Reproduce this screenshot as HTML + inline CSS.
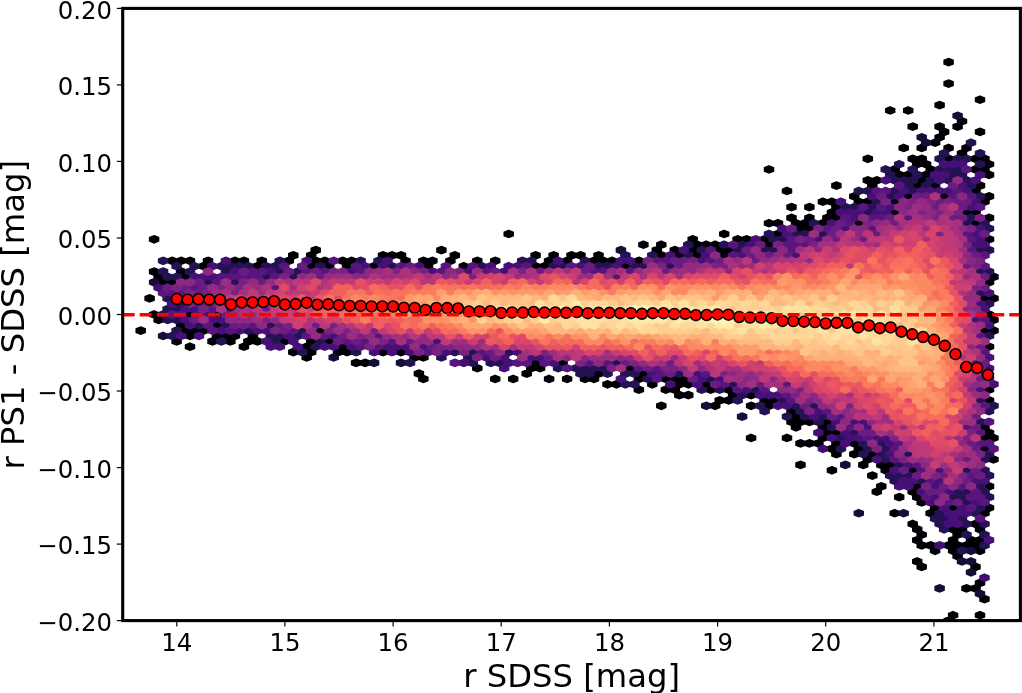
<!DOCTYPE html>
<html><head><meta charset="utf-8"><style>
html,body{margin:0;padding:0;background:#fff;overflow:hidden}
svg{display:block}
text{font-family:"DejaVu Sans","Liberation Sans",sans-serif;fill:#000}
</style></head><body>
<svg width="1022" height="693" viewBox="0 0 1022 693">
<rect width="1022" height="693" fill="#fff"/>
<clipPath id="ax"><rect x="122.7" y="8.4" width="897.7" height="612.2"/></clipPath>
<g stroke-width="1.5" stroke-linejoin="miter" clip-path="url(#ax)">
<path fill="#000004" stroke="#000004" d="M176.6 337.8l4.49 1.79v3.58l-4.49 1.79l-4.49 -1.79v-3.58zM185.5 327.0l4.49 1.79v3.58l-4.49 1.79l-4.49 -1.79v-3.58zM185.5 273.3l4.49 1.79v3.58l-4.49 1.79l-4.49 -1.79v-3.58zM194.5 327.0l4.49 1.79v3.58l-4.49 1.79l-4.49 -1.79v-3.58zM203.5 327.0l4.49 1.79v3.58l-4.49 1.79l-4.49 -1.79v-3.58zM203.5 262.6l4.49 1.79v3.58l-4.49 1.79l-4.49 -1.79v-3.58zM212.5 337.8l4.49 1.79v3.58l-4.49 1.79l-4.49 -1.79v-3.58zM230.4 337.8l4.49 1.79v3.58l-4.49 1.79l-4.49 -1.79v-3.58zM248.4 337.8l4.49 1.79v3.58l-4.49 1.79l-4.49 -1.79v-3.58zM257.4 337.8l4.49 1.79v3.58l-4.49 1.79l-4.49 -1.79v-3.58zM257.4 262.6l4.49 1.79v3.58l-4.49 1.79l-4.49 -1.79v-3.58zM284.3 337.8l4.49 1.79v3.58l-4.49 1.79l-4.49 -1.79v-3.58zM293.3 348.5l4.49 1.79v3.58l-4.49 1.79l-4.49 -1.79v-3.58zM293.3 251.8l4.49 1.79v3.58l-4.49 1.79l-4.49 -1.79v-3.58zM311.2 337.8l4.49 1.79v3.58l-4.49 1.79l-4.49 -1.79v-3.58zM311.2 262.6l4.49 1.79v3.58l-4.49 1.79l-4.49 -1.79v-3.58zM320.2 327.0l4.49 1.79v3.58l-4.49 1.79l-4.49 -1.79v-3.58zM329.2 337.8l4.49 1.79v3.58l-4.49 1.79l-4.49 -1.79v-3.58zM329.2 262.6l4.49 1.79v3.58l-4.49 1.79l-4.49 -1.79v-3.58zM338.1 348.5l4.49 1.79v3.58l-4.49 1.79l-4.49 -1.79v-3.58zM347.1 348.5l4.49 1.79v3.58l-4.49 1.79l-4.49 -1.79v-3.58zM347.1 262.6l4.49 1.79v3.58l-4.49 1.79l-4.49 -1.79v-3.58zM374.1 262.6l4.49 1.79v3.58l-4.49 1.79l-4.49 -1.79v-3.58zM383.0 348.5l4.49 1.79v3.58l-4.49 1.79l-4.49 -1.79v-3.58zM392.0 251.8l4.49 1.79v3.58l-4.49 1.79l-4.49 -1.79v-3.58zM401.0 348.5l4.49 1.79v3.58l-4.49 1.79l-4.49 -1.79v-3.58zM401.0 251.8l4.49 1.79v3.58l-4.49 1.79l-4.49 -1.79v-3.58zM427.9 262.6l4.49 1.79v3.58l-4.49 1.79l-4.49 -1.79v-3.58zM463.8 262.6l4.49 1.79v3.58l-4.49 1.79l-4.49 -1.79v-3.58zM526.7 370.0l4.49 1.79v3.58l-4.49 1.79l-4.49 -1.79v-3.58zM535.6 359.3l4.49 1.79v3.58l-4.49 1.79l-4.49 -1.79v-3.58zM535.6 262.6l4.49 1.79v3.58l-4.49 1.79l-4.49 -1.79v-3.58zM544.6 262.6l4.49 1.79v3.58l-4.49 1.79l-4.49 -1.79v-3.58zM553.6 251.8l4.49 1.79v3.58l-4.49 1.79l-4.49 -1.79v-3.58zM562.6 359.3l4.49 1.79v3.58l-4.49 1.79l-4.49 -1.79v-3.58zM571.5 251.8l4.49 1.79v3.58l-4.49 1.79l-4.49 -1.79v-3.58zM598.5 370.0l4.49 1.79v3.58l-4.49 1.79l-4.49 -1.79v-3.58zM598.5 251.8l4.49 1.79v3.58l-4.49 1.79l-4.49 -1.79v-3.58zM616.4 380.7l4.49 1.79v3.58l-4.49 1.79l-4.49 -1.79v-3.58zM625.4 262.6l4.49 1.79v3.58l-4.49 1.79l-4.49 -1.79v-3.58zM643.4 370.0l4.49 1.79v3.58l-4.49 1.79l-4.49 -1.79v-3.58zM652.3 380.7l4.49 1.79v3.58l-4.49 1.79l-4.49 -1.79v-3.58zM661.3 251.8l4.49 1.79v3.58l-4.49 1.79l-4.49 -1.79v-3.58zM661.3 241.1l4.49 1.79v3.58l-4.49 1.79l-4.49 -1.79v-3.58zM679.3 380.7l4.49 1.79v3.58l-4.49 1.79l-4.49 -1.79v-3.58zM679.3 251.8l4.49 1.79v3.58l-4.49 1.79l-4.49 -1.79v-3.58zM688.3 380.7l4.49 1.79v3.58l-4.49 1.79l-4.49 -1.79v-3.58zM697.2 251.8l4.49 1.79v3.58l-4.49 1.79l-4.49 -1.79v-3.58zM697.2 241.1l4.49 1.79v3.58l-4.49 1.79l-4.49 -1.79v-3.58zM706.2 380.7l4.49 1.79v3.58l-4.49 1.79l-4.49 -1.79v-3.58zM706.2 241.1l4.49 1.79v3.58l-4.49 1.79l-4.49 -1.79v-3.58zM715.2 241.1l4.49 1.79v3.58l-4.49 1.79l-4.49 -1.79v-3.58zM724.2 251.8l4.49 1.79v3.58l-4.49 1.79l-4.49 -1.79v-3.58zM733.1 391.5l4.49 1.79v3.58l-4.49 1.79l-4.49 -1.79v-3.58zM751.1 391.5l4.49 1.79v3.58l-4.49 1.79l-4.49 -1.79v-3.58zM769.0 402.2l4.49 1.79v3.58l-4.49 1.79l-4.49 -1.79v-3.58zM769.0 241.1l4.49 1.79v3.58l-4.49 1.79l-4.49 -1.79v-3.58zM769.0 219.6l4.49 1.79v3.58l-4.49 1.79l-4.49 -1.79v-3.58zM778.0 230.4l4.49 1.79v3.58l-4.49 1.79l-4.49 -1.79v-3.58zM778.0 219.6l4.49 1.79v3.58l-4.49 1.79l-4.49 -1.79v-3.58zM796.0 423.7l4.49 1.79v3.58l-4.49 1.79l-4.49 -1.79v-3.58zM796.0 413.0l4.49 1.79v3.58l-4.49 1.79l-4.49 -1.79v-3.58zM796.0 219.6l4.49 1.79v3.58l-4.49 1.79l-4.49 -1.79v-3.58zM805.0 219.6l4.49 1.79v3.58l-4.49 1.79l-4.49 -1.79v-3.58zM822.9 434.4l4.49 1.79v3.58l-4.49 1.79l-4.49 -1.79v-3.58zM822.9 423.7l4.49 1.79v3.58l-4.49 1.79l-4.49 -1.79v-3.58zM822.9 219.6l4.49 1.79v3.58l-4.49 1.79l-4.49 -1.79v-3.58zM822.9 198.1l4.49 1.79v3.58l-4.49 1.79l-4.49 -1.79v-3.58zM831.9 445.2l4.49 1.79v3.58l-4.49 1.79l-4.49 -1.79v-3.58zM831.9 208.9l4.49 1.79v3.58l-4.49 1.79l-4.49 -1.79v-3.58zM831.9 198.1l4.49 1.79v3.58l-4.49 1.79l-4.49 -1.79v-3.58zM858.8 445.2l4.49 1.79v3.58l-4.49 1.79l-4.49 -1.79v-3.58zM858.8 219.6l4.49 1.79v3.58l-4.49 1.79l-4.49 -1.79v-3.58zM858.8 198.1l4.49 1.79v3.58l-4.49 1.79l-4.49 -1.79v-3.58zM867.8 455.9l4.49 1.79v3.58l-4.49 1.79l-4.49 -1.79v-3.58zM867.8 198.1l4.49 1.79v3.58l-4.49 1.79l-4.49 -1.79v-3.58zM867.8 176.7l4.49 1.79v3.58l-4.49 1.79l-4.49 -1.79v-3.58zM876.8 176.7l4.49 1.79v3.58l-4.49 1.79l-4.49 -1.79v-3.58zM885.7 466.7l4.49 1.79v3.58l-4.49 1.79l-4.49 -1.79v-3.58zM894.7 208.9l4.49 1.79v3.58l-4.49 1.79l-4.49 -1.79v-3.58zM894.7 198.1l4.49 1.79v3.58l-4.49 1.79l-4.49 -1.79v-3.58zM894.7 165.9l4.49 1.79v3.58l-4.49 1.79l-4.49 -1.79v-3.58zM912.7 488.1l4.49 1.79v3.58l-4.49 1.79l-4.49 -1.79v-3.58zM912.7 466.7l4.49 1.79v3.58l-4.49 1.79l-4.49 -1.79v-3.58zM912.7 155.2l4.49 1.79v3.58l-4.49 1.79l-4.49 -1.79v-3.58zM921.7 498.9l4.49 1.79v3.58l-4.49 1.79l-4.49 -1.79v-3.58zM921.7 176.7l4.49 1.79v3.58l-4.49 1.79l-4.49 -1.79v-3.58zM921.7 155.2l4.49 1.79v3.58l-4.49 1.79l-4.49 -1.79v-3.58zM930.6 509.6l4.49 1.79v3.58l-4.49 1.79l-4.49 -1.79v-3.58zM930.6 165.9l4.49 1.79v3.58l-4.49 1.79l-4.49 -1.79v-3.58zM939.6 133.7l4.49 1.79v3.58l-4.49 1.79l-4.49 -1.79v-3.58zM948.6 541.8l4.49 1.79v3.58l-4.49 1.79l-4.49 -1.79v-3.58zM948.6 155.2l4.49 1.79v3.58l-4.49 1.79l-4.49 -1.79v-3.58zM948.6 144.4l4.49 1.79v3.58l-4.49 1.79l-4.49 -1.79v-3.58zM957.6 552.6l4.49 1.79v3.58l-4.49 1.79l-4.49 -1.79v-3.58zM957.6 531.1l4.49 1.79v3.58l-4.49 1.79l-4.49 -1.79v-3.58zM966.5 541.8l4.49 1.79v3.58l-4.49 1.79l-4.49 -1.79v-3.58zM966.5 208.9l4.49 1.79v3.58l-4.49 1.79l-4.49 -1.79v-3.58zM966.5 144.4l4.49 1.79v3.58l-4.49 1.79l-4.49 -1.79v-3.58zM975.5 520.4l4.49 1.79v3.58l-4.49 1.79l-4.49 -1.79v-3.58zM975.5 219.6l4.49 1.79v3.58l-4.49 1.79l-4.49 -1.79v-3.58zM975.5 208.9l4.49 1.79v3.58l-4.49 1.79l-4.49 -1.79v-3.58zM975.5 187.4l4.49 1.79v3.58l-4.49 1.79l-4.49 -1.79v-3.58zM975.5 165.9l4.49 1.79v3.58l-4.49 1.79l-4.49 -1.79v-3.58zM975.5 155.2l4.49 1.79v3.58l-4.49 1.79l-4.49 -1.79v-3.58zM984.5 509.6l4.49 1.79v3.58l-4.49 1.79l-4.49 -1.79v-3.58zM984.5 445.2l4.49 1.79v3.58l-4.49 1.79l-4.49 -1.79v-3.58zM984.5 434.4l4.49 1.79v3.58l-4.49 1.79l-4.49 -1.79v-3.58zM984.5 423.7l4.49 1.79v3.58l-4.49 1.79l-4.49 -1.79v-3.58zM984.5 327.0l4.49 1.79v3.58l-4.49 1.79l-4.49 -1.79v-3.58zM984.5 294.8l4.49 1.79v3.58l-4.49 1.79l-4.49 -1.79v-3.58zM984.5 198.1l4.49 1.79v3.58l-4.49 1.79l-4.49 -1.79v-3.58zM984.5 165.9l4.49 1.79v3.58l-4.49 1.79l-4.49 -1.79v-3.58zM984.5 155.2l4.49 1.79v3.58l-4.49 1.79l-4.49 -1.79v-3.58zM993.5 455.9l4.49 1.79v3.58l-4.49 1.79l-4.49 -1.79v-3.58zM993.5 434.4l4.49 1.79v3.58l-4.49 1.79l-4.49 -1.79v-3.58zM993.5 327.0l4.49 1.79v3.58l-4.49 1.79l-4.49 -1.79v-3.58zM993.5 316.3l4.49 1.79v3.58l-4.49 1.79l-4.49 -1.79v-3.58zM993.5 294.8l4.49 1.79v3.58l-4.49 1.79l-4.49 -1.79v-3.58zM993.5 273.3l4.49 1.79v3.58l-4.49 1.79l-4.49 -1.79v-3.58zM163.1 278.7l4.49 1.79v3.58l-4.49 1.79l-4.49 -1.79v-3.58zM172.1 278.7l4.49 1.79v3.58l-4.49 1.79l-4.49 -1.79v-3.58zM172.1 257.2l4.49 1.79v3.58l-4.49 1.79l-4.49 -1.79v-3.58zM181.1 321.7l4.49 1.79v3.58l-4.49 1.79l-4.49 -1.79v-3.58zM181.1 268.0l4.49 1.79v3.58l-4.49 1.79l-4.49 -1.79v-3.58zM181.1 257.2l4.49 1.79v3.58l-4.49 1.79l-4.49 -1.79v-3.58zM190.0 332.4l4.49 1.79v3.58l-4.49 1.79l-4.49 -1.79v-3.58zM190.0 310.9l4.49 1.79v3.58l-4.49 1.79l-4.49 -1.79v-3.58zM190.0 257.2l4.49 1.79v3.58l-4.49 1.79l-4.49 -1.79v-3.58zM208.0 257.2l4.49 1.79v3.58l-4.49 1.79l-4.49 -1.79v-3.58zM217.0 332.4l4.49 1.79v3.58l-4.49 1.79l-4.49 -1.79v-3.58zM217.0 321.7l4.49 1.79v3.58l-4.49 1.79l-4.49 -1.79v-3.58zM217.0 310.9l4.49 1.79v3.58l-4.49 1.79l-4.49 -1.79v-3.58zM225.9 332.4l4.49 1.79v3.58l-4.49 1.79l-4.49 -1.79v-3.58zM234.9 332.4l4.49 1.79v3.58l-4.49 1.79l-4.49 -1.79v-3.58zM234.9 257.2l4.49 1.79v3.58l-4.49 1.79l-4.49 -1.79v-3.58zM243.9 343.1l4.49 1.79v3.58l-4.49 1.79l-4.49 -1.79v-3.58zM243.9 257.2l4.49 1.79v3.58l-4.49 1.79l-4.49 -1.79v-3.58zM252.9 332.4l4.49 1.79v3.58l-4.49 1.79l-4.49 -1.79v-3.58zM261.8 257.2l4.49 1.79v3.58l-4.49 1.79l-4.49 -1.79v-3.58zM288.8 257.2l4.49 1.79v3.58l-4.49 1.79l-4.49 -1.79v-3.58zM306.7 343.1l4.49 1.79v3.58l-4.49 1.79l-4.49 -1.79v-3.58zM315.7 257.2l4.49 1.79v3.58l-4.49 1.79l-4.49 -1.79v-3.58zM324.7 257.2l4.49 1.79v3.58l-4.49 1.79l-4.49 -1.79v-3.58zM342.6 343.1l4.49 1.79v3.58l-4.49 1.79l-4.49 -1.79v-3.58zM342.6 257.2l4.49 1.79v3.58l-4.49 1.79l-4.49 -1.79v-3.58zM351.6 257.2l4.49 1.79v3.58l-4.49 1.79l-4.49 -1.79v-3.58zM405.5 257.2l4.49 1.79v3.58l-4.49 1.79l-4.49 -1.79v-3.58zM414.5 353.9l4.49 1.79v3.58l-4.49 1.79l-4.49 -1.79v-3.58zM423.4 353.9l4.49 1.79v3.58l-4.49 1.79l-4.49 -1.79v-3.58zM423.4 257.2l4.49 1.79v3.58l-4.49 1.79l-4.49 -1.79v-3.58zM432.4 257.2l4.49 1.79v3.58l-4.49 1.79l-4.49 -1.79v-3.58zM450.4 257.2l4.49 1.79v3.58l-4.49 1.79l-4.49 -1.79v-3.58zM477.3 364.6l4.49 1.79v3.58l-4.49 1.79l-4.49 -1.79v-3.58zM477.3 257.2l4.49 1.79v3.58l-4.49 1.79l-4.49 -1.79v-3.58zM495.2 257.2l4.49 1.79v3.58l-4.49 1.79l-4.49 -1.79v-3.58zM531.2 364.6l4.49 1.79v3.58l-4.49 1.79l-4.49 -1.79v-3.58zM540.1 364.6l4.49 1.79v3.58l-4.49 1.79l-4.49 -1.79v-3.58zM549.1 375.4l4.49 1.79v3.58l-4.49 1.79l-4.49 -1.79v-3.58zM549.1 257.2l4.49 1.79v3.58l-4.49 1.79l-4.49 -1.79v-3.58zM567.1 375.4l4.49 1.79v3.58l-4.49 1.79l-4.49 -1.79v-3.58zM567.1 257.2l4.49 1.79v3.58l-4.49 1.79l-4.49 -1.79v-3.58zM585.0 375.4l4.49 1.79v3.58l-4.49 1.79l-4.49 -1.79v-3.58zM594.0 375.4l4.49 1.79v3.58l-4.49 1.79l-4.49 -1.79v-3.58zM594.0 257.2l4.49 1.79v3.58l-4.49 1.79l-4.49 -1.79v-3.58zM603.0 257.2l4.49 1.79v3.58l-4.49 1.79l-4.49 -1.79v-3.58zM611.9 257.2l4.49 1.79v3.58l-4.49 1.79l-4.49 -1.79v-3.58zM629.9 364.6l4.49 1.79v3.58l-4.49 1.79l-4.49 -1.79v-3.58zM638.9 386.1l4.49 1.79v3.58l-4.49 1.79l-4.49 -1.79v-3.58zM638.9 375.4l4.49 1.79v3.58l-4.49 1.79l-4.49 -1.79v-3.58zM638.9 257.2l4.49 1.79v3.58l-4.49 1.79l-4.49 -1.79v-3.58zM656.8 246.5l4.49 1.79v3.58l-4.49 1.79l-4.49 -1.79v-3.58zM665.8 386.1l4.49 1.79v3.58l-4.49 1.79l-4.49 -1.79v-3.58zM665.8 375.4l4.49 1.79v3.58l-4.49 1.79l-4.49 -1.79v-3.58zM674.8 386.1l4.49 1.79v3.58l-4.49 1.79l-4.49 -1.79v-3.58zM674.8 375.4l4.49 1.79v3.58l-4.49 1.79l-4.49 -1.79v-3.58zM674.8 246.5l4.49 1.79v3.58l-4.49 1.79l-4.49 -1.79v-3.58zM683.8 375.4l4.49 1.79v3.58l-4.49 1.79l-4.49 -1.79v-3.58zM692.7 246.5l4.49 1.79v3.58l-4.49 1.79l-4.49 -1.79v-3.58zM710.7 386.1l4.49 1.79v3.58l-4.49 1.79l-4.49 -1.79v-3.58zM719.7 396.8l4.49 1.79v3.58l-4.49 1.79l-4.49 -1.79v-3.58zM719.7 246.5l4.49 1.79v3.58l-4.49 1.79l-4.49 -1.79v-3.58zM728.6 396.8l4.49 1.79v3.58l-4.49 1.79l-4.49 -1.79v-3.58zM728.6 386.1l4.49 1.79v3.58l-4.49 1.79l-4.49 -1.79v-3.58zM728.6 246.5l4.49 1.79v3.58l-4.49 1.79l-4.49 -1.79v-3.58zM737.6 235.7l4.49 1.79v3.58l-4.49 1.79l-4.49 -1.79v-3.58zM746.6 235.7l4.49 1.79v3.58l-4.49 1.79l-4.49 -1.79v-3.58zM764.6 396.8l4.49 1.79v3.58l-4.49 1.79l-4.49 -1.79v-3.58zM764.6 235.7l4.49 1.79v3.58l-4.49 1.79l-4.49 -1.79v-3.58zM773.5 396.8l4.49 1.79v3.58l-4.49 1.79l-4.49 -1.79v-3.58zM791.5 418.3l4.49 1.79v3.58l-4.49 1.79l-4.49 -1.79v-3.58zM791.5 407.6l4.49 1.79v3.58l-4.49 1.79l-4.49 -1.79v-3.58zM791.5 214.3l4.49 1.79v3.58l-4.49 1.79l-4.49 -1.79v-3.58zM800.5 418.3l4.49 1.79v3.58l-4.49 1.79l-4.49 -1.79v-3.58zM800.5 225.0l4.49 1.79v3.58l-4.49 1.79l-4.49 -1.79v-3.58zM809.4 439.8l4.49 1.79v3.58l-4.49 1.79l-4.49 -1.79v-3.58zM809.4 418.3l4.49 1.79v3.58l-4.49 1.79l-4.49 -1.79v-3.58zM809.4 225.0l4.49 1.79v3.58l-4.49 1.79l-4.49 -1.79v-3.58zM809.4 214.3l4.49 1.79v3.58l-4.49 1.79l-4.49 -1.79v-3.58zM809.4 203.5l4.49 1.79v3.58l-4.49 1.79l-4.49 -1.79v-3.58zM818.4 439.8l4.49 1.79v3.58l-4.49 1.79l-4.49 -1.79v-3.58zM827.4 429.1l4.49 1.79v3.58l-4.49 1.79l-4.49 -1.79v-3.58zM827.4 418.3l4.49 1.79v3.58l-4.49 1.79l-4.49 -1.79v-3.58zM827.4 214.3l4.49 1.79v3.58l-4.49 1.79l-4.49 -1.79v-3.58zM836.4 439.8l4.49 1.79v3.58l-4.49 1.79l-4.49 -1.79v-3.58zM836.4 429.1l4.49 1.79v3.58l-4.49 1.79l-4.49 -1.79v-3.58zM836.4 214.3l4.49 1.79v3.58l-4.49 1.79l-4.49 -1.79v-3.58zM836.4 203.5l4.49 1.79v3.58l-4.49 1.79l-4.49 -1.79v-3.58zM854.3 450.5l4.49 1.79v3.58l-4.49 1.79l-4.49 -1.79v-3.58zM854.3 439.8l4.49 1.79v3.58l-4.49 1.79l-4.49 -1.79v-3.58zM854.3 192.8l4.49 1.79v3.58l-4.49 1.79l-4.49 -1.79v-3.58zM863.3 461.3l4.49 1.79v3.58l-4.49 1.79l-4.49 -1.79v-3.58zM872.3 472.0l4.49 1.79v3.58l-4.49 1.79l-4.49 -1.79v-3.58zM872.3 450.5l4.49 1.79v3.58l-4.49 1.79l-4.49 -1.79v-3.58zM872.3 182.0l4.49 1.79v3.58l-4.49 1.79l-4.49 -1.79v-3.58zM881.3 482.8l4.49 1.79v3.58l-4.49 1.79l-4.49 -1.79v-3.58zM881.3 461.3l4.49 1.79v3.58l-4.49 1.79l-4.49 -1.79v-3.58zM890.2 461.3l4.49 1.79v3.58l-4.49 1.79l-4.49 -1.79v-3.58zM899.2 493.5l4.49 1.79v3.58l-4.49 1.79l-4.49 -1.79v-3.58zM899.2 171.3l4.49 1.79v3.58l-4.49 1.79l-4.49 -1.79v-3.58zM908.2 192.8l4.49 1.79v3.58l-4.49 1.79l-4.49 -1.79v-3.58zM908.2 171.3l4.49 1.79v3.58l-4.49 1.79l-4.49 -1.79v-3.58zM917.2 493.5l4.49 1.79v3.58l-4.49 1.79l-4.49 -1.79v-3.58zM917.2 482.8l4.49 1.79v3.58l-4.49 1.79l-4.49 -1.79v-3.58zM917.2 182.0l4.49 1.79v3.58l-4.49 1.79l-4.49 -1.79v-3.58zM917.2 160.6l4.49 1.79v3.58l-4.49 1.79l-4.49 -1.79v-3.58zM926.1 171.3l4.49 1.79v3.58l-4.49 1.79l-4.49 -1.79v-3.58zM926.1 160.6l4.49 1.79v3.58l-4.49 1.79l-4.49 -1.79v-3.58zM935.1 504.2l4.49 1.79v3.58l-4.49 1.79l-4.49 -1.79v-3.58zM935.1 182.0l4.49 1.79v3.58l-4.49 1.79l-4.49 -1.79v-3.58zM935.1 139.1l4.49 1.79v3.58l-4.49 1.79l-4.49 -1.79v-3.58zM944.1 192.8l4.49 1.79v3.58l-4.49 1.79l-4.49 -1.79v-3.58zM953.1 536.5l4.49 1.79v3.58l-4.49 1.79l-4.49 -1.79v-3.58zM953.1 525.7l4.49 1.79v3.58l-4.49 1.79l-4.49 -1.79v-3.58zM953.1 504.2l4.49 1.79v3.58l-4.49 1.79l-4.49 -1.79v-3.58zM962.0 525.7l4.49 1.79v3.58l-4.49 1.79l-4.49 -1.79v-3.58zM962.0 149.8l4.49 1.79v3.58l-4.49 1.79l-4.49 -1.79v-3.58zM971.0 536.5l4.49 1.79v3.58l-4.49 1.79l-4.49 -1.79v-3.58zM980.0 547.2l4.49 1.79v3.58l-4.49 1.79l-4.49 -1.79v-3.58zM980.0 536.5l4.49 1.79v3.58l-4.49 1.79l-4.49 -1.79v-3.58zM980.0 525.7l4.49 1.79v3.58l-4.49 1.79l-4.49 -1.79v-3.58zM980.0 182.0l4.49 1.79v3.58l-4.49 1.79l-4.49 -1.79v-3.58zM989.0 504.2l4.49 1.79v3.58l-4.49 1.79l-4.49 -1.79v-3.58zM989.0 482.8l4.49 1.79v3.58l-4.49 1.79l-4.49 -1.79v-3.58zM989.0 429.1l4.49 1.79v3.58l-4.49 1.79l-4.49 -1.79v-3.58zM989.0 396.8l4.49 1.79v3.58l-4.49 1.79l-4.49 -1.79v-3.58zM989.0 386.1l4.49 1.79v3.58l-4.49 1.79l-4.49 -1.79v-3.58zM989.0 343.1l4.49 1.79v3.58l-4.49 1.79l-4.49 -1.79v-3.58zM989.0 310.9l4.49 1.79v3.58l-4.49 1.79l-4.49 -1.79v-3.58zM989.0 278.7l4.49 1.79v3.58l-4.49 1.79l-4.49 -1.79v-3.58zM989.0 235.7l4.49 1.79v3.58l-4.49 1.79l-4.49 -1.79v-3.58zM989.0 214.3l4.49 1.79v3.58l-4.49 1.79l-4.49 -1.79v-3.58zM989.0 192.8l4.49 1.79v3.58l-4.49 1.79l-4.49 -1.79v-3.58zM989.0 171.3l4.49 1.79v3.58l-4.49 1.79l-4.49 -1.79v-3.58zM989.0 160.6l4.49 1.79v3.58l-4.49 1.79l-4.49 -1.79v-3.58zM154.1 268.0l4.49 1.79v3.58l-4.49 1.79l-4.49 -1.79v-3.58zM158.6 273.3l4.49 1.79v3.58l-4.49 1.79l-4.49 -1.79v-3.58zM149.6 294.8l4.49 1.79v3.58l-4.49 1.79l-4.49 -1.79v-3.58zM154.1 235.7l4.49 1.79v3.58l-4.49 1.79l-4.49 -1.79v-3.58zM154.1 310.9l4.49 1.79v3.58l-4.49 1.79l-4.49 -1.79v-3.58zM158.6 316.3l4.49 1.79v3.58l-4.49 1.79l-4.49 -1.79v-3.58zM140.7 327.0l4.49 1.79v3.58l-4.49 1.79l-4.49 -1.79v-3.58zM315.7 246.5l4.49 1.79v3.58l-4.49 1.79l-4.49 -1.79v-3.58zM311.2 251.8l4.49 1.79v3.58l-4.49 1.79l-4.49 -1.79v-3.58zM383.0 251.8l4.49 1.79v3.58l-4.49 1.79l-4.49 -1.79v-3.58zM508.7 230.4l4.49 1.79v3.58l-4.49 1.79l-4.49 -1.79v-3.58zM692.7 235.7l4.49 1.79v3.58l-4.49 1.79l-4.49 -1.79v-3.58zM643.4 241.1l4.49 1.79v3.58l-4.49 1.79l-4.49 -1.79v-3.58zM441.4 246.5l4.49 1.79v3.58l-4.49 1.79l-4.49 -1.79v-3.58zM454.8 251.8l4.49 1.79v3.58l-4.49 1.79l-4.49 -1.79v-3.58zM580.5 251.8l4.49 1.79v3.58l-4.49 1.79l-4.49 -1.79v-3.58zM535.6 251.8l4.49 1.79v3.58l-4.49 1.79l-4.49 -1.79v-3.58zM769.0 165.9l4.49 1.79v3.58l-4.49 1.79l-4.49 -1.79v-3.58zM787.0 187.4l4.49 1.79v3.58l-4.49 1.79l-4.49 -1.79v-3.58zM867.8 155.2l4.49 1.79v3.58l-4.49 1.79l-4.49 -1.79v-3.58zM836.4 182.0l4.49 1.79v3.58l-4.49 1.79l-4.49 -1.79v-3.58zM791.5 203.5l4.49 1.79v3.58l-4.49 1.79l-4.49 -1.79v-3.58zM724.2 230.4l4.49 1.79v3.58l-4.49 1.79l-4.49 -1.79v-3.58zM948.6 58.5l4.49 1.79v3.58l-4.49 1.79l-4.49 -1.79v-3.58zM948.6 80.0l4.49 1.79v3.58l-4.49 1.79l-4.49 -1.79v-3.58zM980.0 96.1l4.49 1.79v3.58l-4.49 1.79l-4.49 -1.79v-3.58zM939.6 101.5l4.49 1.79v3.58l-4.49 1.79l-4.49 -1.79v-3.58zM890.2 106.9l4.49 1.79v3.58l-4.49 1.79l-4.49 -1.79v-3.58zM908.2 106.9l4.49 1.79v3.58l-4.49 1.79l-4.49 -1.79v-3.58zM912.7 123.0l4.49 1.79v3.58l-4.49 1.79l-4.49 -1.79v-3.58zM980.0 128.3l4.49 1.79v3.58l-4.49 1.79l-4.49 -1.79v-3.58zM962.0 117.6l4.49 1.79v3.58l-4.49 1.79l-4.49 -1.79v-3.58zM957.6 123.0l4.49 1.79v3.58l-4.49 1.79l-4.49 -1.79v-3.58zM939.6 123.0l4.49 1.79v3.58l-4.49 1.79l-4.49 -1.79v-3.58zM944.1 128.3l4.49 1.79v3.58l-4.49 1.79l-4.49 -1.79v-3.58zM921.7 144.4l4.49 1.79v3.58l-4.49 1.79l-4.49 -1.79v-3.58zM903.7 144.4l4.49 1.79v3.58l-4.49 1.79l-4.49 -1.79v-3.58zM190.0 343.1l4.49 1.79v3.58l-4.49 1.79l-4.49 -1.79v-3.58zM306.7 353.9l4.49 1.79v3.58l-4.49 1.79l-4.49 -1.79v-3.58zM311.2 348.5l4.49 1.79v3.58l-4.49 1.79l-4.49 -1.79v-3.58zM356.1 359.3l4.49 1.79v3.58l-4.49 1.79l-4.49 -1.79v-3.58zM365.1 359.3l4.49 1.79v3.58l-4.49 1.79l-4.49 -1.79v-3.58zM418.9 370.0l4.49 1.79v3.58l-4.49 1.79l-4.49 -1.79v-3.58zM423.4 375.4l4.49 1.79v3.58l-4.49 1.79l-4.49 -1.79v-3.58zM495.2 375.4l4.49 1.79v3.58l-4.49 1.79l-4.49 -1.79v-3.58zM513.2 375.4l4.49 1.79v3.58l-4.49 1.79l-4.49 -1.79v-3.58zM607.5 380.7l4.49 1.79v3.58l-4.49 1.79l-4.49 -1.79v-3.58zM661.3 402.2l4.49 1.79v3.58l-4.49 1.79l-4.49 -1.79v-3.58zM715.2 402.2l4.49 1.79v3.58l-4.49 1.79l-4.49 -1.79v-3.58zM679.3 391.5l4.49 1.79v3.58l-4.49 1.79l-4.49 -1.79v-3.58zM688.3 391.5l4.49 1.79v3.58l-4.49 1.79l-4.49 -1.79v-3.58zM751.1 434.4l4.49 1.79v3.58l-4.49 1.79l-4.49 -1.79v-3.58zM787.0 434.4l4.49 1.79v3.58l-4.49 1.79l-4.49 -1.79v-3.58zM800.5 439.8l4.49 1.79v3.58l-4.49 1.79l-4.49 -1.79v-3.58zM800.5 461.3l4.49 1.79v3.58l-4.49 1.79l-4.49 -1.79v-3.58zM831.9 466.7l4.49 1.79v3.58l-4.49 1.79l-4.49 -1.79v-3.58zM836.4 450.5l4.49 1.79v3.58l-4.49 1.79l-4.49 -1.79v-3.58zM876.8 488.1l4.49 1.79v3.58l-4.49 1.79l-4.49 -1.79v-3.58zM751.1 402.2l4.49 1.79v3.58l-4.49 1.79l-4.49 -1.79v-3.58zM894.7 509.6l4.49 1.79v3.58l-4.49 1.79l-4.49 -1.79v-3.58zM912.7 520.4l4.49 1.79v3.58l-4.49 1.79l-4.49 -1.79v-3.58zM917.2 525.7l4.49 1.79v3.58l-4.49 1.79l-4.49 -1.79v-3.58zM921.7 531.1l4.49 1.79v3.58l-4.49 1.79l-4.49 -1.79v-3.58zM917.2 536.5l4.49 1.79v3.58l-4.49 1.79l-4.49 -1.79v-3.58zM921.7 541.8l4.49 1.79v3.58l-4.49 1.79l-4.49 -1.79v-3.58zM930.6 541.8l4.49 1.79v3.58l-4.49 1.79l-4.49 -1.79v-3.58zM935.1 547.2l4.49 1.79v3.58l-4.49 1.79l-4.49 -1.79v-3.58zM953.1 547.2l4.49 1.79v3.58l-4.49 1.79l-4.49 -1.79v-3.58zM957.6 541.8l4.49 1.79v3.58l-4.49 1.79l-4.49 -1.79v-3.58zM975.5 541.8l4.49 1.79v3.58l-4.49 1.79l-4.49 -1.79v-3.58zM917.2 557.9l4.49 1.79v3.58l-4.49 1.79l-4.49 -1.79v-3.58zM921.7 563.3l4.49 1.79v3.58l-4.49 1.79l-4.49 -1.79v-3.58zM975.5 563.3l4.49 1.79v3.58l-4.49 1.79l-4.49 -1.79v-3.58zM980.0 579.4l4.49 1.79v3.58l-4.49 1.79l-4.49 -1.79v-3.58zM975.5 584.8l4.49 1.79v3.58l-4.49 1.79l-4.49 -1.79v-3.58zM966.5 584.8l4.49 1.79v3.58l-4.49 1.79l-4.49 -1.79v-3.58zM984.5 595.5l4.49 1.79v3.58l-4.49 1.79l-4.49 -1.79v-3.58zM953.1 611.6l4.49 1.79v3.58l-4.49 1.79l-4.49 -1.79v-3.58zM980.0 611.6l4.49 1.79v3.58l-4.49 1.79l-4.49 -1.79v-3.58zM948.6 617.0l4.49 1.79v3.58l-4.49 1.79l-4.49 -1.79v-3.58z"/>
<path fill="#150e38" stroke="#150e38" d="M154.1 278.7l4.49 1.79v3.58l-4.49 1.79l-4.49 -1.79v-3.58zM163.1 332.4l4.49 1.79v3.58l-4.49 1.79l-4.49 -1.79v-3.58zM620.9 246.5l4.49 1.79v3.58l-4.49 1.79l-4.49 -1.79v-3.58zM957.6 112.2l4.49 1.79v3.58l-4.49 1.79l-4.49 -1.79v-3.58zM921.7 133.7l4.49 1.79v3.58l-4.49 1.79l-4.49 -1.79v-3.58zM926.1 139.1l4.49 1.79v3.58l-4.49 1.79l-4.49 -1.79v-3.58zM333.7 353.9l4.49 1.79v3.58l-4.49 1.79l-4.49 -1.79v-3.58zM374.1 359.3l4.49 1.79v3.58l-4.49 1.79l-4.49 -1.79v-3.58zM401.0 359.3l4.49 1.79v3.58l-4.49 1.79l-4.49 -1.79v-3.58zM706.2 402.2l4.49 1.79v3.58l-4.49 1.79l-4.49 -1.79v-3.58zM742.1 413.0l4.49 1.79v3.58l-4.49 1.79l-4.49 -1.79v-3.58zM845.3 461.3l4.49 1.79v3.58l-4.49 1.79l-4.49 -1.79v-3.58zM858.8 509.6l4.49 1.79v3.58l-4.49 1.79l-4.49 -1.79v-3.58zM903.7 509.6l4.49 1.79v3.58l-4.49 1.79l-4.49 -1.79v-3.58zM971.0 547.2l4.49 1.79v3.58l-4.49 1.79l-4.49 -1.79v-3.58zM962.0 557.9l4.49 1.79v3.58l-4.49 1.79l-4.49 -1.79v-3.58zM971.0 557.9l4.49 1.79v3.58l-4.49 1.79l-4.49 -1.79v-3.58zM971.0 568.7l4.49 1.79v3.58l-4.49 1.79l-4.49 -1.79v-3.58zM939.6 584.8l4.49 1.79v3.58l-4.49 1.79l-4.49 -1.79v-3.58zM980.0 590.2l4.49 1.79v3.58l-4.49 1.79l-4.49 -1.79v-3.58z"/>
<path fill="#241253" stroke="#241253" d="M167.6 316.3l4.49 1.79v3.58l-4.49 1.79l-4.49 -1.79v-3.58zM167.6 305.5l4.49 1.79v3.58l-4.49 1.79l-4.49 -1.79v-3.58zM167.6 294.8l4.49 1.79v3.58l-4.49 1.79l-4.49 -1.79v-3.58zM167.6 273.3l4.49 1.79v3.58l-4.49 1.79l-4.49 -1.79v-3.58zM176.6 327.0l4.49 1.79v3.58l-4.49 1.79l-4.49 -1.79v-3.58zM176.6 316.3l4.49 1.79v3.58l-4.49 1.79l-4.49 -1.79v-3.58zM176.6 305.5l4.49 1.79v3.58l-4.49 1.79l-4.49 -1.79v-3.58zM176.6 273.3l4.49 1.79v3.58l-4.49 1.79l-4.49 -1.79v-3.58zM176.6 262.6l4.49 1.79v3.58l-4.49 1.79l-4.49 -1.79v-3.58zM194.5 262.6l4.49 1.79v3.58l-4.49 1.79l-4.49 -1.79v-3.58zM221.4 337.8l4.49 1.79v3.58l-4.49 1.79l-4.49 -1.79v-3.58zM221.4 262.6l4.49 1.79v3.58l-4.49 1.79l-4.49 -1.79v-3.58zM230.4 262.6l4.49 1.79v3.58l-4.49 1.79l-4.49 -1.79v-3.58zM239.4 262.6l4.49 1.79v3.58l-4.49 1.79l-4.49 -1.79v-3.58zM248.4 327.0l4.49 1.79v3.58l-4.49 1.79l-4.49 -1.79v-3.58zM248.4 262.6l4.49 1.79v3.58l-4.49 1.79l-4.49 -1.79v-3.58zM266.3 273.3l4.49 1.79v3.58l-4.49 1.79l-4.49 -1.79v-3.58zM266.3 262.6l4.49 1.79v3.58l-4.49 1.79l-4.49 -1.79v-3.58zM275.3 337.8l4.49 1.79v3.58l-4.49 1.79l-4.49 -1.79v-3.58zM275.3 262.6l4.49 1.79v3.58l-4.49 1.79l-4.49 -1.79v-3.58zM293.3 273.3l4.49 1.79v3.58l-4.49 1.79l-4.49 -1.79v-3.58zM302.2 348.5l4.49 1.79v3.58l-4.49 1.79l-4.49 -1.79v-3.58zM302.2 327.0l4.49 1.79v3.58l-4.49 1.79l-4.49 -1.79v-3.58zM320.2 337.8l4.49 1.79v3.58l-4.49 1.79l-4.49 -1.79v-3.58zM320.2 262.6l4.49 1.79v3.58l-4.49 1.79l-4.49 -1.79v-3.58zM356.1 348.5l4.49 1.79v3.58l-4.49 1.79l-4.49 -1.79v-3.58zM392.0 262.6l4.49 1.79v3.58l-4.49 1.79l-4.49 -1.79v-3.58zM410.0 359.3l4.49 1.79v3.58l-4.49 1.79l-4.49 -1.79v-3.58zM454.8 348.5l4.49 1.79v3.58l-4.49 1.79l-4.49 -1.79v-3.58zM472.8 359.3l4.49 1.79v3.58l-4.49 1.79l-4.49 -1.79v-3.58zM472.8 348.5l4.49 1.79v3.58l-4.49 1.79l-4.49 -1.79v-3.58zM481.8 262.6l4.49 1.79v3.58l-4.49 1.79l-4.49 -1.79v-3.58zM490.8 359.3l4.49 1.79v3.58l-4.49 1.79l-4.49 -1.79v-3.58zM499.7 359.3l4.49 1.79v3.58l-4.49 1.79l-4.49 -1.79v-3.58zM508.7 348.5l4.49 1.79v3.58l-4.49 1.79l-4.49 -1.79v-3.58zM553.6 262.6l4.49 1.79v3.58l-4.49 1.79l-4.49 -1.79v-3.58zM562.6 262.6l4.49 1.79v3.58l-4.49 1.79l-4.49 -1.79v-3.58zM580.5 370.0l4.49 1.79v3.58l-4.49 1.79l-4.49 -1.79v-3.58zM589.5 370.0l4.49 1.79v3.58l-4.49 1.79l-4.49 -1.79v-3.58zM598.5 262.6l4.49 1.79v3.58l-4.49 1.79l-4.49 -1.79v-3.58zM607.5 370.0l4.49 1.79v3.58l-4.49 1.79l-4.49 -1.79v-3.58zM607.5 262.6l4.49 1.79v3.58l-4.49 1.79l-4.49 -1.79v-3.58zM616.4 359.3l4.49 1.79v3.58l-4.49 1.79l-4.49 -1.79v-3.58zM625.4 380.7l4.49 1.79v3.58l-4.49 1.79l-4.49 -1.79v-3.58zM625.4 370.0l4.49 1.79v3.58l-4.49 1.79l-4.49 -1.79v-3.58zM625.4 251.8l4.49 1.79v3.58l-4.49 1.79l-4.49 -1.79v-3.58zM634.4 380.7l4.49 1.79v3.58l-4.49 1.79l-4.49 -1.79v-3.58zM634.4 370.0l4.49 1.79v3.58l-4.49 1.79l-4.49 -1.79v-3.58zM634.4 262.6l4.49 1.79v3.58l-4.49 1.79l-4.49 -1.79v-3.58zM643.4 262.6l4.49 1.79v3.58l-4.49 1.79l-4.49 -1.79v-3.58zM652.3 251.8l4.49 1.79v3.58l-4.49 1.79l-4.49 -1.79v-3.58zM670.3 262.6l4.49 1.79v3.58l-4.49 1.79l-4.49 -1.79v-3.58zM679.3 370.0l4.49 1.79v3.58l-4.49 1.79l-4.49 -1.79v-3.58zM688.3 251.8l4.49 1.79v3.58l-4.49 1.79l-4.49 -1.79v-3.58zM688.3 241.1l4.49 1.79v3.58l-4.49 1.79l-4.49 -1.79v-3.58zM724.2 241.1l4.49 1.79v3.58l-4.49 1.79l-4.49 -1.79v-3.58zM733.1 380.7l4.49 1.79v3.58l-4.49 1.79l-4.49 -1.79v-3.58zM742.1 391.5l4.49 1.79v3.58l-4.49 1.79l-4.49 -1.79v-3.58zM742.1 241.1l4.49 1.79v3.58l-4.49 1.79l-4.49 -1.79v-3.58zM760.1 402.2l4.49 1.79v3.58l-4.49 1.79l-4.49 -1.79v-3.58zM769.0 230.4l4.49 1.79v3.58l-4.49 1.79l-4.49 -1.79v-3.58zM787.0 413.0l4.49 1.79v3.58l-4.49 1.79l-4.49 -1.79v-3.58zM796.0 402.2l4.49 1.79v3.58l-4.49 1.79l-4.49 -1.79v-3.58zM796.0 230.4l4.49 1.79v3.58l-4.49 1.79l-4.49 -1.79v-3.58zM805.0 413.0l4.49 1.79v3.58l-4.49 1.79l-4.49 -1.79v-3.58zM805.0 230.4l4.49 1.79v3.58l-4.49 1.79l-4.49 -1.79v-3.58zM813.9 402.2l4.49 1.79v3.58l-4.49 1.79l-4.49 -1.79v-3.58zM813.9 219.6l4.49 1.79v3.58l-4.49 1.79l-4.49 -1.79v-3.58zM822.9 413.0l4.49 1.79v3.58l-4.49 1.79l-4.49 -1.79v-3.58zM822.9 230.4l4.49 1.79v3.58l-4.49 1.79l-4.49 -1.79v-3.58zM831.9 423.7l4.49 1.79v3.58l-4.49 1.79l-4.49 -1.79v-3.58zM840.9 445.2l4.49 1.79v3.58l-4.49 1.79l-4.49 -1.79v-3.58zM840.9 434.4l4.49 1.79v3.58l-4.49 1.79l-4.49 -1.79v-3.58zM858.8 187.4l4.49 1.79v3.58l-4.49 1.79l-4.49 -1.79v-3.58zM867.8 445.2l4.49 1.79v3.58l-4.49 1.79l-4.49 -1.79v-3.58zM867.8 208.9l4.49 1.79v3.58l-4.49 1.79l-4.49 -1.79v-3.58zM867.8 187.4l4.49 1.79v3.58l-4.49 1.79l-4.49 -1.79v-3.58zM876.8 198.1l4.49 1.79v3.58l-4.49 1.79l-4.49 -1.79v-3.58zM885.7 455.9l4.49 1.79v3.58l-4.49 1.79l-4.49 -1.79v-3.58zM885.7 445.2l4.49 1.79v3.58l-4.49 1.79l-4.49 -1.79v-3.58zM885.7 165.9l4.49 1.79v3.58l-4.49 1.79l-4.49 -1.79v-3.58zM894.7 477.4l4.49 1.79v3.58l-4.49 1.79l-4.49 -1.79v-3.58zM894.7 187.4l4.49 1.79v3.58l-4.49 1.79l-4.49 -1.79v-3.58zM894.7 176.7l4.49 1.79v3.58l-4.49 1.79l-4.49 -1.79v-3.58zM903.7 176.7l4.49 1.79v3.58l-4.49 1.79l-4.49 -1.79v-3.58zM912.7 187.4l4.49 1.79v3.58l-4.49 1.79l-4.49 -1.79v-3.58zM912.7 176.7l4.49 1.79v3.58l-4.49 1.79l-4.49 -1.79v-3.58zM912.7 165.9l4.49 1.79v3.58l-4.49 1.79l-4.49 -1.79v-3.58zM921.7 477.4l4.49 1.79v3.58l-4.49 1.79l-4.49 -1.79v-3.58zM930.6 176.7l4.49 1.79v3.58l-4.49 1.79l-4.49 -1.79v-3.58zM939.6 520.4l4.49 1.79v3.58l-4.49 1.79l-4.49 -1.79v-3.58zM939.6 509.6l4.49 1.79v3.58l-4.49 1.79l-4.49 -1.79v-3.58zM939.6 165.9l4.49 1.79v3.58l-4.49 1.79l-4.49 -1.79v-3.58zM939.6 155.2l4.49 1.79v3.58l-4.49 1.79l-4.49 -1.79v-3.58zM948.6 176.7l4.49 1.79v3.58l-4.49 1.79l-4.49 -1.79v-3.58zM948.6 165.9l4.49 1.79v3.58l-4.49 1.79l-4.49 -1.79v-3.58zM957.6 488.1l4.49 1.79v3.58l-4.49 1.79l-4.49 -1.79v-3.58zM957.6 165.9l4.49 1.79v3.58l-4.49 1.79l-4.49 -1.79v-3.58zM957.6 155.2l4.49 1.79v3.58l-4.49 1.79l-4.49 -1.79v-3.58zM966.5 531.1l4.49 1.79v3.58l-4.49 1.79l-4.49 -1.79v-3.58zM966.5 520.4l4.49 1.79v3.58l-4.49 1.79l-4.49 -1.79v-3.58zM966.5 498.9l4.49 1.79v3.58l-4.49 1.79l-4.49 -1.79v-3.58zM966.5 488.1l4.49 1.79v3.58l-4.49 1.79l-4.49 -1.79v-3.58zM966.5 466.7l4.49 1.79v3.58l-4.49 1.79l-4.49 -1.79v-3.58zM966.5 219.6l4.49 1.79v3.58l-4.49 1.79l-4.49 -1.79v-3.58zM966.5 176.7l4.49 1.79v3.58l-4.49 1.79l-4.49 -1.79v-3.58zM966.5 155.2l4.49 1.79v3.58l-4.49 1.79l-4.49 -1.79v-3.58zM975.5 509.6l4.49 1.79v3.58l-4.49 1.79l-4.49 -1.79v-3.58zM984.5 541.8l4.49 1.79v3.58l-4.49 1.79l-4.49 -1.79v-3.58zM984.5 531.1l4.49 1.79v3.58l-4.49 1.79l-4.49 -1.79v-3.58zM984.5 520.4l4.49 1.79v3.58l-4.49 1.79l-4.49 -1.79v-3.58zM984.5 488.1l4.49 1.79v3.58l-4.49 1.79l-4.49 -1.79v-3.58zM984.5 466.7l4.49 1.79v3.58l-4.49 1.79l-4.49 -1.79v-3.58zM984.5 455.9l4.49 1.79v3.58l-4.49 1.79l-4.49 -1.79v-3.58zM984.5 219.6l4.49 1.79v3.58l-4.49 1.79l-4.49 -1.79v-3.58zM993.5 402.2l4.49 1.79v3.58l-4.49 1.79l-4.49 -1.79v-3.58zM163.1 310.9l4.49 1.79v3.58l-4.49 1.79l-4.49 -1.79v-3.58zM163.1 268.0l4.49 1.79v3.58l-4.49 1.79l-4.49 -1.79v-3.58zM163.1 257.2l4.49 1.79v3.58l-4.49 1.79l-4.49 -1.79v-3.58zM172.1 332.4l4.49 1.79v3.58l-4.49 1.79l-4.49 -1.79v-3.58zM181.1 300.2l4.49 1.79v3.58l-4.49 1.79l-4.49 -1.79v-3.58zM190.0 268.0l4.49 1.79v3.58l-4.49 1.79l-4.49 -1.79v-3.58zM199.0 321.7l4.49 1.79v3.58l-4.49 1.79l-4.49 -1.79v-3.58zM208.0 278.7l4.49 1.79v3.58l-4.49 1.79l-4.49 -1.79v-3.58zM225.9 321.7l4.49 1.79v3.58l-4.49 1.79l-4.49 -1.79v-3.58zM225.9 268.0l4.49 1.79v3.58l-4.49 1.79l-4.49 -1.79v-3.58zM234.9 278.7l4.49 1.79v3.58l-4.49 1.79l-4.49 -1.79v-3.58zM270.8 332.4l4.49 1.79v3.58l-4.49 1.79l-4.49 -1.79v-3.58zM270.8 321.7l4.49 1.79v3.58l-4.49 1.79l-4.49 -1.79v-3.58zM279.8 332.4l4.49 1.79v3.58l-4.49 1.79l-4.49 -1.79v-3.58zM279.8 268.0l4.49 1.79v3.58l-4.49 1.79l-4.49 -1.79v-3.58zM279.8 257.2l4.49 1.79v3.58l-4.49 1.79l-4.49 -1.79v-3.58zM297.8 332.4l4.49 1.79v3.58l-4.49 1.79l-4.49 -1.79v-3.58zM297.8 268.0l4.49 1.79v3.58l-4.49 1.79l-4.49 -1.79v-3.58zM315.7 343.1l4.49 1.79v3.58l-4.49 1.79l-4.49 -1.79v-3.58zM360.6 257.2l4.49 1.79v3.58l-4.49 1.79l-4.49 -1.79v-3.58zM378.5 257.2l4.49 1.79v3.58l-4.49 1.79l-4.49 -1.79v-3.58zM441.4 353.9l4.49 1.79v3.58l-4.49 1.79l-4.49 -1.79v-3.58zM468.3 353.9l4.49 1.79v3.58l-4.49 1.79l-4.49 -1.79v-3.58zM522.2 257.2l4.49 1.79v3.58l-4.49 1.79l-4.49 -1.79v-3.58zM531.2 257.2l4.49 1.79v3.58l-4.49 1.79l-4.49 -1.79v-3.58zM558.1 364.6l4.49 1.79v3.58l-4.49 1.79l-4.49 -1.79v-3.58zM576.0 364.6l4.49 1.79v3.58l-4.49 1.79l-4.49 -1.79v-3.58zM585.0 364.6l4.49 1.79v3.58l-4.49 1.79l-4.49 -1.79v-3.58zM585.0 257.2l4.49 1.79v3.58l-4.49 1.79l-4.49 -1.79v-3.58zM594.0 364.6l4.49 1.79v3.58l-4.49 1.79l-4.49 -1.79v-3.58zM603.0 364.6l4.49 1.79v3.58l-4.49 1.79l-4.49 -1.79v-3.58zM647.9 375.4l4.49 1.79v3.58l-4.49 1.79l-4.49 -1.79v-3.58zM701.7 386.1l4.49 1.79v3.58l-4.49 1.79l-4.49 -1.79v-3.58zM701.7 246.5l4.49 1.79v3.58l-4.49 1.79l-4.49 -1.79v-3.58zM710.7 375.4l4.49 1.79v3.58l-4.49 1.79l-4.49 -1.79v-3.58zM719.7 386.1l4.49 1.79v3.58l-4.49 1.79l-4.49 -1.79v-3.58zM737.6 396.8l4.49 1.79v3.58l-4.49 1.79l-4.49 -1.79v-3.58zM737.6 246.5l4.49 1.79v3.58l-4.49 1.79l-4.49 -1.79v-3.58zM755.6 386.1l4.49 1.79v3.58l-4.49 1.79l-4.49 -1.79v-3.58zM764.6 407.6l4.49 1.79v3.58l-4.49 1.79l-4.49 -1.79v-3.58zM764.6 246.5l4.49 1.79v3.58l-4.49 1.79l-4.49 -1.79v-3.58zM773.5 246.5l4.49 1.79v3.58l-4.49 1.79l-4.49 -1.79v-3.58zM773.5 235.7l4.49 1.79v3.58l-4.49 1.79l-4.49 -1.79v-3.58zM782.5 396.8l4.49 1.79v3.58l-4.49 1.79l-4.49 -1.79v-3.58zM782.5 235.7l4.49 1.79v3.58l-4.49 1.79l-4.49 -1.79v-3.58zM800.5 407.6l4.49 1.79v3.58l-4.49 1.79l-4.49 -1.79v-3.58zM818.4 418.3l4.49 1.79v3.58l-4.49 1.79l-4.49 -1.79v-3.58zM845.3 203.5l4.49 1.79v3.58l-4.49 1.79l-4.49 -1.79v-3.58zM854.3 429.1l4.49 1.79v3.58l-4.49 1.79l-4.49 -1.79v-3.58zM854.3 203.5l4.49 1.79v3.58l-4.49 1.79l-4.49 -1.79v-3.58zM863.3 450.5l4.49 1.79v3.58l-4.49 1.79l-4.49 -1.79v-3.58zM863.3 439.8l4.49 1.79v3.58l-4.49 1.79l-4.49 -1.79v-3.58zM872.3 203.5l4.49 1.79v3.58l-4.49 1.79l-4.49 -1.79v-3.58zM881.3 450.5l4.49 1.79v3.58l-4.49 1.79l-4.49 -1.79v-3.58zM881.3 439.8l4.49 1.79v3.58l-4.49 1.79l-4.49 -1.79v-3.58zM890.2 472.0l4.49 1.79v3.58l-4.49 1.79l-4.49 -1.79v-3.58zM890.2 192.8l4.49 1.79v3.58l-4.49 1.79l-4.49 -1.79v-3.58zM890.2 171.3l4.49 1.79v3.58l-4.49 1.79l-4.49 -1.79v-3.58zM899.2 472.0l4.49 1.79v3.58l-4.49 1.79l-4.49 -1.79v-3.58zM899.2 461.3l4.49 1.79v3.58l-4.49 1.79l-4.49 -1.79v-3.58zM899.2 160.6l4.49 1.79v3.58l-4.49 1.79l-4.49 -1.79v-3.58zM908.2 472.0l4.49 1.79v3.58l-4.49 1.79l-4.49 -1.79v-3.58zM908.2 450.5l4.49 1.79v3.58l-4.49 1.79l-4.49 -1.79v-3.58zM908.2 182.0l4.49 1.79v3.58l-4.49 1.79l-4.49 -1.79v-3.58zM917.2 171.3l4.49 1.79v3.58l-4.49 1.79l-4.49 -1.79v-3.58zM926.1 182.0l4.49 1.79v3.58l-4.49 1.79l-4.49 -1.79v-3.58zM935.1 515.0l4.49 1.79v3.58l-4.49 1.79l-4.49 -1.79v-3.58zM944.1 525.7l4.49 1.79v3.58l-4.49 1.79l-4.49 -1.79v-3.58zM944.1 515.0l4.49 1.79v3.58l-4.49 1.79l-4.49 -1.79v-3.58zM944.1 149.8l4.49 1.79v3.58l-4.49 1.79l-4.49 -1.79v-3.58zM953.1 493.5l4.49 1.79v3.58l-4.49 1.79l-4.49 -1.79v-3.58zM953.1 171.3l4.49 1.79v3.58l-4.49 1.79l-4.49 -1.79v-3.58zM962.0 547.2l4.49 1.79v3.58l-4.49 1.79l-4.49 -1.79v-3.58zM962.0 515.0l4.49 1.79v3.58l-4.49 1.79l-4.49 -1.79v-3.58zM962.0 493.5l4.49 1.79v3.58l-4.49 1.79l-4.49 -1.79v-3.58zM962.0 171.3l4.49 1.79v3.58l-4.49 1.79l-4.49 -1.79v-3.58zM971.0 214.3l4.49 1.79v3.58l-4.49 1.79l-4.49 -1.79v-3.58zM971.0 182.0l4.49 1.79v3.58l-4.49 1.79l-4.49 -1.79v-3.58zM971.0 139.1l4.49 1.79v3.58l-4.49 1.79l-4.49 -1.79v-3.58zM980.0 504.2l4.49 1.79v3.58l-4.49 1.79l-4.49 -1.79v-3.58zM980.0 482.8l4.49 1.79v3.58l-4.49 1.79l-4.49 -1.79v-3.58zM980.0 418.3l4.49 1.79v3.58l-4.49 1.79l-4.49 -1.79v-3.58zM980.0 396.8l4.49 1.79v3.58l-4.49 1.79l-4.49 -1.79v-3.58zM980.0 289.4l4.49 1.79v3.58l-4.49 1.79l-4.49 -1.79v-3.58zM980.0 268.0l4.49 1.79v3.58l-4.49 1.79l-4.49 -1.79v-3.58zM980.0 246.5l4.49 1.79v3.58l-4.49 1.79l-4.49 -1.79v-3.58zM980.0 192.8l4.49 1.79v3.58l-4.49 1.79l-4.49 -1.79v-3.58zM980.0 160.6l4.49 1.79v3.58l-4.49 1.79l-4.49 -1.79v-3.58zM980.0 149.8l4.49 1.79v3.58l-4.49 1.79l-4.49 -1.79v-3.58zM989.0 493.5l4.49 1.79v3.58l-4.49 1.79l-4.49 -1.79v-3.58zM989.0 472.0l4.49 1.79v3.58l-4.49 1.79l-4.49 -1.79v-3.58zM989.0 450.5l4.49 1.79v3.58l-4.49 1.79l-4.49 -1.79v-3.58zM989.0 407.6l4.49 1.79v3.58l-4.49 1.79l-4.49 -1.79v-3.58zM989.0 332.4l4.49 1.79v3.58l-4.49 1.79l-4.49 -1.79v-3.58zM989.0 300.2l4.49 1.79v3.58l-4.49 1.79l-4.49 -1.79v-3.58zM989.0 268.0l4.49 1.79v3.58l-4.49 1.79l-4.49 -1.79v-3.58zM989.0 246.5l4.49 1.79v3.58l-4.49 1.79l-4.49 -1.79v-3.58zM989.0 225.0l4.49 1.79v3.58l-4.49 1.79l-4.49 -1.79v-3.58z"/>
<path fill="#3f0f72" stroke="#3f0f72" d="M158.6 284.1l4.49 1.79v3.58l-4.49 1.79l-4.49 -1.79v-3.58zM822.9 445.2l4.49 1.79v3.58l-4.49 1.79l-4.49 -1.79v-3.58zM939.6 541.8l4.49 1.79v3.58l-4.49 1.79l-4.49 -1.79v-3.58zM984.5 574.1l4.49 1.79v3.58l-4.49 1.79l-4.49 -1.79v-3.58z"/>
<path fill="#471078" stroke="#471078" d="M185.5 316.3l4.49 1.79v3.58l-4.49 1.79l-4.49 -1.79v-3.58zM185.5 305.5l4.49 1.79v3.58l-4.49 1.79l-4.49 -1.79v-3.58zM194.5 305.5l4.49 1.79v3.58l-4.49 1.79l-4.49 -1.79v-3.58zM194.5 273.3l4.49 1.79v3.58l-4.49 1.79l-4.49 -1.79v-3.58zM203.5 273.3l4.49 1.79v3.58l-4.49 1.79l-4.49 -1.79v-3.58zM212.5 316.3l4.49 1.79v3.58l-4.49 1.79l-4.49 -1.79v-3.58zM212.5 273.3l4.49 1.79v3.58l-4.49 1.79l-4.49 -1.79v-3.58zM212.5 262.6l4.49 1.79v3.58l-4.49 1.79l-4.49 -1.79v-3.58zM221.4 327.0l4.49 1.79v3.58l-4.49 1.79l-4.49 -1.79v-3.58zM221.4 316.3l4.49 1.79v3.58l-4.49 1.79l-4.49 -1.79v-3.58zM230.4 305.5l4.49 1.79v3.58l-4.49 1.79l-4.49 -1.79v-3.58zM239.4 327.0l4.49 1.79v3.58l-4.49 1.79l-4.49 -1.79v-3.58zM257.4 327.0l4.49 1.79v3.58l-4.49 1.79l-4.49 -1.79v-3.58zM266.3 337.8l4.49 1.79v3.58l-4.49 1.79l-4.49 -1.79v-3.58zM266.3 327.0l4.49 1.79v3.58l-4.49 1.79l-4.49 -1.79v-3.58zM293.3 337.8l4.49 1.79v3.58l-4.49 1.79l-4.49 -1.79v-3.58zM365.1 262.6l4.49 1.79v3.58l-4.49 1.79l-4.49 -1.79v-3.58zM374.1 348.5l4.49 1.79v3.58l-4.49 1.79l-4.49 -1.79v-3.58zM383.0 262.6l4.49 1.79v3.58l-4.49 1.79l-4.49 -1.79v-3.58zM392.0 348.5l4.49 1.79v3.58l-4.49 1.79l-4.49 -1.79v-3.58zM410.0 348.5l4.49 1.79v3.58l-4.49 1.79l-4.49 -1.79v-3.58zM418.9 262.6l4.49 1.79v3.58l-4.49 1.79l-4.49 -1.79v-3.58zM436.9 337.8l4.49 1.79v3.58l-4.49 1.79l-4.49 -1.79v-3.58zM445.9 348.5l4.49 1.79v3.58l-4.49 1.79l-4.49 -1.79v-3.58zM463.8 359.3l4.49 1.79v3.58l-4.49 1.79l-4.49 -1.79v-3.58zM490.8 262.6l4.49 1.79v3.58l-4.49 1.79l-4.49 -1.79v-3.58zM508.7 359.3l4.49 1.79v3.58l-4.49 1.79l-4.49 -1.79v-3.58zM508.7 262.6l4.49 1.79v3.58l-4.49 1.79l-4.49 -1.79v-3.58zM517.7 348.5l4.49 1.79v3.58l-4.49 1.79l-4.49 -1.79v-3.58zM517.7 262.6l4.49 1.79v3.58l-4.49 1.79l-4.49 -1.79v-3.58zM553.6 359.3l4.49 1.79v3.58l-4.49 1.79l-4.49 -1.79v-3.58zM580.5 262.6l4.49 1.79v3.58l-4.49 1.79l-4.49 -1.79v-3.58zM616.4 262.6l4.49 1.79v3.58l-4.49 1.79l-4.49 -1.79v-3.58zM652.3 370.0l4.49 1.79v3.58l-4.49 1.79l-4.49 -1.79v-3.58zM670.3 380.7l4.49 1.79v3.58l-4.49 1.79l-4.49 -1.79v-3.58zM670.3 251.8l4.49 1.79v3.58l-4.49 1.79l-4.49 -1.79v-3.58zM697.2 380.7l4.49 1.79v3.58l-4.49 1.79l-4.49 -1.79v-3.58zM697.2 370.0l4.49 1.79v3.58l-4.49 1.79l-4.49 -1.79v-3.58zM706.2 251.8l4.49 1.79v3.58l-4.49 1.79l-4.49 -1.79v-3.58zM742.1 251.8l4.49 1.79v3.58l-4.49 1.79l-4.49 -1.79v-3.58zM751.1 241.1l4.49 1.79v3.58l-4.49 1.79l-4.49 -1.79v-3.58zM760.1 391.5l4.49 1.79v3.58l-4.49 1.79l-4.49 -1.79v-3.58zM769.0 391.5l4.49 1.79v3.58l-4.49 1.79l-4.49 -1.79v-3.58zM778.0 402.2l4.49 1.79v3.58l-4.49 1.79l-4.49 -1.79v-3.58zM778.0 391.5l4.49 1.79v3.58l-4.49 1.79l-4.49 -1.79v-3.58zM787.0 402.2l4.49 1.79v3.58l-4.49 1.79l-4.49 -1.79v-3.58zM787.0 230.4l4.49 1.79v3.58l-4.49 1.79l-4.49 -1.79v-3.58zM796.0 251.8l4.49 1.79v3.58l-4.49 1.79l-4.49 -1.79v-3.58zM813.9 413.0l4.49 1.79v3.58l-4.49 1.79l-4.49 -1.79v-3.58zM831.9 434.4l4.49 1.79v3.58l-4.49 1.79l-4.49 -1.79v-3.58zM831.9 219.6l4.49 1.79v3.58l-4.49 1.79l-4.49 -1.79v-3.58zM840.9 208.9l4.49 1.79v3.58l-4.49 1.79l-4.49 -1.79v-3.58zM840.9 198.1l4.49 1.79v3.58l-4.49 1.79l-4.49 -1.79v-3.58zM849.8 434.4l4.49 1.79v3.58l-4.49 1.79l-4.49 -1.79v-3.58zM849.8 208.9l4.49 1.79v3.58l-4.49 1.79l-4.49 -1.79v-3.58zM858.8 434.4l4.49 1.79v3.58l-4.49 1.79l-4.49 -1.79v-3.58zM858.8 208.9l4.49 1.79v3.58l-4.49 1.79l-4.49 -1.79v-3.58zM867.8 423.7l4.49 1.79v3.58l-4.49 1.79l-4.49 -1.79v-3.58zM876.8 455.9l4.49 1.79v3.58l-4.49 1.79l-4.49 -1.79v-3.58zM876.8 434.4l4.49 1.79v3.58l-4.49 1.79l-4.49 -1.79v-3.58zM876.8 208.9l4.49 1.79v3.58l-4.49 1.79l-4.49 -1.79v-3.58zM885.7 434.4l4.49 1.79v3.58l-4.49 1.79l-4.49 -1.79v-3.58zM885.7 208.9l4.49 1.79v3.58l-4.49 1.79l-4.49 -1.79v-3.58zM885.7 176.7l4.49 1.79v3.58l-4.49 1.79l-4.49 -1.79v-3.58zM894.7 466.7l4.49 1.79v3.58l-4.49 1.79l-4.49 -1.79v-3.58zM903.7 477.4l4.49 1.79v3.58l-4.49 1.79l-4.49 -1.79v-3.58zM903.7 187.4l4.49 1.79v3.58l-4.49 1.79l-4.49 -1.79v-3.58zM912.7 477.4l4.49 1.79v3.58l-4.49 1.79l-4.49 -1.79v-3.58zM921.7 488.1l4.49 1.79v3.58l-4.49 1.79l-4.49 -1.79v-3.58zM921.7 187.4l4.49 1.79v3.58l-4.49 1.79l-4.49 -1.79v-3.58zM930.6 498.9l4.49 1.79v3.58l-4.49 1.79l-4.49 -1.79v-3.58zM930.6 187.4l4.49 1.79v3.58l-4.49 1.79l-4.49 -1.79v-3.58zM939.6 477.4l4.49 1.79v3.58l-4.49 1.79l-4.49 -1.79v-3.58zM939.6 466.7l4.49 1.79v3.58l-4.49 1.79l-4.49 -1.79v-3.58zM939.6 187.4l4.49 1.79v3.58l-4.49 1.79l-4.49 -1.79v-3.58zM939.6 176.7l4.49 1.79v3.58l-4.49 1.79l-4.49 -1.79v-3.58zM948.6 520.4l4.49 1.79v3.58l-4.49 1.79l-4.49 -1.79v-3.58zM948.6 509.6l4.49 1.79v3.58l-4.49 1.79l-4.49 -1.79v-3.58zM948.6 488.1l4.49 1.79v3.58l-4.49 1.79l-4.49 -1.79v-3.58zM948.6 187.4l4.49 1.79v3.58l-4.49 1.79l-4.49 -1.79v-3.58zM957.6 520.4l4.49 1.79v3.58l-4.49 1.79l-4.49 -1.79v-3.58zM957.6 509.6l4.49 1.79v3.58l-4.49 1.79l-4.49 -1.79v-3.58zM966.5 509.6l4.49 1.79v3.58l-4.49 1.79l-4.49 -1.79v-3.58zM966.5 187.4l4.49 1.79v3.58l-4.49 1.79l-4.49 -1.79v-3.58zM975.5 498.9l4.49 1.79v3.58l-4.49 1.79l-4.49 -1.79v-3.58zM975.5 477.4l4.49 1.79v3.58l-4.49 1.79l-4.49 -1.79v-3.58zM975.5 316.3l4.49 1.79v3.58l-4.49 1.79l-4.49 -1.79v-3.58zM975.5 241.1l4.49 1.79v3.58l-4.49 1.79l-4.49 -1.79v-3.58zM975.5 230.4l4.49 1.79v3.58l-4.49 1.79l-4.49 -1.79v-3.58zM975.5 198.1l4.49 1.79v3.58l-4.49 1.79l-4.49 -1.79v-3.58zM975.5 176.7l4.49 1.79v3.58l-4.49 1.79l-4.49 -1.79v-3.58zM984.5 477.4l4.49 1.79v3.58l-4.49 1.79l-4.49 -1.79v-3.58zM984.5 305.5l4.49 1.79v3.58l-4.49 1.79l-4.49 -1.79v-3.58zM984.5 241.1l4.49 1.79v3.58l-4.49 1.79l-4.49 -1.79v-3.58zM993.5 380.7l4.49 1.79v3.58l-4.49 1.79l-4.49 -1.79v-3.58zM172.1 300.2l4.49 1.79v3.58l-4.49 1.79l-4.49 -1.79v-3.58zM181.1 332.4l4.49 1.79v3.58l-4.49 1.79l-4.49 -1.79v-3.58zM190.0 321.7l4.49 1.79v3.58l-4.49 1.79l-4.49 -1.79v-3.58zM199.0 332.4l4.49 1.79v3.58l-4.49 1.79l-4.49 -1.79v-3.58zM208.0 310.9l4.49 1.79v3.58l-4.49 1.79l-4.49 -1.79v-3.58zM225.9 257.2l4.49 1.79v3.58l-4.49 1.79l-4.49 -1.79v-3.58zM234.9 268.0l4.49 1.79v3.58l-4.49 1.79l-4.49 -1.79v-3.58zM270.8 343.1l4.49 1.79v3.58l-4.49 1.79l-4.49 -1.79v-3.58zM270.8 268.0l4.49 1.79v3.58l-4.49 1.79l-4.49 -1.79v-3.58zM279.8 343.1l4.49 1.79v3.58l-4.49 1.79l-4.49 -1.79v-3.58zM288.8 332.4l4.49 1.79v3.58l-4.49 1.79l-4.49 -1.79v-3.58zM297.8 343.1l4.49 1.79v3.58l-4.49 1.79l-4.49 -1.79v-3.58zM306.7 257.2l4.49 1.79v3.58l-4.49 1.79l-4.49 -1.79v-3.58zM324.7 343.1l4.49 1.79v3.58l-4.49 1.79l-4.49 -1.79v-3.58zM333.7 343.1l4.49 1.79v3.58l-4.49 1.79l-4.49 -1.79v-3.58zM333.7 332.4l4.49 1.79v3.58l-4.49 1.79l-4.49 -1.79v-3.58zM351.6 343.1l4.49 1.79v3.58l-4.49 1.79l-4.49 -1.79v-3.58zM351.6 268.0l4.49 1.79v3.58l-4.49 1.79l-4.49 -1.79v-3.58zM387.5 343.1l4.49 1.79v3.58l-4.49 1.79l-4.49 -1.79v-3.58zM387.5 257.2l4.49 1.79v3.58l-4.49 1.79l-4.49 -1.79v-3.58zM396.5 343.1l4.49 1.79v3.58l-4.49 1.79l-4.49 -1.79v-3.58zM405.5 343.1l4.49 1.79v3.58l-4.49 1.79l-4.49 -1.79v-3.58zM423.4 343.1l4.49 1.79v3.58l-4.49 1.79l-4.49 -1.79v-3.58zM432.4 268.0l4.49 1.79v3.58l-4.49 1.79l-4.49 -1.79v-3.58zM468.3 268.0l4.49 1.79v3.58l-4.49 1.79l-4.49 -1.79v-3.58zM486.3 353.9l4.49 1.79v3.58l-4.49 1.79l-4.49 -1.79v-3.58zM504.2 364.6l4.49 1.79v3.58l-4.49 1.79l-4.49 -1.79v-3.58zM504.2 353.9l4.49 1.79v3.58l-4.49 1.79l-4.49 -1.79v-3.58zM504.2 268.0l4.49 1.79v3.58l-4.49 1.79l-4.49 -1.79v-3.58zM531.2 353.9l4.49 1.79v3.58l-4.49 1.79l-4.49 -1.79v-3.58zM540.1 353.9l4.49 1.79v3.58l-4.49 1.79l-4.49 -1.79v-3.58zM558.1 257.2l4.49 1.79v3.58l-4.49 1.79l-4.49 -1.79v-3.58zM620.9 375.4l4.49 1.79v3.58l-4.49 1.79l-4.49 -1.79v-3.58zM620.9 257.2l4.49 1.79v3.58l-4.49 1.79l-4.49 -1.79v-3.58zM629.9 257.2l4.49 1.79v3.58l-4.49 1.79l-4.49 -1.79v-3.58zM683.8 246.5l4.49 1.79v3.58l-4.49 1.79l-4.49 -1.79v-3.58zM701.7 375.4l4.49 1.79v3.58l-4.49 1.79l-4.49 -1.79v-3.58zM701.7 257.2l4.49 1.79v3.58l-4.49 1.79l-4.49 -1.79v-3.58zM719.7 375.4l4.49 1.79v3.58l-4.49 1.79l-4.49 -1.79v-3.58zM746.6 386.1l4.49 1.79v3.58l-4.49 1.79l-4.49 -1.79v-3.58zM755.6 235.7l4.49 1.79v3.58l-4.49 1.79l-4.49 -1.79v-3.58zM782.5 225.0l4.49 1.79v3.58l-4.49 1.79l-4.49 -1.79v-3.58zM818.4 429.1l4.49 1.79v3.58l-4.49 1.79l-4.49 -1.79v-3.58zM818.4 407.6l4.49 1.79v3.58l-4.49 1.79l-4.49 -1.79v-3.58zM818.4 235.7l4.49 1.79v3.58l-4.49 1.79l-4.49 -1.79v-3.58zM836.4 418.3l4.49 1.79v3.58l-4.49 1.79l-4.49 -1.79v-3.58zM845.3 439.8l4.49 1.79v3.58l-4.49 1.79l-4.49 -1.79v-3.58zM845.3 429.1l4.49 1.79v3.58l-4.49 1.79l-4.49 -1.79v-3.58zM845.3 225.0l4.49 1.79v3.58l-4.49 1.79l-4.49 -1.79v-3.58zM854.3 418.3l4.49 1.79v3.58l-4.49 1.79l-4.49 -1.79v-3.58zM854.3 214.3l4.49 1.79v3.58l-4.49 1.79l-4.49 -1.79v-3.58zM863.3 418.3l4.49 1.79v3.58l-4.49 1.79l-4.49 -1.79v-3.58zM872.3 192.8l4.49 1.79v3.58l-4.49 1.79l-4.49 -1.79v-3.58zM890.2 450.5l4.49 1.79v3.58l-4.49 1.79l-4.49 -1.79v-3.58zM890.2 439.8l4.49 1.79v3.58l-4.49 1.79l-4.49 -1.79v-3.58zM890.2 203.5l4.49 1.79v3.58l-4.49 1.79l-4.49 -1.79v-3.58zM899.2 482.8l4.49 1.79v3.58l-4.49 1.79l-4.49 -1.79v-3.58zM899.2 192.8l4.49 1.79v3.58l-4.49 1.79l-4.49 -1.79v-3.58zM908.2 482.8l4.49 1.79v3.58l-4.49 1.79l-4.49 -1.79v-3.58zM908.2 461.3l4.49 1.79v3.58l-4.49 1.79l-4.49 -1.79v-3.58zM935.1 493.5l4.49 1.79v3.58l-4.49 1.79l-4.49 -1.79v-3.58zM935.1 482.8l4.49 1.79v3.58l-4.49 1.79l-4.49 -1.79v-3.58zM935.1 171.3l4.49 1.79v3.58l-4.49 1.79l-4.49 -1.79v-3.58zM944.1 504.2l4.49 1.79v3.58l-4.49 1.79l-4.49 -1.79v-3.58zM944.1 171.3l4.49 1.79v3.58l-4.49 1.79l-4.49 -1.79v-3.58zM944.1 160.6l4.49 1.79v3.58l-4.49 1.79l-4.49 -1.79v-3.58zM953.1 515.0l4.49 1.79v3.58l-4.49 1.79l-4.49 -1.79v-3.58zM953.1 160.6l4.49 1.79v3.58l-4.49 1.79l-4.49 -1.79v-3.58zM962.0 504.2l4.49 1.79v3.58l-4.49 1.79l-4.49 -1.79v-3.58zM962.0 182.0l4.49 1.79v3.58l-4.49 1.79l-4.49 -1.79v-3.58zM962.0 160.6l4.49 1.79v3.58l-4.49 1.79l-4.49 -1.79v-3.58zM971.0 203.5l4.49 1.79v3.58l-4.49 1.79l-4.49 -1.79v-3.58zM980.0 386.1l4.49 1.79v3.58l-4.49 1.79l-4.49 -1.79v-3.58zM980.0 300.2l4.49 1.79v3.58l-4.49 1.79l-4.49 -1.79v-3.58zM980.0 235.7l4.49 1.79v3.58l-4.49 1.79l-4.49 -1.79v-3.58zM980.0 225.0l4.49 1.79v3.58l-4.49 1.79l-4.49 -1.79v-3.58zM980.0 171.3l4.49 1.79v3.58l-4.49 1.79l-4.49 -1.79v-3.58zM989.0 536.5l4.49 1.79v3.58l-4.49 1.79l-4.49 -1.79v-3.58zM989.0 364.6l4.49 1.79v3.58l-4.49 1.79l-4.49 -1.79v-3.58zM989.0 353.9l4.49 1.79v3.58l-4.49 1.79l-4.49 -1.79v-3.58zM989.0 321.7l4.49 1.79v3.58l-4.49 1.79l-4.49 -1.79v-3.58zM989.0 289.4l4.49 1.79v3.58l-4.49 1.79l-4.49 -1.79v-3.58z"/>
<path fill="#59157e" stroke="#59157e" d="M194.5 284.1l4.49 1.79v3.58l-4.49 1.79l-4.49 -1.79v-3.58zM203.5 294.8l4.49 1.79v3.58l-4.49 1.79l-4.49 -1.79v-3.58zM212.5 327.0l4.49 1.79v3.58l-4.49 1.79l-4.49 -1.79v-3.58zM212.5 305.5l4.49 1.79v3.58l-4.49 1.79l-4.49 -1.79v-3.58zM221.4 273.3l4.49 1.79v3.58l-4.49 1.79l-4.49 -1.79v-3.58zM230.4 327.0l4.49 1.79v3.58l-4.49 1.79l-4.49 -1.79v-3.58zM230.4 273.3l4.49 1.79v3.58l-4.49 1.79l-4.49 -1.79v-3.58zM239.4 273.3l4.49 1.79v3.58l-4.49 1.79l-4.49 -1.79v-3.58zM248.4 273.3l4.49 1.79v3.58l-4.49 1.79l-4.49 -1.79v-3.58zM257.4 273.3l4.49 1.79v3.58l-4.49 1.79l-4.49 -1.79v-3.58zM275.3 284.1l4.49 1.79v3.58l-4.49 1.79l-4.49 -1.79v-3.58zM275.3 273.3l4.49 1.79v3.58l-4.49 1.79l-4.49 -1.79v-3.58zM284.3 262.6l4.49 1.79v3.58l-4.49 1.79l-4.49 -1.79v-3.58zM293.3 327.0l4.49 1.79v3.58l-4.49 1.79l-4.49 -1.79v-3.58zM347.1 337.8l4.49 1.79v3.58l-4.49 1.79l-4.49 -1.79v-3.58zM356.1 262.6l4.49 1.79v3.58l-4.49 1.79l-4.49 -1.79v-3.58zM365.1 337.8l4.49 1.79v3.58l-4.49 1.79l-4.49 -1.79v-3.58zM392.0 337.8l4.49 1.79v3.58l-4.49 1.79l-4.49 -1.79v-3.58zM401.0 262.6l4.49 1.79v3.58l-4.49 1.79l-4.49 -1.79v-3.58zM427.9 348.5l4.49 1.79v3.58l-4.49 1.79l-4.49 -1.79v-3.58zM445.9 262.6l4.49 1.79v3.58l-4.49 1.79l-4.49 -1.79v-3.58zM454.8 359.3l4.49 1.79v3.58l-4.49 1.79l-4.49 -1.79v-3.58zM472.8 262.6l4.49 1.79v3.58l-4.49 1.79l-4.49 -1.79v-3.58zM481.8 348.5l4.49 1.79v3.58l-4.49 1.79l-4.49 -1.79v-3.58zM517.7 359.3l4.49 1.79v3.58l-4.49 1.79l-4.49 -1.79v-3.58zM526.7 359.3l4.49 1.79v3.58l-4.49 1.79l-4.49 -1.79v-3.58zM526.7 262.6l4.49 1.79v3.58l-4.49 1.79l-4.49 -1.79v-3.58zM544.6 359.3l4.49 1.79v3.58l-4.49 1.79l-4.49 -1.79v-3.58zM571.5 262.6l4.49 1.79v3.58l-4.49 1.79l-4.49 -1.79v-3.58zM589.5 359.3l4.49 1.79v3.58l-4.49 1.79l-4.49 -1.79v-3.58zM607.5 359.3l4.49 1.79v3.58l-4.49 1.79l-4.49 -1.79v-3.58zM616.4 273.3l4.49 1.79v3.58l-4.49 1.79l-4.49 -1.79v-3.58zM661.3 370.0l4.49 1.79v3.58l-4.49 1.79l-4.49 -1.79v-3.58zM706.2 370.0l4.49 1.79v3.58l-4.49 1.79l-4.49 -1.79v-3.58zM724.2 380.7l4.49 1.79v3.58l-4.49 1.79l-4.49 -1.79v-3.58zM733.1 251.8l4.49 1.79v3.58l-4.49 1.79l-4.49 -1.79v-3.58zM733.1 241.1l4.49 1.79v3.58l-4.49 1.79l-4.49 -1.79v-3.58zM787.0 391.5l4.49 1.79v3.58l-4.49 1.79l-4.49 -1.79v-3.58zM787.0 380.7l4.49 1.79v3.58l-4.49 1.79l-4.49 -1.79v-3.58zM787.0 241.1l4.49 1.79v3.58l-4.49 1.79l-4.49 -1.79v-3.58zM796.0 241.1l4.49 1.79v3.58l-4.49 1.79l-4.49 -1.79v-3.58zM805.0 241.1l4.49 1.79v3.58l-4.49 1.79l-4.49 -1.79v-3.58zM840.9 413.0l4.49 1.79v3.58l-4.49 1.79l-4.49 -1.79v-3.58zM849.8 423.7l4.49 1.79v3.58l-4.49 1.79l-4.49 -1.79v-3.58zM849.8 219.6l4.49 1.79v3.58l-4.49 1.79l-4.49 -1.79v-3.58zM867.8 434.4l4.49 1.79v3.58l-4.49 1.79l-4.49 -1.79v-3.58zM876.8 187.4l4.49 1.79v3.58l-4.49 1.79l-4.49 -1.79v-3.58zM885.7 187.4l4.49 1.79v3.58l-4.49 1.79l-4.49 -1.79v-3.58zM894.7 455.9l4.49 1.79v3.58l-4.49 1.79l-4.49 -1.79v-3.58zM894.7 445.2l4.49 1.79v3.58l-4.49 1.79l-4.49 -1.79v-3.58zM921.7 466.7l4.49 1.79v3.58l-4.49 1.79l-4.49 -1.79v-3.58zM930.6 477.4l4.49 1.79v3.58l-4.49 1.79l-4.49 -1.79v-3.58zM948.6 498.9l4.49 1.79v3.58l-4.49 1.79l-4.49 -1.79v-3.58zM957.6 187.4l4.49 1.79v3.58l-4.49 1.79l-4.49 -1.79v-3.58zM966.5 423.7l4.49 1.79v3.58l-4.49 1.79l-4.49 -1.79v-3.58zM966.5 230.4l4.49 1.79v3.58l-4.49 1.79l-4.49 -1.79v-3.58zM966.5 165.9l4.49 1.79v3.58l-4.49 1.79l-4.49 -1.79v-3.58zM975.5 488.1l4.49 1.79v3.58l-4.49 1.79l-4.49 -1.79v-3.58zM975.5 359.3l4.49 1.79v3.58l-4.49 1.79l-4.49 -1.79v-3.58zM984.5 498.9l4.49 1.79v3.58l-4.49 1.79l-4.49 -1.79v-3.58zM984.5 402.2l4.49 1.79v3.58l-4.49 1.79l-4.49 -1.79v-3.58zM984.5 370.0l4.49 1.79v3.58l-4.49 1.79l-4.49 -1.79v-3.58zM984.5 348.5l4.49 1.79v3.58l-4.49 1.79l-4.49 -1.79v-3.58zM984.5 316.3l4.49 1.79v3.58l-4.49 1.79l-4.49 -1.79v-3.58zM984.5 262.6l4.49 1.79v3.58l-4.49 1.79l-4.49 -1.79v-3.58zM984.5 251.8l4.49 1.79v3.58l-4.49 1.79l-4.49 -1.79v-3.58zM993.5 445.2l4.49 1.79v3.58l-4.49 1.79l-4.49 -1.79v-3.58zM163.1 289.4l4.49 1.79v3.58l-4.49 1.79l-4.49 -1.79v-3.58zM172.1 310.9l4.49 1.79v3.58l-4.49 1.79l-4.49 -1.79v-3.58zM172.1 289.4l4.49 1.79v3.58l-4.49 1.79l-4.49 -1.79v-3.58zM181.1 310.9l4.49 1.79v3.58l-4.49 1.79l-4.49 -1.79v-3.58zM181.1 289.4l4.49 1.79v3.58l-4.49 1.79l-4.49 -1.79v-3.58zM199.0 310.9l4.49 1.79v3.58l-4.49 1.79l-4.49 -1.79v-3.58zM199.0 300.2l4.49 1.79v3.58l-4.49 1.79l-4.49 -1.79v-3.58zM208.0 321.7l4.49 1.79v3.58l-4.49 1.79l-4.49 -1.79v-3.58zM217.0 278.7l4.49 1.79v3.58l-4.49 1.79l-4.49 -1.79v-3.58zM225.9 300.2l4.49 1.79v3.58l-4.49 1.79l-4.49 -1.79v-3.58zM252.9 321.7l4.49 1.79v3.58l-4.49 1.79l-4.49 -1.79v-3.58zM252.9 268.0l4.49 1.79v3.58l-4.49 1.79l-4.49 -1.79v-3.58zM261.8 268.0l4.49 1.79v3.58l-4.49 1.79l-4.49 -1.79v-3.58zM306.7 332.4l4.49 1.79v3.58l-4.49 1.79l-4.49 -1.79v-3.58zM306.7 268.0l4.49 1.79v3.58l-4.49 1.79l-4.49 -1.79v-3.58zM324.7 332.4l4.49 1.79v3.58l-4.49 1.79l-4.49 -1.79v-3.58zM324.7 268.0l4.49 1.79v3.58l-4.49 1.79l-4.49 -1.79v-3.58zM333.7 257.2l4.49 1.79v3.58l-4.49 1.79l-4.49 -1.79v-3.58zM360.6 343.1l4.49 1.79v3.58l-4.49 1.79l-4.49 -1.79v-3.58zM360.6 268.0l4.49 1.79v3.58l-4.49 1.79l-4.49 -1.79v-3.58zM378.5 343.1l4.49 1.79v3.58l-4.49 1.79l-4.49 -1.79v-3.58zM378.5 332.4l4.49 1.79v3.58l-4.49 1.79l-4.49 -1.79v-3.58zM441.4 268.0l4.49 1.79v3.58l-4.49 1.79l-4.49 -1.79v-3.58zM486.3 268.0l4.49 1.79v3.58l-4.49 1.79l-4.49 -1.79v-3.58zM567.1 364.6l4.49 1.79v3.58l-4.49 1.79l-4.49 -1.79v-3.58zM594.0 268.0l4.49 1.79v3.58l-4.49 1.79l-4.49 -1.79v-3.58zM603.0 268.0l4.49 1.79v3.58l-4.49 1.79l-4.49 -1.79v-3.58zM629.9 268.0l4.49 1.79v3.58l-4.49 1.79l-4.49 -1.79v-3.58zM638.9 364.6l4.49 1.79v3.58l-4.49 1.79l-4.49 -1.79v-3.58zM656.8 375.4l4.49 1.79v3.58l-4.49 1.79l-4.49 -1.79v-3.58zM656.8 364.6l4.49 1.79v3.58l-4.49 1.79l-4.49 -1.79v-3.58zM656.8 257.2l4.49 1.79v3.58l-4.49 1.79l-4.49 -1.79v-3.58zM665.8 257.2l4.49 1.79v3.58l-4.49 1.79l-4.49 -1.79v-3.58zM710.7 257.2l4.49 1.79v3.58l-4.49 1.79l-4.49 -1.79v-3.58zM710.7 246.5l4.49 1.79v3.58l-4.49 1.79l-4.49 -1.79v-3.58zM737.6 386.1l4.49 1.79v3.58l-4.49 1.79l-4.49 -1.79v-3.58zM764.6 386.1l4.49 1.79v3.58l-4.49 1.79l-4.49 -1.79v-3.58zM791.5 396.8l4.49 1.79v3.58l-4.49 1.79l-4.49 -1.79v-3.58zM791.5 246.5l4.49 1.79v3.58l-4.49 1.79l-4.49 -1.79v-3.58zM791.5 235.7l4.49 1.79v3.58l-4.49 1.79l-4.49 -1.79v-3.58zM827.4 407.6l4.49 1.79v3.58l-4.49 1.79l-4.49 -1.79v-3.58zM827.4 225.0l4.49 1.79v3.58l-4.49 1.79l-4.49 -1.79v-3.58zM845.3 214.3l4.49 1.79v3.58l-4.49 1.79l-4.49 -1.79v-3.58zM863.3 203.5l4.49 1.79v3.58l-4.49 1.79l-4.49 -1.79v-3.58zM872.3 225.0l4.49 1.79v3.58l-4.49 1.79l-4.49 -1.79v-3.58zM872.3 214.3l4.49 1.79v3.58l-4.49 1.79l-4.49 -1.79v-3.58zM881.3 214.3l4.49 1.79v3.58l-4.49 1.79l-4.49 -1.79v-3.58zM881.3 203.5l4.49 1.79v3.58l-4.49 1.79l-4.49 -1.79v-3.58zM899.2 439.8l4.49 1.79v3.58l-4.49 1.79l-4.49 -1.79v-3.58zM899.2 182.0l4.49 1.79v3.58l-4.49 1.79l-4.49 -1.79v-3.58zM908.2 214.3l4.49 1.79v3.58l-4.49 1.79l-4.49 -1.79v-3.58zM917.2 461.3l4.49 1.79v3.58l-4.49 1.79l-4.49 -1.79v-3.58zM926.1 493.5l4.49 1.79v3.58l-4.49 1.79l-4.49 -1.79v-3.58zM953.1 192.8l4.49 1.79v3.58l-4.49 1.79l-4.49 -1.79v-3.58zM962.0 482.8l4.49 1.79v3.58l-4.49 1.79l-4.49 -1.79v-3.58zM971.0 504.2l4.49 1.79v3.58l-4.49 1.79l-4.49 -1.79v-3.58zM971.0 493.5l4.49 1.79v3.58l-4.49 1.79l-4.49 -1.79v-3.58zM971.0 472.0l4.49 1.79v3.58l-4.49 1.79l-4.49 -1.79v-3.58zM971.0 246.5l4.49 1.79v3.58l-4.49 1.79l-4.49 -1.79v-3.58zM971.0 235.7l4.49 1.79v3.58l-4.49 1.79l-4.49 -1.79v-3.58zM971.0 192.8l4.49 1.79v3.58l-4.49 1.79l-4.49 -1.79v-3.58zM980.0 515.0l4.49 1.79v3.58l-4.49 1.79l-4.49 -1.79v-3.58zM980.0 493.5l4.49 1.79v3.58l-4.49 1.79l-4.49 -1.79v-3.58zM980.0 439.8l4.49 1.79v3.58l-4.49 1.79l-4.49 -1.79v-3.58zM980.0 429.1l4.49 1.79v3.58l-4.49 1.79l-4.49 -1.79v-3.58zM980.0 332.4l4.49 1.79v3.58l-4.49 1.79l-4.49 -1.79v-3.58zM980.0 203.5l4.49 1.79v3.58l-4.49 1.79l-4.49 -1.79v-3.58zM989.0 439.8l4.49 1.79v3.58l-4.49 1.79l-4.49 -1.79v-3.58zM989.0 418.3l4.49 1.79v3.58l-4.49 1.79l-4.49 -1.79v-3.58zM989.0 375.4l4.49 1.79v3.58l-4.49 1.79l-4.49 -1.79v-3.58z"/>
<path fill="#6a1c81" stroke="#6a1c81" d="M167.6 284.1l4.49 1.79v3.58l-4.49 1.79l-4.49 -1.79v-3.58zM176.6 294.8l4.49 1.79v3.58l-4.49 1.79l-4.49 -1.79v-3.58zM185.5 284.1l4.49 1.79v3.58l-4.49 1.79l-4.49 -1.79v-3.58zM194.5 316.3l4.49 1.79v3.58l-4.49 1.79l-4.49 -1.79v-3.58zM203.5 284.1l4.49 1.79v3.58l-4.49 1.79l-4.49 -1.79v-3.58zM266.3 305.5l4.49 1.79v3.58l-4.49 1.79l-4.49 -1.79v-3.58zM284.3 327.0l4.49 1.79v3.58l-4.49 1.79l-4.49 -1.79v-3.58zM302.2 262.6l4.49 1.79v3.58l-4.49 1.79l-4.49 -1.79v-3.58zM320.2 273.3l4.49 1.79v3.58l-4.49 1.79l-4.49 -1.79v-3.58zM338.1 337.8l4.49 1.79v3.58l-4.49 1.79l-4.49 -1.79v-3.58zM356.1 337.8l4.49 1.79v3.58l-4.49 1.79l-4.49 -1.79v-3.58zM410.0 337.8l4.49 1.79v3.58l-4.49 1.79l-4.49 -1.79v-3.58zM410.0 262.6l4.49 1.79v3.58l-4.49 1.79l-4.49 -1.79v-3.58zM490.8 348.5l4.49 1.79v3.58l-4.49 1.79l-4.49 -1.79v-3.58zM589.5 262.6l4.49 1.79v3.58l-4.49 1.79l-4.49 -1.79v-3.58zM625.4 359.3l4.49 1.79v3.58l-4.49 1.79l-4.49 -1.79v-3.58zM670.3 370.0l4.49 1.79v3.58l-4.49 1.79l-4.49 -1.79v-3.58zM670.3 359.3l4.49 1.79v3.58l-4.49 1.79l-4.49 -1.79v-3.58zM679.3 262.6l4.49 1.79v3.58l-4.49 1.79l-4.49 -1.79v-3.58zM715.2 380.7l4.49 1.79v3.58l-4.49 1.79l-4.49 -1.79v-3.58zM751.1 251.8l4.49 1.79v3.58l-4.49 1.79l-4.49 -1.79v-3.58zM760.1 380.7l4.49 1.79v3.58l-4.49 1.79l-4.49 -1.79v-3.58zM760.1 241.1l4.49 1.79v3.58l-4.49 1.79l-4.49 -1.79v-3.58zM769.0 251.8l4.49 1.79v3.58l-4.49 1.79l-4.49 -1.79v-3.58zM787.0 251.8l4.49 1.79v3.58l-4.49 1.79l-4.49 -1.79v-3.58zM805.0 402.2l4.49 1.79v3.58l-4.49 1.79l-4.49 -1.79v-3.58zM831.9 413.0l4.49 1.79v3.58l-4.49 1.79l-4.49 -1.79v-3.58zM831.9 230.4l4.49 1.79v3.58l-4.49 1.79l-4.49 -1.79v-3.58zM840.9 219.6l4.49 1.79v3.58l-4.49 1.79l-4.49 -1.79v-3.58zM876.8 230.4l4.49 1.79v3.58l-4.49 1.79l-4.49 -1.79v-3.58zM894.7 219.6l4.49 1.79v3.58l-4.49 1.79l-4.49 -1.79v-3.58zM903.7 466.7l4.49 1.79v3.58l-4.49 1.79l-4.49 -1.79v-3.58zM930.6 488.1l4.49 1.79v3.58l-4.49 1.79l-4.49 -1.79v-3.58zM939.6 488.1l4.49 1.79v3.58l-4.49 1.79l-4.49 -1.79v-3.58zM939.6 198.1l4.49 1.79v3.58l-4.49 1.79l-4.49 -1.79v-3.58zM957.6 498.9l4.49 1.79v3.58l-4.49 1.79l-4.49 -1.79v-3.58zM957.6 198.1l4.49 1.79v3.58l-4.49 1.79l-4.49 -1.79v-3.58zM966.5 477.4l4.49 1.79v3.58l-4.49 1.79l-4.49 -1.79v-3.58zM966.5 455.9l4.49 1.79v3.58l-4.49 1.79l-4.49 -1.79v-3.58zM966.5 262.6l4.49 1.79v3.58l-4.49 1.79l-4.49 -1.79v-3.58zM966.5 198.1l4.49 1.79v3.58l-4.49 1.79l-4.49 -1.79v-3.58zM975.5 466.7l4.49 1.79v3.58l-4.49 1.79l-4.49 -1.79v-3.58zM975.5 445.2l4.49 1.79v3.58l-4.49 1.79l-4.49 -1.79v-3.58zM975.5 423.7l4.49 1.79v3.58l-4.49 1.79l-4.49 -1.79v-3.58zM975.5 413.0l4.49 1.79v3.58l-4.49 1.79l-4.49 -1.79v-3.58zM975.5 251.8l4.49 1.79v3.58l-4.49 1.79l-4.49 -1.79v-3.58zM984.5 359.3l4.49 1.79v3.58l-4.49 1.79l-4.49 -1.79v-3.58zM984.5 284.1l4.49 1.79v3.58l-4.49 1.79l-4.49 -1.79v-3.58zM984.5 273.3l4.49 1.79v3.58l-4.49 1.79l-4.49 -1.79v-3.58zM984.5 230.4l4.49 1.79v3.58l-4.49 1.79l-4.49 -1.79v-3.58zM199.0 289.4l4.49 1.79v3.58l-4.49 1.79l-4.49 -1.79v-3.58zM199.0 278.7l4.49 1.79v3.58l-4.49 1.79l-4.49 -1.79v-3.58zM208.0 300.2l4.49 1.79v3.58l-4.49 1.79l-4.49 -1.79v-3.58zM225.9 310.9l4.49 1.79v3.58l-4.49 1.79l-4.49 -1.79v-3.58zM234.9 321.7l4.49 1.79v3.58l-4.49 1.79l-4.49 -1.79v-3.58zM243.9 321.7l4.49 1.79v3.58l-4.49 1.79l-4.49 -1.79v-3.58zM243.9 268.0l4.49 1.79v3.58l-4.49 1.79l-4.49 -1.79v-3.58zM261.8 278.7l4.49 1.79v3.58l-4.49 1.79l-4.49 -1.79v-3.58zM279.8 321.7l4.49 1.79v3.58l-4.49 1.79l-4.49 -1.79v-3.58zM288.8 268.0l4.49 1.79v3.58l-4.49 1.79l-4.49 -1.79v-3.58zM315.7 321.7l4.49 1.79v3.58l-4.49 1.79l-4.49 -1.79v-3.58zM315.7 268.0l4.49 1.79v3.58l-4.49 1.79l-4.49 -1.79v-3.58zM342.6 332.4l4.49 1.79v3.58l-4.49 1.79l-4.49 -1.79v-3.58zM432.4 343.1l4.49 1.79v3.58l-4.49 1.79l-4.49 -1.79v-3.58zM495.2 353.9l4.49 1.79v3.58l-4.49 1.79l-4.49 -1.79v-3.58zM495.2 268.0l4.49 1.79v3.58l-4.49 1.79l-4.49 -1.79v-3.58zM540.1 268.0l4.49 1.79v3.58l-4.49 1.79l-4.49 -1.79v-3.58zM549.1 353.9l4.49 1.79v3.58l-4.49 1.79l-4.49 -1.79v-3.58zM585.0 268.0l4.49 1.79v3.58l-4.49 1.79l-4.49 -1.79v-3.58zM647.9 364.6l4.49 1.79v3.58l-4.49 1.79l-4.49 -1.79v-3.58zM665.8 268.0l4.49 1.79v3.58l-4.49 1.79l-4.49 -1.79v-3.58zM674.8 257.2l4.49 1.79v3.58l-4.49 1.79l-4.49 -1.79v-3.58zM683.8 257.2l4.49 1.79v3.58l-4.49 1.79l-4.49 -1.79v-3.58zM692.7 375.4l4.49 1.79v3.58l-4.49 1.79l-4.49 -1.79v-3.58zM719.7 257.2l4.49 1.79v3.58l-4.49 1.79l-4.49 -1.79v-3.58zM746.6 246.5l4.49 1.79v3.58l-4.49 1.79l-4.49 -1.79v-3.58zM755.6 257.2l4.49 1.79v3.58l-4.49 1.79l-4.49 -1.79v-3.58zM791.5 225.0l4.49 1.79v3.58l-4.49 1.79l-4.49 -1.79v-3.58zM809.4 235.7l4.49 1.79v3.58l-4.49 1.79l-4.49 -1.79v-3.58zM836.4 235.7l4.49 1.79v3.58l-4.49 1.79l-4.49 -1.79v-3.58zM836.4 225.0l4.49 1.79v3.58l-4.49 1.79l-4.49 -1.79v-3.58zM863.3 429.1l4.49 1.79v3.58l-4.49 1.79l-4.49 -1.79v-3.58zM863.3 235.7l4.49 1.79v3.58l-4.49 1.79l-4.49 -1.79v-3.58zM872.3 429.1l4.49 1.79v3.58l-4.49 1.79l-4.49 -1.79v-3.58zM881.3 192.8l4.49 1.79v3.58l-4.49 1.79l-4.49 -1.79v-3.58zM890.2 214.3l4.49 1.79v3.58l-4.49 1.79l-4.49 -1.79v-3.58zM917.2 472.0l4.49 1.79v3.58l-4.49 1.79l-4.49 -1.79v-3.58zM917.2 192.8l4.49 1.79v3.58l-4.49 1.79l-4.49 -1.79v-3.58zM926.1 192.8l4.49 1.79v3.58l-4.49 1.79l-4.49 -1.79v-3.58zM935.1 203.5l4.49 1.79v3.58l-4.49 1.79l-4.49 -1.79v-3.58zM944.1 482.8l4.49 1.79v3.58l-4.49 1.79l-4.49 -1.79v-3.58zM944.1 472.0l4.49 1.79v3.58l-4.49 1.79l-4.49 -1.79v-3.58zM953.1 214.3l4.49 1.79v3.58l-4.49 1.79l-4.49 -1.79v-3.58zM953.1 182.0l4.49 1.79v3.58l-4.49 1.79l-4.49 -1.79v-3.58zM962.0 214.3l4.49 1.79v3.58l-4.49 1.79l-4.49 -1.79v-3.58zM962.0 203.5l4.49 1.79v3.58l-4.49 1.79l-4.49 -1.79v-3.58zM971.0 439.8l4.49 1.79v3.58l-4.49 1.79l-4.49 -1.79v-3.58zM980.0 472.0l4.49 1.79v3.58l-4.49 1.79l-4.49 -1.79v-3.58zM980.0 375.4l4.49 1.79v3.58l-4.49 1.79l-4.49 -1.79v-3.58zM980.0 343.1l4.49 1.79v3.58l-4.49 1.79l-4.49 -1.79v-3.58z"/>
<path fill="#792282" stroke="#792282" d="M176.6 284.1l4.49 1.79v3.58l-4.49 1.79l-4.49 -1.79v-3.58zM194.5 294.8l4.49 1.79v3.58l-4.49 1.79l-4.49 -1.79v-3.58zM203.5 305.5l4.49 1.79v3.58l-4.49 1.79l-4.49 -1.79v-3.58zM212.5 294.8l4.49 1.79v3.58l-4.49 1.79l-4.49 -1.79v-3.58zM221.4 284.1l4.49 1.79v3.58l-4.49 1.79l-4.49 -1.79v-3.58zM239.4 284.1l4.49 1.79v3.58l-4.49 1.79l-4.49 -1.79v-3.58zM266.3 316.3l4.49 1.79v3.58l-4.49 1.79l-4.49 -1.79v-3.58zM275.3 327.0l4.49 1.79v3.58l-4.49 1.79l-4.49 -1.79v-3.58zM284.3 273.3l4.49 1.79v3.58l-4.49 1.79l-4.49 -1.79v-3.58zM329.2 327.0l4.49 1.79v3.58l-4.49 1.79l-4.49 -1.79v-3.58zM347.1 327.0l4.49 1.79v3.58l-4.49 1.79l-4.49 -1.79v-3.58zM374.1 327.0l4.49 1.79v3.58l-4.49 1.79l-4.49 -1.79v-3.58zM383.0 337.8l4.49 1.79v3.58l-4.49 1.79l-4.49 -1.79v-3.58zM418.9 348.5l4.49 1.79v3.58l-4.49 1.79l-4.49 -1.79v-3.58zM436.9 348.5l4.49 1.79v3.58l-4.49 1.79l-4.49 -1.79v-3.58zM463.8 348.5l4.49 1.79v3.58l-4.49 1.79l-4.49 -1.79v-3.58zM472.8 273.3l4.49 1.79v3.58l-4.49 1.79l-4.49 -1.79v-3.58zM544.6 348.5l4.49 1.79v3.58l-4.49 1.79l-4.49 -1.79v-3.58zM580.5 359.3l4.49 1.79v3.58l-4.49 1.79l-4.49 -1.79v-3.58zM634.4 359.3l4.49 1.79v3.58l-4.49 1.79l-4.49 -1.79v-3.58zM661.3 262.6l4.49 1.79v3.58l-4.49 1.79l-4.49 -1.79v-3.58zM715.2 262.6l4.49 1.79v3.58l-4.49 1.79l-4.49 -1.79v-3.58zM724.2 370.0l4.49 1.79v3.58l-4.49 1.79l-4.49 -1.79v-3.58zM724.2 262.6l4.49 1.79v3.58l-4.49 1.79l-4.49 -1.79v-3.58zM778.0 241.1l4.49 1.79v3.58l-4.49 1.79l-4.49 -1.79v-3.58zM796.0 391.5l4.49 1.79v3.58l-4.49 1.79l-4.49 -1.79v-3.58zM813.9 241.1l4.49 1.79v3.58l-4.49 1.79l-4.49 -1.79v-3.58zM849.8 402.2l4.49 1.79v3.58l-4.49 1.79l-4.49 -1.79v-3.58zM867.8 219.6l4.49 1.79v3.58l-4.49 1.79l-4.49 -1.79v-3.58zM876.8 445.2l4.49 1.79v3.58l-4.49 1.79l-4.49 -1.79v-3.58zM885.7 198.1l4.49 1.79v3.58l-4.49 1.79l-4.49 -1.79v-3.58zM894.7 434.4l4.49 1.79v3.58l-4.49 1.79l-4.49 -1.79v-3.58zM903.7 455.9l4.49 1.79v3.58l-4.49 1.79l-4.49 -1.79v-3.58zM912.7 198.1l4.49 1.79v3.58l-4.49 1.79l-4.49 -1.79v-3.58zM921.7 208.9l4.49 1.79v3.58l-4.49 1.79l-4.49 -1.79v-3.58zM930.6 198.1l4.49 1.79v3.58l-4.49 1.79l-4.49 -1.79v-3.58zM939.6 230.4l4.49 1.79v3.58l-4.49 1.79l-4.49 -1.79v-3.58zM939.6 208.9l4.49 1.79v3.58l-4.49 1.79l-4.49 -1.79v-3.58zM948.6 198.1l4.49 1.79v3.58l-4.49 1.79l-4.49 -1.79v-3.58zM957.6 208.9l4.49 1.79v3.58l-4.49 1.79l-4.49 -1.79v-3.58zM966.5 434.4l4.49 1.79v3.58l-4.49 1.79l-4.49 -1.79v-3.58zM966.5 241.1l4.49 1.79v3.58l-4.49 1.79l-4.49 -1.79v-3.58zM975.5 284.1l4.49 1.79v3.58l-4.49 1.79l-4.49 -1.79v-3.58zM975.5 262.6l4.49 1.79v3.58l-4.49 1.79l-4.49 -1.79v-3.58zM190.0 300.2l4.49 1.79v3.58l-4.49 1.79l-4.49 -1.79v-3.58zM190.0 289.4l4.49 1.79v3.58l-4.49 1.79l-4.49 -1.79v-3.58zM208.0 289.4l4.49 1.79v3.58l-4.49 1.79l-4.49 -1.79v-3.58zM217.0 300.2l4.49 1.79v3.58l-4.49 1.79l-4.49 -1.79v-3.58zM234.9 289.4l4.49 1.79v3.58l-4.49 1.79l-4.49 -1.79v-3.58zM243.9 300.2l4.49 1.79v3.58l-4.49 1.79l-4.49 -1.79v-3.58zM243.9 278.7l4.49 1.79v3.58l-4.49 1.79l-4.49 -1.79v-3.58zM288.8 321.7l4.49 1.79v3.58l-4.49 1.79l-4.49 -1.79v-3.58zM333.7 321.7l4.49 1.79v3.58l-4.49 1.79l-4.49 -1.79v-3.58zM333.7 268.0l4.49 1.79v3.58l-4.49 1.79l-4.49 -1.79v-3.58zM342.6 268.0l4.49 1.79v3.58l-4.49 1.79l-4.49 -1.79v-3.58zM360.6 332.4l4.49 1.79v3.58l-4.49 1.79l-4.49 -1.79v-3.58zM369.6 343.1l4.49 1.79v3.58l-4.49 1.79l-4.49 -1.79v-3.58zM396.5 268.0l4.49 1.79v3.58l-4.49 1.79l-4.49 -1.79v-3.58zM423.4 268.0l4.49 1.79v3.58l-4.49 1.79l-4.49 -1.79v-3.58zM441.4 343.1l4.49 1.79v3.58l-4.49 1.79l-4.49 -1.79v-3.58zM450.4 343.1l4.49 1.79v3.58l-4.49 1.79l-4.49 -1.79v-3.58zM459.3 268.0l4.49 1.79v3.58l-4.49 1.79l-4.49 -1.79v-3.58zM477.3 353.9l4.49 1.79v3.58l-4.49 1.79l-4.49 -1.79v-3.58zM522.2 268.0l4.49 1.79v3.58l-4.49 1.79l-4.49 -1.79v-3.58zM611.9 364.6l4.49 1.79v3.58l-4.49 1.79l-4.49 -1.79v-3.58zM647.9 257.2l4.49 1.79v3.58l-4.49 1.79l-4.49 -1.79v-3.58zM665.8 364.6l4.49 1.79v3.58l-4.49 1.79l-4.49 -1.79v-3.58zM674.8 364.6l4.49 1.79v3.58l-4.49 1.79l-4.49 -1.79v-3.58zM692.7 257.2l4.49 1.79v3.58l-4.49 1.79l-4.49 -1.79v-3.58zM800.5 386.1l4.49 1.79v3.58l-4.49 1.79l-4.49 -1.79v-3.58zM800.5 235.7l4.49 1.79v3.58l-4.49 1.79l-4.49 -1.79v-3.58zM809.4 407.6l4.49 1.79v3.58l-4.49 1.79l-4.49 -1.79v-3.58zM809.4 396.8l4.49 1.79v3.58l-4.49 1.79l-4.49 -1.79v-3.58zM818.4 225.0l4.49 1.79v3.58l-4.49 1.79l-4.49 -1.79v-3.58zM908.2 203.5l4.49 1.79v3.58l-4.49 1.79l-4.49 -1.79v-3.58zM926.1 482.8l4.49 1.79v3.58l-4.49 1.79l-4.49 -1.79v-3.58zM935.1 472.0l4.49 1.79v3.58l-4.49 1.79l-4.49 -1.79v-3.58zM935.1 214.3l4.49 1.79v3.58l-4.49 1.79l-4.49 -1.79v-3.58zM962.0 472.0l4.49 1.79v3.58l-4.49 1.79l-4.49 -1.79v-3.58zM971.0 429.1l4.49 1.79v3.58l-4.49 1.79l-4.49 -1.79v-3.58zM971.0 225.0l4.49 1.79v3.58l-4.49 1.79l-4.49 -1.79v-3.58zM980.0 450.5l4.49 1.79v3.58l-4.49 1.79l-4.49 -1.79v-3.58zM980.0 364.6l4.49 1.79v3.58l-4.49 1.79l-4.49 -1.79v-3.58zM980.0 310.9l4.49 1.79v3.58l-4.49 1.79l-4.49 -1.79v-3.58zM980.0 257.2l4.49 1.79v3.58l-4.49 1.79l-4.49 -1.79v-3.58zM980.0 214.3l4.49 1.79v3.58l-4.49 1.79l-4.49 -1.79v-3.58z"/>
<path fill="#8b2981" stroke="#8b2981" d="M185.5 294.8l4.49 1.79v3.58l-4.49 1.79l-4.49 -1.79v-3.58zM230.4 316.3l4.49 1.79v3.58l-4.49 1.79l-4.49 -1.79v-3.58zM239.4 316.3l4.49 1.79v3.58l-4.49 1.79l-4.49 -1.79v-3.58zM248.4 316.3l4.49 1.79v3.58l-4.49 1.79l-4.49 -1.79v-3.58zM275.3 316.3l4.49 1.79v3.58l-4.49 1.79l-4.49 -1.79v-3.58zM302.2 273.3l4.49 1.79v3.58l-4.49 1.79l-4.49 -1.79v-3.58zM356.1 273.3l4.49 1.79v3.58l-4.49 1.79l-4.49 -1.79v-3.58zM365.1 273.3l4.49 1.79v3.58l-4.49 1.79l-4.49 -1.79v-3.58zM418.9 337.8l4.49 1.79v3.58l-4.49 1.79l-4.49 -1.79v-3.58zM445.9 273.3l4.49 1.79v3.58l-4.49 1.79l-4.49 -1.79v-3.58zM598.5 359.3l4.49 1.79v3.58l-4.49 1.79l-4.49 -1.79v-3.58zM715.2 251.8l4.49 1.79v3.58l-4.49 1.79l-4.49 -1.79v-3.58zM733.1 370.0l4.49 1.79v3.58l-4.49 1.79l-4.49 -1.79v-3.58zM742.1 380.7l4.49 1.79v3.58l-4.49 1.79l-4.49 -1.79v-3.58zM760.1 251.8l4.49 1.79v3.58l-4.49 1.79l-4.49 -1.79v-3.58zM778.0 251.8l4.49 1.79v3.58l-4.49 1.79l-4.49 -1.79v-3.58zM813.9 391.5l4.49 1.79v3.58l-4.49 1.79l-4.49 -1.79v-3.58zM822.9 402.2l4.49 1.79v3.58l-4.49 1.79l-4.49 -1.79v-3.58zM858.8 423.7l4.49 1.79v3.58l-4.49 1.79l-4.49 -1.79v-3.58zM858.8 230.4l4.49 1.79v3.58l-4.49 1.79l-4.49 -1.79v-3.58zM876.8 219.6l4.49 1.79v3.58l-4.49 1.79l-4.49 -1.79v-3.58zM903.7 208.9l4.49 1.79v3.58l-4.49 1.79l-4.49 -1.79v-3.58zM903.7 198.1l4.49 1.79v3.58l-4.49 1.79l-4.49 -1.79v-3.58zM930.6 208.9l4.49 1.79v3.58l-4.49 1.79l-4.49 -1.79v-3.58zM939.6 498.9l4.49 1.79v3.58l-4.49 1.79l-4.49 -1.79v-3.58zM948.6 466.7l4.49 1.79v3.58l-4.49 1.79l-4.49 -1.79v-3.58zM957.6 477.4l4.49 1.79v3.58l-4.49 1.79l-4.49 -1.79v-3.58zM957.6 455.9l4.49 1.79v3.58l-4.49 1.79l-4.49 -1.79v-3.58zM966.5 305.5l4.49 1.79v3.58l-4.49 1.79l-4.49 -1.79v-3.58zM966.5 251.8l4.49 1.79v3.58l-4.49 1.79l-4.49 -1.79v-3.58zM975.5 402.2l4.49 1.79v3.58l-4.49 1.79l-4.49 -1.79v-3.58zM975.5 380.7l4.49 1.79v3.58l-4.49 1.79l-4.49 -1.79v-3.58zM975.5 305.5l4.49 1.79v3.58l-4.49 1.79l-4.49 -1.79v-3.58zM984.5 391.5l4.49 1.79v3.58l-4.49 1.79l-4.49 -1.79v-3.58zM181.1 278.7l4.49 1.79v3.58l-4.49 1.79l-4.49 -1.79v-3.58zM190.0 278.7l4.49 1.79v3.58l-4.49 1.79l-4.49 -1.79v-3.58zM208.0 268.0l4.49 1.79v3.58l-4.49 1.79l-4.49 -1.79v-3.58zM261.8 321.7l4.49 1.79v3.58l-4.49 1.79l-4.49 -1.79v-3.58zM369.6 332.4l4.49 1.79v3.58l-4.49 1.79l-4.49 -1.79v-3.58zM369.6 268.0l4.49 1.79v3.58l-4.49 1.79l-4.49 -1.79v-3.58zM414.5 268.0l4.49 1.79v3.58l-4.49 1.79l-4.49 -1.79v-3.58zM450.4 268.0l4.49 1.79v3.58l-4.49 1.79l-4.49 -1.79v-3.58zM459.3 343.1l4.49 1.79v3.58l-4.49 1.79l-4.49 -1.79v-3.58zM468.3 343.1l4.49 1.79v3.58l-4.49 1.79l-4.49 -1.79v-3.58zM567.1 353.9l4.49 1.79v3.58l-4.49 1.79l-4.49 -1.79v-3.58zM585.0 353.9l4.49 1.79v3.58l-4.49 1.79l-4.49 -1.79v-3.58zM620.9 353.9l4.49 1.79v3.58l-4.49 1.79l-4.49 -1.79v-3.58zM683.8 364.6l4.49 1.79v3.58l-4.49 1.79l-4.49 -1.79v-3.58zM701.7 364.6l4.49 1.79v3.58l-4.49 1.79l-4.49 -1.79v-3.58zM728.6 268.0l4.49 1.79v3.58l-4.49 1.79l-4.49 -1.79v-3.58zM746.6 375.4l4.49 1.79v3.58l-4.49 1.79l-4.49 -1.79v-3.58zM773.5 375.4l4.49 1.79v3.58l-4.49 1.79l-4.49 -1.79v-3.58zM782.5 386.1l4.49 1.79v3.58l-4.49 1.79l-4.49 -1.79v-3.58zM782.5 246.5l4.49 1.79v3.58l-4.49 1.79l-4.49 -1.79v-3.58zM818.4 396.8l4.49 1.79v3.58l-4.49 1.79l-4.49 -1.79v-3.58zM818.4 246.5l4.49 1.79v3.58l-4.49 1.79l-4.49 -1.79v-3.58zM845.3 418.3l4.49 1.79v3.58l-4.49 1.79l-4.49 -1.79v-3.58zM845.3 407.6l4.49 1.79v3.58l-4.49 1.79l-4.49 -1.79v-3.58zM854.3 225.0l4.49 1.79v3.58l-4.49 1.79l-4.49 -1.79v-3.58zM863.3 225.0l4.49 1.79v3.58l-4.49 1.79l-4.49 -1.79v-3.58zM863.3 214.3l4.49 1.79v3.58l-4.49 1.79l-4.49 -1.79v-3.58zM872.3 439.8l4.49 1.79v3.58l-4.49 1.79l-4.49 -1.79v-3.58zM872.3 418.3l4.49 1.79v3.58l-4.49 1.79l-4.49 -1.79v-3.58zM899.2 450.5l4.49 1.79v3.58l-4.49 1.79l-4.49 -1.79v-3.58zM899.2 203.5l4.49 1.79v3.58l-4.49 1.79l-4.49 -1.79v-3.58zM926.1 461.3l4.49 1.79v3.58l-4.49 1.79l-4.49 -1.79v-3.58zM944.1 493.5l4.49 1.79v3.58l-4.49 1.79l-4.49 -1.79v-3.58zM953.1 482.8l4.49 1.79v3.58l-4.49 1.79l-4.49 -1.79v-3.58zM962.0 439.8l4.49 1.79v3.58l-4.49 1.79l-4.49 -1.79v-3.58zM962.0 225.0l4.49 1.79v3.58l-4.49 1.79l-4.49 -1.79v-3.58zM962.0 192.8l4.49 1.79v3.58l-4.49 1.79l-4.49 -1.79v-3.58zM971.0 482.8l4.49 1.79v3.58l-4.49 1.79l-4.49 -1.79v-3.58zM971.0 386.1l4.49 1.79v3.58l-4.49 1.79l-4.49 -1.79v-3.58zM971.0 343.1l4.49 1.79v3.58l-4.49 1.79l-4.49 -1.79v-3.58zM971.0 257.2l4.49 1.79v3.58l-4.49 1.79l-4.49 -1.79v-3.58zM980.0 461.3l4.49 1.79v3.58l-4.49 1.79l-4.49 -1.79v-3.58zM980.0 407.6l4.49 1.79v3.58l-4.49 1.79l-4.49 -1.79v-3.58z"/>
<path fill="#932b80" stroke="#932b80" d="M212.5 284.1l4.49 1.79v3.58l-4.49 1.79l-4.49 -1.79v-3.58zM221.4 294.8l4.49 1.79v3.58l-4.49 1.79l-4.49 -1.79v-3.58zM230.4 284.1l4.49 1.79v3.58l-4.49 1.79l-4.49 -1.79v-3.58zM257.4 284.1l4.49 1.79v3.58l-4.49 1.79l-4.49 -1.79v-3.58zM311.2 327.0l4.49 1.79v3.58l-4.49 1.79l-4.49 -1.79v-3.58zM329.2 273.3l4.49 1.79v3.58l-4.49 1.79l-4.49 -1.79v-3.58zM374.1 337.8l4.49 1.79v3.58l-4.49 1.79l-4.49 -1.79v-3.58zM427.9 337.8l4.49 1.79v3.58l-4.49 1.79l-4.49 -1.79v-3.58zM499.7 348.5l4.49 1.79v3.58l-4.49 1.79l-4.49 -1.79v-3.58zM643.4 359.3l4.49 1.79v3.58l-4.49 1.79l-4.49 -1.79v-3.58zM688.3 262.6l4.49 1.79v3.58l-4.49 1.79l-4.49 -1.79v-3.58zM697.2 262.6l4.49 1.79v3.58l-4.49 1.79l-4.49 -1.79v-3.58zM742.1 262.6l4.49 1.79v3.58l-4.49 1.79l-4.49 -1.79v-3.58zM751.1 370.0l4.49 1.79v3.58l-4.49 1.79l-4.49 -1.79v-3.58zM849.8 413.0l4.49 1.79v3.58l-4.49 1.79l-4.49 -1.79v-3.58zM885.7 219.6l4.49 1.79v3.58l-4.49 1.79l-4.49 -1.79v-3.58zM903.7 445.2l4.49 1.79v3.58l-4.49 1.79l-4.49 -1.79v-3.58zM921.7 455.9l4.49 1.79v3.58l-4.49 1.79l-4.49 -1.79v-3.58zM921.7 198.1l4.49 1.79v3.58l-4.49 1.79l-4.49 -1.79v-3.58zM957.6 176.7l4.49 1.79v3.58l-4.49 1.79l-4.49 -1.79v-3.58zM966.5 294.8l4.49 1.79v3.58l-4.49 1.79l-4.49 -1.79v-3.58zM966.5 273.3l4.49 1.79v3.58l-4.49 1.79l-4.49 -1.79v-3.58zM975.5 294.8l4.49 1.79v3.58l-4.49 1.79l-4.49 -1.79v-3.58zM984.5 380.7l4.49 1.79v3.58l-4.49 1.79l-4.49 -1.79v-3.58zM234.9 310.9l4.49 1.79v3.58l-4.49 1.79l-4.49 -1.79v-3.58zM252.9 310.9l4.49 1.79v3.58l-4.49 1.79l-4.49 -1.79v-3.58zM252.9 278.7l4.49 1.79v3.58l-4.49 1.79l-4.49 -1.79v-3.58zM270.8 278.7l4.49 1.79v3.58l-4.49 1.79l-4.49 -1.79v-3.58zM297.8 310.9l4.49 1.79v3.58l-4.49 1.79l-4.49 -1.79v-3.58zM315.7 332.4l4.49 1.79v3.58l-4.49 1.79l-4.49 -1.79v-3.58zM378.5 268.0l4.49 1.79v3.58l-4.49 1.79l-4.49 -1.79v-3.58zM387.5 332.4l4.49 1.79v3.58l-4.49 1.79l-4.49 -1.79v-3.58zM405.5 332.4l4.49 1.79v3.58l-4.49 1.79l-4.49 -1.79v-3.58zM414.5 343.1l4.49 1.79v3.58l-4.49 1.79l-4.49 -1.79v-3.58zM423.4 332.4l4.49 1.79v3.58l-4.49 1.79l-4.49 -1.79v-3.58zM477.3 343.1l4.49 1.79v3.58l-4.49 1.79l-4.49 -1.79v-3.58zM611.9 268.0l4.49 1.79v3.58l-4.49 1.79l-4.49 -1.79v-3.58zM629.9 353.9l4.49 1.79v3.58l-4.49 1.79l-4.49 -1.79v-3.58zM638.9 268.0l4.49 1.79v3.58l-4.49 1.79l-4.49 -1.79v-3.58zM674.8 353.9l4.49 1.79v3.58l-4.49 1.79l-4.49 -1.79v-3.58zM674.8 268.0l4.49 1.79v3.58l-4.49 1.79l-4.49 -1.79v-3.58zM692.7 268.0l4.49 1.79v3.58l-4.49 1.79l-4.49 -1.79v-3.58zM737.6 257.2l4.49 1.79v3.58l-4.49 1.79l-4.49 -1.79v-3.58zM755.6 375.4l4.49 1.79v3.58l-4.49 1.79l-4.49 -1.79v-3.58zM755.6 246.5l4.49 1.79v3.58l-4.49 1.79l-4.49 -1.79v-3.58zM764.6 257.2l4.49 1.79v3.58l-4.49 1.79l-4.49 -1.79v-3.58zM791.5 386.1l4.49 1.79v3.58l-4.49 1.79l-4.49 -1.79v-3.58zM809.4 257.2l4.49 1.79v3.58l-4.49 1.79l-4.49 -1.79v-3.58zM827.4 235.7l4.49 1.79v3.58l-4.49 1.79l-4.49 -1.79v-3.58zM890.2 429.1l4.49 1.79v3.58l-4.49 1.79l-4.49 -1.79v-3.58zM899.2 225.0l4.49 1.79v3.58l-4.49 1.79l-4.49 -1.79v-3.58zM926.1 214.3l4.49 1.79v3.58l-4.49 1.79l-4.49 -1.79v-3.58zM926.1 203.5l4.49 1.79v3.58l-4.49 1.79l-4.49 -1.79v-3.58zM962.0 450.5l4.49 1.79v3.58l-4.49 1.79l-4.49 -1.79v-3.58zM971.0 289.4l4.49 1.79v3.58l-4.49 1.79l-4.49 -1.79v-3.58zM980.0 353.9l4.49 1.79v3.58l-4.49 1.79l-4.49 -1.79v-3.58zM980.0 278.7l4.49 1.79v3.58l-4.49 1.79l-4.49 -1.79v-3.58z"/>
<path fill="#9c2e7f" stroke="#9c2e7f" d="M203.5 316.3l4.49 1.79v3.58l-4.49 1.79l-4.49 -1.79v-3.58zM239.4 305.5l4.49 1.79v3.58l-4.49 1.79l-4.49 -1.79v-3.58zM257.4 316.3l4.49 1.79v3.58l-4.49 1.79l-4.49 -1.79v-3.58zM293.3 284.1l4.49 1.79v3.58l-4.49 1.79l-4.49 -1.79v-3.58zM311.2 273.3l4.49 1.79v3.58l-4.49 1.79l-4.49 -1.79v-3.58zM338.1 327.0l4.49 1.79v3.58l-4.49 1.79l-4.49 -1.79v-3.58zM338.1 273.3l4.49 1.79v3.58l-4.49 1.79l-4.49 -1.79v-3.58zM347.1 273.3l4.49 1.79v3.58l-4.49 1.79l-4.49 -1.79v-3.58zM356.1 327.0l4.49 1.79v3.58l-4.49 1.79l-4.49 -1.79v-3.58zM383.0 273.3l4.49 1.79v3.58l-4.49 1.79l-4.49 -1.79v-3.58zM392.0 273.3l4.49 1.79v3.58l-4.49 1.79l-4.49 -1.79v-3.58zM454.8 337.8l4.49 1.79v3.58l-4.49 1.79l-4.49 -1.79v-3.58zM454.8 273.3l4.49 1.79v3.58l-4.49 1.79l-4.49 -1.79v-3.58zM463.8 337.8l4.49 1.79v3.58l-4.49 1.79l-4.49 -1.79v-3.58zM481.8 337.8l4.49 1.79v3.58l-4.49 1.79l-4.49 -1.79v-3.58zM517.7 273.3l4.49 1.79v3.58l-4.49 1.79l-4.49 -1.79v-3.58zM553.6 348.5l4.49 1.79v3.58l-4.49 1.79l-4.49 -1.79v-3.58zM580.5 273.3l4.49 1.79v3.58l-4.49 1.79l-4.49 -1.79v-3.58zM589.5 273.3l4.49 1.79v3.58l-4.49 1.79l-4.49 -1.79v-3.58zM652.3 262.6l4.49 1.79v3.58l-4.49 1.79l-4.49 -1.79v-3.58zM661.3 359.3l4.49 1.79v3.58l-4.49 1.79l-4.49 -1.79v-3.58zM688.3 370.0l4.49 1.79v3.58l-4.49 1.79l-4.49 -1.79v-3.58zM697.2 359.3l4.49 1.79v3.58l-4.49 1.79l-4.49 -1.79v-3.58zM706.2 262.6l4.49 1.79v3.58l-4.49 1.79l-4.49 -1.79v-3.58zM742.1 370.0l4.49 1.79v3.58l-4.49 1.79l-4.49 -1.79v-3.58zM751.1 262.6l4.49 1.79v3.58l-4.49 1.79l-4.49 -1.79v-3.58zM813.9 230.4l4.49 1.79v3.58l-4.49 1.79l-4.49 -1.79v-3.58zM831.9 402.2l4.49 1.79v3.58l-4.49 1.79l-4.49 -1.79v-3.58zM840.9 423.7l4.49 1.79v3.58l-4.49 1.79l-4.49 -1.79v-3.58zM840.9 230.4l4.49 1.79v3.58l-4.49 1.79l-4.49 -1.79v-3.58zM876.8 241.1l4.49 1.79v3.58l-4.49 1.79l-4.49 -1.79v-3.58zM885.7 413.0l4.49 1.79v3.58l-4.49 1.79l-4.49 -1.79v-3.58zM903.7 423.7l4.49 1.79v3.58l-4.49 1.79l-4.49 -1.79v-3.58zM912.7 455.9l4.49 1.79v3.58l-4.49 1.79l-4.49 -1.79v-3.58zM912.7 208.9l4.49 1.79v3.58l-4.49 1.79l-4.49 -1.79v-3.58zM930.6 466.7l4.49 1.79v3.58l-4.49 1.79l-4.49 -1.79v-3.58zM930.6 455.9l4.49 1.79v3.58l-4.49 1.79l-4.49 -1.79v-3.58zM948.6 208.9l4.49 1.79v3.58l-4.49 1.79l-4.49 -1.79v-3.58zM957.6 434.4l4.49 1.79v3.58l-4.49 1.79l-4.49 -1.79v-3.58zM966.5 380.7l4.49 1.79v3.58l-4.49 1.79l-4.49 -1.79v-3.58zM975.5 455.9l4.49 1.79v3.58l-4.49 1.79l-4.49 -1.79v-3.58zM975.5 391.5l4.49 1.79v3.58l-4.49 1.79l-4.49 -1.79v-3.58zM984.5 337.8l4.49 1.79v3.58l-4.49 1.79l-4.49 -1.79v-3.58zM217.0 289.4l4.49 1.79v3.58l-4.49 1.79l-4.49 -1.79v-3.58zM225.9 278.7l4.49 1.79v3.58l-4.49 1.79l-4.49 -1.79v-3.58zM261.8 289.4l4.49 1.79v3.58l-4.49 1.79l-4.49 -1.79v-3.58zM270.8 300.2l4.49 1.79v3.58l-4.49 1.79l-4.49 -1.79v-3.58zM351.6 332.4l4.49 1.79v3.58l-4.49 1.79l-4.49 -1.79v-3.58zM477.3 268.0l4.49 1.79v3.58l-4.49 1.79l-4.49 -1.79v-3.58zM495.2 343.1l4.49 1.79v3.58l-4.49 1.79l-4.49 -1.79v-3.58zM522.2 353.9l4.49 1.79v3.58l-4.49 1.79l-4.49 -1.79v-3.58zM549.1 268.0l4.49 1.79v3.58l-4.49 1.79l-4.49 -1.79v-3.58zM567.1 268.0l4.49 1.79v3.58l-4.49 1.79l-4.49 -1.79v-3.58zM594.0 353.9l4.49 1.79v3.58l-4.49 1.79l-4.49 -1.79v-3.58zM603.0 353.9l4.49 1.79v3.58l-4.49 1.79l-4.49 -1.79v-3.58zM611.9 353.9l4.49 1.79v3.58l-4.49 1.79l-4.49 -1.79v-3.58zM683.8 268.0l4.49 1.79v3.58l-4.49 1.79l-4.49 -1.79v-3.58zM737.6 375.4l4.49 1.79v3.58l-4.49 1.79l-4.49 -1.79v-3.58zM773.5 257.2l4.49 1.79v3.58l-4.49 1.79l-4.49 -1.79v-3.58zM800.5 396.8l4.49 1.79v3.58l-4.49 1.79l-4.49 -1.79v-3.58zM800.5 246.5l4.49 1.79v3.58l-4.49 1.79l-4.49 -1.79v-3.58zM854.3 407.6l4.49 1.79v3.58l-4.49 1.79l-4.49 -1.79v-3.58zM854.3 235.7l4.49 1.79v3.58l-4.49 1.79l-4.49 -1.79v-3.58zM890.2 418.3l4.49 1.79v3.58l-4.49 1.79l-4.49 -1.79v-3.58zM917.2 203.5l4.49 1.79v3.58l-4.49 1.79l-4.49 -1.79v-3.58zM926.1 472.0l4.49 1.79v3.58l-4.49 1.79l-4.49 -1.79v-3.58zM926.1 225.0l4.49 1.79v3.58l-4.49 1.79l-4.49 -1.79v-3.58zM944.1 461.3l4.49 1.79v3.58l-4.49 1.79l-4.49 -1.79v-3.58zM944.1 203.5l4.49 1.79v3.58l-4.49 1.79l-4.49 -1.79v-3.58zM962.0 418.3l4.49 1.79v3.58l-4.49 1.79l-4.49 -1.79v-3.58zM962.0 246.5l4.49 1.79v3.58l-4.49 1.79l-4.49 -1.79v-3.58zM971.0 461.3l4.49 1.79v3.58l-4.49 1.79l-4.49 -1.79v-3.58zM971.0 450.5l4.49 1.79v3.58l-4.49 1.79l-4.49 -1.79v-3.58zM971.0 418.3l4.49 1.79v3.58l-4.49 1.79l-4.49 -1.79v-3.58zM971.0 300.2l4.49 1.79v3.58l-4.49 1.79l-4.49 -1.79v-3.58zM980.0 321.7l4.49 1.79v3.58l-4.49 1.79l-4.49 -1.79v-3.58z"/>
<path fill="#a5317e" stroke="#a5317e" d="M248.4 305.5l4.49 1.79v3.58l-4.49 1.79l-4.49 -1.79v-3.58zM248.4 284.1l4.49 1.79v3.58l-4.49 1.79l-4.49 -1.79v-3.58zM401.0 337.8l4.49 1.79v3.58l-4.49 1.79l-4.49 -1.79v-3.58zM401.0 273.3l4.49 1.79v3.58l-4.49 1.79l-4.49 -1.79v-3.58zM427.9 273.3l4.49 1.79v3.58l-4.49 1.79l-4.49 -1.79v-3.58zM526.7 348.5l4.49 1.79v3.58l-4.49 1.79l-4.49 -1.79v-3.58zM526.7 273.3l4.49 1.79v3.58l-4.49 1.79l-4.49 -1.79v-3.58zM607.5 348.5l4.49 1.79v3.58l-4.49 1.79l-4.49 -1.79v-3.58zM607.5 273.3l4.49 1.79v3.58l-4.49 1.79l-4.49 -1.79v-3.58zM643.4 273.3l4.49 1.79v3.58l-4.49 1.79l-4.49 -1.79v-3.58zM679.3 273.3l4.49 1.79v3.58l-4.49 1.79l-4.49 -1.79v-3.58zM751.1 380.7l4.49 1.79v3.58l-4.49 1.79l-4.49 -1.79v-3.58zM760.1 370.0l4.49 1.79v3.58l-4.49 1.79l-4.49 -1.79v-3.58zM769.0 380.7l4.49 1.79v3.58l-4.49 1.79l-4.49 -1.79v-3.58zM778.0 380.7l4.49 1.79v3.58l-4.49 1.79l-4.49 -1.79v-3.58zM805.0 391.5l4.49 1.79v3.58l-4.49 1.79l-4.49 -1.79v-3.58zM822.9 241.1l4.49 1.79v3.58l-4.49 1.79l-4.49 -1.79v-3.58zM831.9 241.1l4.49 1.79v3.58l-4.49 1.79l-4.49 -1.79v-3.58zM849.8 391.5l4.49 1.79v3.58l-4.49 1.79l-4.49 -1.79v-3.58zM867.8 241.1l4.49 1.79v3.58l-4.49 1.79l-4.49 -1.79v-3.58zM903.7 219.6l4.49 1.79v3.58l-4.49 1.79l-4.49 -1.79v-3.58zM939.6 219.6l4.49 1.79v3.58l-4.49 1.79l-4.49 -1.79v-3.58zM957.6 230.4l4.49 1.79v3.58l-4.49 1.79l-4.49 -1.79v-3.58zM957.6 219.6l4.49 1.79v3.58l-4.49 1.79l-4.49 -1.79v-3.58zM966.5 445.2l4.49 1.79v3.58l-4.49 1.79l-4.49 -1.79v-3.58zM975.5 370.0l4.49 1.79v3.58l-4.49 1.79l-4.49 -1.79v-3.58zM975.5 327.0l4.49 1.79v3.58l-4.49 1.79l-4.49 -1.79v-3.58zM225.9 289.4l4.49 1.79v3.58l-4.49 1.79l-4.49 -1.79v-3.58zM243.9 289.4l4.49 1.79v3.58l-4.49 1.79l-4.49 -1.79v-3.58zM279.8 310.9l4.49 1.79v3.58l-4.49 1.79l-4.49 -1.79v-3.58zM342.6 321.7l4.49 1.79v3.58l-4.49 1.79l-4.49 -1.79v-3.58zM387.5 268.0l4.49 1.79v3.58l-4.49 1.79l-4.49 -1.79v-3.58zM396.5 332.4l4.49 1.79v3.58l-4.49 1.79l-4.49 -1.79v-3.58zM513.2 343.1l4.49 1.79v3.58l-4.49 1.79l-4.49 -1.79v-3.58zM513.2 268.0l4.49 1.79v3.58l-4.49 1.79l-4.49 -1.79v-3.58zM558.1 353.9l4.49 1.79v3.58l-4.49 1.79l-4.49 -1.79v-3.58zM620.9 364.6l4.49 1.79v3.58l-4.49 1.79l-4.49 -1.79v-3.58zM620.9 268.0l4.49 1.79v3.58l-4.49 1.79l-4.49 -1.79v-3.58zM728.6 375.4l4.49 1.79v3.58l-4.49 1.79l-4.49 -1.79v-3.58zM728.6 364.6l4.49 1.79v3.58l-4.49 1.79l-4.49 -1.79v-3.58zM728.6 257.2l4.49 1.79v3.58l-4.49 1.79l-4.49 -1.79v-3.58zM737.6 364.6l4.49 1.79v3.58l-4.49 1.79l-4.49 -1.79v-3.58zM836.4 407.6l4.49 1.79v3.58l-4.49 1.79l-4.49 -1.79v-3.58zM863.3 407.6l4.49 1.79v3.58l-4.49 1.79l-4.49 -1.79v-3.58zM881.3 429.1l4.49 1.79v3.58l-4.49 1.79l-4.49 -1.79v-3.58zM881.3 418.3l4.49 1.79v3.58l-4.49 1.79l-4.49 -1.79v-3.58zM881.3 225.0l4.49 1.79v3.58l-4.49 1.79l-4.49 -1.79v-3.58zM908.2 439.8l4.49 1.79v3.58l-4.49 1.79l-4.49 -1.79v-3.58zM917.2 214.3l4.49 1.79v3.58l-4.49 1.79l-4.49 -1.79v-3.58zM926.1 235.7l4.49 1.79v3.58l-4.49 1.79l-4.49 -1.79v-3.58zM953.1 472.0l4.49 1.79v3.58l-4.49 1.79l-4.49 -1.79v-3.58zM953.1 450.5l4.49 1.79v3.58l-4.49 1.79l-4.49 -1.79v-3.58zM953.1 225.0l4.49 1.79v3.58l-4.49 1.79l-4.49 -1.79v-3.58zM962.0 257.2l4.49 1.79v3.58l-4.49 1.79l-4.49 -1.79v-3.58zM962.0 235.7l4.49 1.79v3.58l-4.49 1.79l-4.49 -1.79v-3.58zM971.0 268.0l4.49 1.79v3.58l-4.49 1.79l-4.49 -1.79v-3.58z"/>
<path fill="#ad347c" stroke="#ad347c" d="M221.4 305.5l4.49 1.79v3.58l-4.49 1.79l-4.49 -1.79v-3.58zM266.3 284.1l4.49 1.79v3.58l-4.49 1.79l-4.49 -1.79v-3.58zM311.2 316.3l4.49 1.79v3.58l-4.49 1.79l-4.49 -1.79v-3.58zM320.2 284.1l4.49 1.79v3.58l-4.49 1.79l-4.49 -1.79v-3.58zM374.1 273.3l4.49 1.79v3.58l-4.49 1.79l-4.49 -1.79v-3.58zM410.0 273.3l4.49 1.79v3.58l-4.49 1.79l-4.49 -1.79v-3.58zM535.6 273.3l4.49 1.79v3.58l-4.49 1.79l-4.49 -1.79v-3.58zM652.3 359.3l4.49 1.79v3.58l-4.49 1.79l-4.49 -1.79v-3.58zM733.1 262.6l4.49 1.79v3.58l-4.49 1.79l-4.49 -1.79v-3.58zM805.0 380.7l4.49 1.79v3.58l-4.49 1.79l-4.49 -1.79v-3.58zM885.7 230.4l4.49 1.79v3.58l-4.49 1.79l-4.49 -1.79v-3.58zM912.7 434.4l4.49 1.79v3.58l-4.49 1.79l-4.49 -1.79v-3.58zM912.7 219.6l4.49 1.79v3.58l-4.49 1.79l-4.49 -1.79v-3.58zM921.7 219.6l4.49 1.79v3.58l-4.49 1.79l-4.49 -1.79v-3.58zM948.6 219.6l4.49 1.79v3.58l-4.49 1.79l-4.49 -1.79v-3.58zM966.5 413.0l4.49 1.79v3.58l-4.49 1.79l-4.49 -1.79v-3.58zM975.5 348.5l4.49 1.79v3.58l-4.49 1.79l-4.49 -1.79v-3.58zM975.5 273.3l4.49 1.79v3.58l-4.49 1.79l-4.49 -1.79v-3.58zM243.9 310.9l4.49 1.79v3.58l-4.49 1.79l-4.49 -1.79v-3.58zM288.8 278.7l4.49 1.79v3.58l-4.49 1.79l-4.49 -1.79v-3.58zM306.7 321.7l4.49 1.79v3.58l-4.49 1.79l-4.49 -1.79v-3.58zM324.7 278.7l4.49 1.79v3.58l-4.49 1.79l-4.49 -1.79v-3.58zM405.5 268.0l4.49 1.79v3.58l-4.49 1.79l-4.49 -1.79v-3.58zM486.3 343.1l4.49 1.79v3.58l-4.49 1.79l-4.49 -1.79v-3.58zM531.2 268.0l4.49 1.79v3.58l-4.49 1.79l-4.49 -1.79v-3.58zM647.9 268.0l4.49 1.79v3.58l-4.49 1.79l-4.49 -1.79v-3.58zM701.7 268.0l4.49 1.79v3.58l-4.49 1.79l-4.49 -1.79v-3.58zM710.7 364.6l4.49 1.79v3.58l-4.49 1.79l-4.49 -1.79v-3.58zM764.6 268.0l4.49 1.79v3.58l-4.49 1.79l-4.49 -1.79v-3.58zM782.5 257.2l4.49 1.79v3.58l-4.49 1.79l-4.49 -1.79v-3.58zM791.5 257.2l4.49 1.79v3.58l-4.49 1.79l-4.49 -1.79v-3.58zM836.4 396.8l4.49 1.79v3.58l-4.49 1.79l-4.49 -1.79v-3.58zM836.4 246.5l4.49 1.79v3.58l-4.49 1.79l-4.49 -1.79v-3.58zM890.2 225.0l4.49 1.79v3.58l-4.49 1.79l-4.49 -1.79v-3.58zM899.2 214.3l4.49 1.79v3.58l-4.49 1.79l-4.49 -1.79v-3.58zM935.1 192.8l4.49 1.79v3.58l-4.49 1.79l-4.49 -1.79v-3.58zM944.1 214.3l4.49 1.79v3.58l-4.49 1.79l-4.49 -1.79v-3.58zM962.0 461.3l4.49 1.79v3.58l-4.49 1.79l-4.49 -1.79v-3.58zM962.0 353.9l4.49 1.79v3.58l-4.49 1.79l-4.49 -1.79v-3.58zM962.0 289.4l4.49 1.79v3.58l-4.49 1.79l-4.49 -1.79v-3.58zM971.0 407.6l4.49 1.79v3.58l-4.49 1.79l-4.49 -1.79v-3.58zM971.0 321.7l4.49 1.79v3.58l-4.49 1.79l-4.49 -1.79v-3.58zM971.0 310.9l4.49 1.79v3.58l-4.49 1.79l-4.49 -1.79v-3.58z"/>
<path fill="#b73779" stroke="#b73779" d="M257.4 305.5l4.49 1.79v3.58l-4.49 1.79l-4.49 -1.79v-3.58zM436.9 273.3l4.49 1.79v3.58l-4.49 1.79l-4.49 -1.79v-3.58zM535.6 348.5l4.49 1.79v3.58l-4.49 1.79l-4.49 -1.79v-3.58zM562.6 348.5l4.49 1.79v3.58l-4.49 1.79l-4.49 -1.79v-3.58zM571.5 348.5l4.49 1.79v3.58l-4.49 1.79l-4.49 -1.79v-3.58zM661.3 273.3l4.49 1.79v3.58l-4.49 1.79l-4.49 -1.79v-3.58zM679.3 359.3l4.49 1.79v3.58l-4.49 1.79l-4.49 -1.79v-3.58zM706.2 359.3l4.49 1.79v3.58l-4.49 1.79l-4.49 -1.79v-3.58zM715.2 370.0l4.49 1.79v3.58l-4.49 1.79l-4.49 -1.79v-3.58zM769.0 262.6l4.49 1.79v3.58l-4.49 1.79l-4.49 -1.79v-3.58zM822.9 391.5l4.49 1.79v3.58l-4.49 1.79l-4.49 -1.79v-3.58zM849.8 241.1l4.49 1.79v3.58l-4.49 1.79l-4.49 -1.79v-3.58zM858.8 413.0l4.49 1.79v3.58l-4.49 1.79l-4.49 -1.79v-3.58zM858.8 241.1l4.49 1.79v3.58l-4.49 1.79l-4.49 -1.79v-3.58zM867.8 413.0l4.49 1.79v3.58l-4.49 1.79l-4.49 -1.79v-3.58zM867.8 230.4l4.49 1.79v3.58l-4.49 1.79l-4.49 -1.79v-3.58zM912.7 445.2l4.49 1.79v3.58l-4.49 1.79l-4.49 -1.79v-3.58zM921.7 230.4l4.49 1.79v3.58l-4.49 1.79l-4.49 -1.79v-3.58zM948.6 477.4l4.49 1.79v3.58l-4.49 1.79l-4.49 -1.79v-3.58zM948.6 434.4l4.49 1.79v3.58l-4.49 1.79l-4.49 -1.79v-3.58zM957.6 241.1l4.49 1.79v3.58l-4.49 1.79l-4.49 -1.79v-3.58zM966.5 327.0l4.49 1.79v3.58l-4.49 1.79l-4.49 -1.79v-3.58zM975.5 434.4l4.49 1.79v3.58l-4.49 1.79l-4.49 -1.79v-3.58zM234.9 300.2l4.49 1.79v3.58l-4.49 1.79l-4.49 -1.79v-3.58zM261.8 310.9l4.49 1.79v3.58l-4.49 1.79l-4.49 -1.79v-3.58zM288.8 289.4l4.49 1.79v3.58l-4.49 1.79l-4.49 -1.79v-3.58zM306.7 289.4l4.49 1.79v3.58l-4.49 1.79l-4.49 -1.79v-3.58zM306.7 278.7l4.49 1.79v3.58l-4.49 1.79l-4.49 -1.79v-3.58zM324.7 321.7l4.49 1.79v3.58l-4.49 1.79l-4.49 -1.79v-3.58zM351.6 321.7l4.49 1.79v3.58l-4.49 1.79l-4.49 -1.79v-3.58zM414.5 332.4l4.49 1.79v3.58l-4.49 1.79l-4.49 -1.79v-3.58zM423.4 278.7l4.49 1.79v3.58l-4.49 1.79l-4.49 -1.79v-3.58zM432.4 278.7l4.49 1.79v3.58l-4.49 1.79l-4.49 -1.79v-3.58zM576.0 278.7l4.49 1.79v3.58l-4.49 1.79l-4.49 -1.79v-3.58zM656.8 268.0l4.49 1.79v3.58l-4.49 1.79l-4.49 -1.79v-3.58zM746.6 257.2l4.49 1.79v3.58l-4.49 1.79l-4.49 -1.79v-3.58zM782.5 375.4l4.49 1.79v3.58l-4.49 1.79l-4.49 -1.79v-3.58zM800.5 257.2l4.49 1.79v3.58l-4.49 1.79l-4.49 -1.79v-3.58zM809.4 386.1l4.49 1.79v3.58l-4.49 1.79l-4.49 -1.79v-3.58zM809.4 246.5l4.49 1.79v3.58l-4.49 1.79l-4.49 -1.79v-3.58zM845.3 235.7l4.49 1.79v3.58l-4.49 1.79l-4.49 -1.79v-3.58zM881.3 407.6l4.49 1.79v3.58l-4.49 1.79l-4.49 -1.79v-3.58zM908.2 225.0l4.49 1.79v3.58l-4.49 1.79l-4.49 -1.79v-3.58zM917.2 450.5l4.49 1.79v3.58l-4.49 1.79l-4.49 -1.79v-3.58zM953.1 203.5l4.49 1.79v3.58l-4.49 1.79l-4.49 -1.79v-3.58zM962.0 268.0l4.49 1.79v3.58l-4.49 1.79l-4.49 -1.79v-3.58zM971.0 375.4l4.49 1.79v3.58l-4.49 1.79l-4.49 -1.79v-3.58z"/>
<path fill="#bf3a77" stroke="#bf3a77" d="M230.4 294.8l4.49 1.79v3.58l-4.49 1.79l-4.49 -1.79v-3.58zM248.4 294.8l4.49 1.79v3.58l-4.49 1.79l-4.49 -1.79v-3.58zM257.4 294.8l4.49 1.79v3.58l-4.49 1.79l-4.49 -1.79v-3.58zM284.3 316.3l4.49 1.79v3.58l-4.49 1.79l-4.49 -1.79v-3.58zM293.3 305.5l4.49 1.79v3.58l-4.49 1.79l-4.49 -1.79v-3.58zM320.2 316.3l4.49 1.79v3.58l-4.49 1.79l-4.49 -1.79v-3.58zM329.2 284.1l4.49 1.79v3.58l-4.49 1.79l-4.49 -1.79v-3.58zM365.1 327.0l4.49 1.79v3.58l-4.49 1.79l-4.49 -1.79v-3.58zM383.0 327.0l4.49 1.79v3.58l-4.49 1.79l-4.49 -1.79v-3.58zM418.9 273.3l4.49 1.79v3.58l-4.49 1.79l-4.49 -1.79v-3.58zM445.9 337.8l4.49 1.79v3.58l-4.49 1.79l-4.49 -1.79v-3.58zM508.7 273.3l4.49 1.79v3.58l-4.49 1.79l-4.49 -1.79v-3.58zM580.5 348.5l4.49 1.79v3.58l-4.49 1.79l-4.49 -1.79v-3.58zM625.4 273.3l4.49 1.79v3.58l-4.49 1.79l-4.49 -1.79v-3.58zM724.2 359.3l4.49 1.79v3.58l-4.49 1.79l-4.49 -1.79v-3.58zM760.1 359.3l4.49 1.79v3.58l-4.49 1.79l-4.49 -1.79v-3.58zM769.0 370.0l4.49 1.79v3.58l-4.49 1.79l-4.49 -1.79v-3.58zM805.0 251.8l4.49 1.79v3.58l-4.49 1.79l-4.49 -1.79v-3.58zM831.9 251.8l4.49 1.79v3.58l-4.49 1.79l-4.49 -1.79v-3.58zM840.9 391.5l4.49 1.79v3.58l-4.49 1.79l-4.49 -1.79v-3.58zM840.9 241.1l4.49 1.79v3.58l-4.49 1.79l-4.49 -1.79v-3.58zM849.8 262.6l4.49 1.79v3.58l-4.49 1.79l-4.49 -1.79v-3.58zM849.8 230.4l4.49 1.79v3.58l-4.49 1.79l-4.49 -1.79v-3.58zM876.8 423.7l4.49 1.79v3.58l-4.49 1.79l-4.49 -1.79v-3.58zM876.8 413.0l4.49 1.79v3.58l-4.49 1.79l-4.49 -1.79v-3.58zM894.7 423.7l4.49 1.79v3.58l-4.49 1.79l-4.49 -1.79v-3.58zM903.7 434.4l4.49 1.79v3.58l-4.49 1.79l-4.49 -1.79v-3.58zM921.7 445.2l4.49 1.79v3.58l-4.49 1.79l-4.49 -1.79v-3.58zM921.7 423.7l4.49 1.79v3.58l-4.49 1.79l-4.49 -1.79v-3.58zM930.6 445.2l4.49 1.79v3.58l-4.49 1.79l-4.49 -1.79v-3.58zM930.6 219.6l4.49 1.79v3.58l-4.49 1.79l-4.49 -1.79v-3.58zM939.6 455.9l4.49 1.79v3.58l-4.49 1.79l-4.49 -1.79v-3.58zM948.6 241.1l4.49 1.79v3.58l-4.49 1.79l-4.49 -1.79v-3.58zM948.6 230.4l4.49 1.79v3.58l-4.49 1.79l-4.49 -1.79v-3.58zM957.6 251.8l4.49 1.79v3.58l-4.49 1.79l-4.49 -1.79v-3.58zM966.5 391.5l4.49 1.79v3.58l-4.49 1.79l-4.49 -1.79v-3.58zM966.5 348.5l4.49 1.79v3.58l-4.49 1.79l-4.49 -1.79v-3.58zM966.5 337.8l4.49 1.79v3.58l-4.49 1.79l-4.49 -1.79v-3.58zM975.5 337.8l4.49 1.79v3.58l-4.49 1.79l-4.49 -1.79v-3.58zM252.9 300.2l4.49 1.79v3.58l-4.49 1.79l-4.49 -1.79v-3.58zM252.9 289.4l4.49 1.79v3.58l-4.49 1.79l-4.49 -1.79v-3.58zM261.8 300.2l4.49 1.79v3.58l-4.49 1.79l-4.49 -1.79v-3.58zM270.8 310.9l4.49 1.79v3.58l-4.49 1.79l-4.49 -1.79v-3.58zM270.8 289.4l4.49 1.79v3.58l-4.49 1.79l-4.49 -1.79v-3.58zM279.8 300.2l4.49 1.79v3.58l-4.49 1.79l-4.49 -1.79v-3.58zM279.8 278.7l4.49 1.79v3.58l-4.49 1.79l-4.49 -1.79v-3.58zM297.8 289.4l4.49 1.79v3.58l-4.49 1.79l-4.49 -1.79v-3.58zM297.8 278.7l4.49 1.79v3.58l-4.49 1.79l-4.49 -1.79v-3.58zM342.6 278.7l4.49 1.79v3.58l-4.49 1.79l-4.49 -1.79v-3.58zM351.6 278.7l4.49 1.79v3.58l-4.49 1.79l-4.49 -1.79v-3.58zM369.6 321.7l4.49 1.79v3.58l-4.49 1.79l-4.49 -1.79v-3.58zM387.5 278.7l4.49 1.79v3.58l-4.49 1.79l-4.49 -1.79v-3.58zM432.4 332.4l4.49 1.79v3.58l-4.49 1.79l-4.49 -1.79v-3.58zM441.4 332.4l4.49 1.79v3.58l-4.49 1.79l-4.49 -1.79v-3.58zM531.2 343.1l4.49 1.79v3.58l-4.49 1.79l-4.49 -1.79v-3.58zM540.1 278.7l4.49 1.79v3.58l-4.49 1.79l-4.49 -1.79v-3.58zM558.1 268.0l4.49 1.79v3.58l-4.49 1.79l-4.49 -1.79v-3.58zM576.0 353.9l4.49 1.79v3.58l-4.49 1.79l-4.49 -1.79v-3.58zM576.0 268.0l4.49 1.79v3.58l-4.49 1.79l-4.49 -1.79v-3.58zM692.7 364.6l4.49 1.79v3.58l-4.49 1.79l-4.49 -1.79v-3.58zM719.7 364.6l4.49 1.79v3.58l-4.49 1.79l-4.49 -1.79v-3.58zM719.7 268.0l4.49 1.79v3.58l-4.49 1.79l-4.49 -1.79v-3.58zM746.6 364.6l4.49 1.79v3.58l-4.49 1.79l-4.49 -1.79v-3.58zM755.6 268.0l4.49 1.79v3.58l-4.49 1.79l-4.49 -1.79v-3.58zM764.6 375.4l4.49 1.79v3.58l-4.49 1.79l-4.49 -1.79v-3.58zM773.5 268.0l4.49 1.79v3.58l-4.49 1.79l-4.49 -1.79v-3.58zM827.4 396.8l4.49 1.79v3.58l-4.49 1.79l-4.49 -1.79v-3.58zM845.3 396.8l4.49 1.79v3.58l-4.49 1.79l-4.49 -1.79v-3.58zM854.3 396.8l4.49 1.79v3.58l-4.49 1.79l-4.49 -1.79v-3.58zM872.3 235.7l4.49 1.79v3.58l-4.49 1.79l-4.49 -1.79v-3.58zM881.3 235.7l4.49 1.79v3.58l-4.49 1.79l-4.49 -1.79v-3.58zM890.2 235.7l4.49 1.79v3.58l-4.49 1.79l-4.49 -1.79v-3.58zM917.2 439.8l4.49 1.79v3.58l-4.49 1.79l-4.49 -1.79v-3.58zM926.1 450.5l4.49 1.79v3.58l-4.49 1.79l-4.49 -1.79v-3.58zM926.1 439.8l4.49 1.79v3.58l-4.49 1.79l-4.49 -1.79v-3.58zM944.1 450.5l4.49 1.79v3.58l-4.49 1.79l-4.49 -1.79v-3.58zM944.1 246.5l4.49 1.79v3.58l-4.49 1.79l-4.49 -1.79v-3.58zM944.1 235.7l4.49 1.79v3.58l-4.49 1.79l-4.49 -1.79v-3.58zM944.1 225.0l4.49 1.79v3.58l-4.49 1.79l-4.49 -1.79v-3.58zM953.1 461.3l4.49 1.79v3.58l-4.49 1.79l-4.49 -1.79v-3.58zM953.1 278.7l4.49 1.79v3.58l-4.49 1.79l-4.49 -1.79v-3.58zM953.1 268.0l4.49 1.79v3.58l-4.49 1.79l-4.49 -1.79v-3.58zM953.1 246.5l4.49 1.79v3.58l-4.49 1.79l-4.49 -1.79v-3.58zM953.1 235.7l4.49 1.79v3.58l-4.49 1.79l-4.49 -1.79v-3.58zM962.0 407.6l4.49 1.79v3.58l-4.49 1.79l-4.49 -1.79v-3.58zM962.0 375.4l4.49 1.79v3.58l-4.49 1.79l-4.49 -1.79v-3.58zM962.0 278.7l4.49 1.79v3.58l-4.49 1.79l-4.49 -1.79v-3.58zM971.0 396.8l4.49 1.79v3.58l-4.49 1.79l-4.49 -1.79v-3.58zM971.0 332.4l4.49 1.79v3.58l-4.49 1.79l-4.49 -1.79v-3.58zM971.0 278.7l4.49 1.79v3.58l-4.49 1.79l-4.49 -1.79v-3.58z"/>
<path fill="#c73d73" stroke="#c73d73" d="M275.3 305.5l4.49 1.79v3.58l-4.49 1.79l-4.49 -1.79v-3.58zM293.3 316.3l4.49 1.79v3.58l-4.49 1.79l-4.49 -1.79v-3.58zM311.2 294.8l4.49 1.79v3.58l-4.49 1.79l-4.49 -1.79v-3.58zM410.0 327.0l4.49 1.79v3.58l-4.49 1.79l-4.49 -1.79v-3.58zM427.9 327.0l4.49 1.79v3.58l-4.49 1.79l-4.49 -1.79v-3.58zM472.8 337.8l4.49 1.79v3.58l-4.49 1.79l-4.49 -1.79v-3.58zM481.8 273.3l4.49 1.79v3.58l-4.49 1.79l-4.49 -1.79v-3.58zM616.4 348.5l4.49 1.79v3.58l-4.49 1.79l-4.49 -1.79v-3.58zM715.2 359.3l4.49 1.79v3.58l-4.49 1.79l-4.49 -1.79v-3.58zM778.0 370.0l4.49 1.79v3.58l-4.49 1.79l-4.49 -1.79v-3.58zM796.0 380.7l4.49 1.79v3.58l-4.49 1.79l-4.49 -1.79v-3.58zM867.8 391.5l4.49 1.79v3.58l-4.49 1.79l-4.49 -1.79v-3.58zM894.7 230.4l4.49 1.79v3.58l-4.49 1.79l-4.49 -1.79v-3.58zM939.6 251.8l4.49 1.79v3.58l-4.49 1.79l-4.49 -1.79v-3.58zM939.6 241.1l4.49 1.79v3.58l-4.49 1.79l-4.49 -1.79v-3.58zM957.6 466.7l4.49 1.79v3.58l-4.49 1.79l-4.49 -1.79v-3.58zM957.6 445.2l4.49 1.79v3.58l-4.49 1.79l-4.49 -1.79v-3.58zM966.5 359.3l4.49 1.79v3.58l-4.49 1.79l-4.49 -1.79v-3.58zM315.7 289.4l4.49 1.79v3.58l-4.49 1.79l-4.49 -1.79v-3.58zM333.7 278.7l4.49 1.79v3.58l-4.49 1.79l-4.49 -1.79v-3.58zM459.3 332.4l4.49 1.79v3.58l-4.49 1.79l-4.49 -1.79v-3.58zM468.3 278.7l4.49 1.79v3.58l-4.49 1.79l-4.49 -1.79v-3.58zM504.2 278.7l4.49 1.79v3.58l-4.49 1.79l-4.49 -1.79v-3.58zM522.2 343.1l4.49 1.79v3.58l-4.49 1.79l-4.49 -1.79v-3.58zM638.9 353.9l4.49 1.79v3.58l-4.49 1.79l-4.49 -1.79v-3.58zM656.8 353.9l4.49 1.79v3.58l-4.49 1.79l-4.49 -1.79v-3.58zM665.8 353.9l4.49 1.79v3.58l-4.49 1.79l-4.49 -1.79v-3.58zM683.8 353.9l4.49 1.79v3.58l-4.49 1.79l-4.49 -1.79v-3.58zM710.7 268.0l4.49 1.79v3.58l-4.49 1.79l-4.49 -1.79v-3.58zM809.4 375.4l4.49 1.79v3.58l-4.49 1.79l-4.49 -1.79v-3.58zM827.4 246.5l4.49 1.79v3.58l-4.49 1.79l-4.49 -1.79v-3.58zM917.2 225.0l4.49 1.79v3.58l-4.49 1.79l-4.49 -1.79v-3.58zM935.1 461.3l4.49 1.79v3.58l-4.49 1.79l-4.49 -1.79v-3.58zM962.0 429.1l4.49 1.79v3.58l-4.49 1.79l-4.49 -1.79v-3.58zM962.0 321.7l4.49 1.79v3.58l-4.49 1.79l-4.49 -1.79v-3.58z"/>
<path fill="#d0416f" stroke="#d0416f" d="M239.4 294.8l4.49 1.79v3.58l-4.49 1.79l-4.49 -1.79v-3.58zM284.3 305.5l4.49 1.79v3.58l-4.49 1.79l-4.49 -1.79v-3.58zM293.3 294.8l4.49 1.79v3.58l-4.49 1.79l-4.49 -1.79v-3.58zM302.2 316.3l4.49 1.79v3.58l-4.49 1.79l-4.49 -1.79v-3.58zM302.2 284.1l4.49 1.79v3.58l-4.49 1.79l-4.49 -1.79v-3.58zM311.2 305.5l4.49 1.79v3.58l-4.49 1.79l-4.49 -1.79v-3.58zM329.2 316.3l4.49 1.79v3.58l-4.49 1.79l-4.49 -1.79v-3.58zM338.1 316.3l4.49 1.79v3.58l-4.49 1.79l-4.49 -1.79v-3.58zM490.8 273.3l4.49 1.79v3.58l-4.49 1.79l-4.49 -1.79v-3.58zM571.5 273.3l4.49 1.79v3.58l-4.49 1.79l-4.49 -1.79v-3.58zM598.5 348.5l4.49 1.79v3.58l-4.49 1.79l-4.49 -1.79v-3.58zM742.1 273.3l4.49 1.79v3.58l-4.49 1.79l-4.49 -1.79v-3.58zM751.1 359.3l4.49 1.79v3.58l-4.49 1.79l-4.49 -1.79v-3.58zM760.1 262.6l4.49 1.79v3.58l-4.49 1.79l-4.49 -1.79v-3.58zM796.0 262.6l4.49 1.79v3.58l-4.49 1.79l-4.49 -1.79v-3.58zM813.9 380.7l4.49 1.79v3.58l-4.49 1.79l-4.49 -1.79v-3.58zM813.9 251.8l4.49 1.79v3.58l-4.49 1.79l-4.49 -1.79v-3.58zM822.9 251.8l4.49 1.79v3.58l-4.49 1.79l-4.49 -1.79v-3.58zM831.9 391.5l4.49 1.79v3.58l-4.49 1.79l-4.49 -1.79v-3.58zM840.9 402.2l4.49 1.79v3.58l-4.49 1.79l-4.49 -1.79v-3.58zM840.9 251.8l4.49 1.79v3.58l-4.49 1.79l-4.49 -1.79v-3.58zM858.8 402.2l4.49 1.79v3.58l-4.49 1.79l-4.49 -1.79v-3.58zM876.8 402.2l4.49 1.79v3.58l-4.49 1.79l-4.49 -1.79v-3.58zM885.7 423.7l4.49 1.79v3.58l-4.49 1.79l-4.49 -1.79v-3.58zM894.7 241.1l4.49 1.79v3.58l-4.49 1.79l-4.49 -1.79v-3.58zM903.7 241.1l4.49 1.79v3.58l-4.49 1.79l-4.49 -1.79v-3.58zM903.7 230.4l4.49 1.79v3.58l-4.49 1.79l-4.49 -1.79v-3.58zM912.7 241.1l4.49 1.79v3.58l-4.49 1.79l-4.49 -1.79v-3.58zM948.6 455.9l4.49 1.79v3.58l-4.49 1.79l-4.49 -1.79v-3.58zM948.6 251.8l4.49 1.79v3.58l-4.49 1.79l-4.49 -1.79v-3.58zM957.6 413.0l4.49 1.79v3.58l-4.49 1.79l-4.49 -1.79v-3.58zM957.6 284.1l4.49 1.79v3.58l-4.49 1.79l-4.49 -1.79v-3.58zM966.5 402.2l4.49 1.79v3.58l-4.49 1.79l-4.49 -1.79v-3.58zM966.5 284.1l4.49 1.79v3.58l-4.49 1.79l-4.49 -1.79v-3.58zM279.8 289.4l4.49 1.79v3.58l-4.49 1.79l-4.49 -1.79v-3.58zM288.8 310.9l4.49 1.79v3.58l-4.49 1.79l-4.49 -1.79v-3.58zM297.8 321.7l4.49 1.79v3.58l-4.49 1.79l-4.49 -1.79v-3.58zM306.7 310.9l4.49 1.79v3.58l-4.49 1.79l-4.49 -1.79v-3.58zM369.6 278.7l4.49 1.79v3.58l-4.49 1.79l-4.49 -1.79v-3.58zM378.5 278.7l4.49 1.79v3.58l-4.49 1.79l-4.49 -1.79v-3.58zM405.5 278.7l4.49 1.79v3.58l-4.49 1.79l-4.49 -1.79v-3.58zM486.3 332.4l4.49 1.79v3.58l-4.49 1.79l-4.49 -1.79v-3.58zM576.0 343.1l4.49 1.79v3.58l-4.49 1.79l-4.49 -1.79v-3.58zM620.9 278.7l4.49 1.79v3.58l-4.49 1.79l-4.49 -1.79v-3.58zM638.9 278.7l4.49 1.79v3.58l-4.49 1.79l-4.49 -1.79v-3.58zM719.7 353.9l4.49 1.79v3.58l-4.49 1.79l-4.49 -1.79v-3.58zM755.6 364.6l4.49 1.79v3.58l-4.49 1.79l-4.49 -1.79v-3.58zM764.6 364.6l4.49 1.79v3.58l-4.49 1.79l-4.49 -1.79v-3.58zM782.5 268.0l4.49 1.79v3.58l-4.49 1.79l-4.49 -1.79v-3.58zM800.5 375.4l4.49 1.79v3.58l-4.49 1.79l-4.49 -1.79v-3.58zM800.5 268.0l4.49 1.79v3.58l-4.49 1.79l-4.49 -1.79v-3.58zM827.4 257.2l4.49 1.79v3.58l-4.49 1.79l-4.49 -1.79v-3.58zM872.3 246.5l4.49 1.79v3.58l-4.49 1.79l-4.49 -1.79v-3.58zM899.2 429.1l4.49 1.79v3.58l-4.49 1.79l-4.49 -1.79v-3.58zM908.2 429.1l4.49 1.79v3.58l-4.49 1.79l-4.49 -1.79v-3.58zM908.2 235.7l4.49 1.79v3.58l-4.49 1.79l-4.49 -1.79v-3.58zM935.1 450.5l4.49 1.79v3.58l-4.49 1.79l-4.49 -1.79v-3.58zM935.1 246.5l4.49 1.79v3.58l-4.49 1.79l-4.49 -1.79v-3.58zM935.1 235.7l4.49 1.79v3.58l-4.49 1.79l-4.49 -1.79v-3.58zM953.1 396.8l4.49 1.79v3.58l-4.49 1.79l-4.49 -1.79v-3.58zM962.0 386.1l4.49 1.79v3.58l-4.49 1.79l-4.49 -1.79v-3.58zM971.0 353.9l4.49 1.79v3.58l-4.49 1.79l-4.49 -1.79v-3.58z"/>
<path fill="#d8456c" stroke="#d8456c" d="M266.3 294.8l4.49 1.79v3.58l-4.49 1.79l-4.49 -1.79v-3.58zM392.0 327.0l4.49 1.79v3.58l-4.49 1.79l-4.49 -1.79v-3.58zM499.7 273.3l4.49 1.79v3.58l-4.49 1.79l-4.49 -1.79v-3.58zM517.7 337.8l4.49 1.79v3.58l-4.49 1.79l-4.49 -1.79v-3.58zM526.7 337.8l4.49 1.79v3.58l-4.49 1.79l-4.49 -1.79v-3.58zM562.6 273.3l4.49 1.79v3.58l-4.49 1.79l-4.49 -1.79v-3.58zM589.5 348.5l4.49 1.79v3.58l-4.49 1.79l-4.49 -1.79v-3.58zM625.4 348.5l4.49 1.79v3.58l-4.49 1.79l-4.49 -1.79v-3.58zM634.4 273.3l4.49 1.79v3.58l-4.49 1.79l-4.49 -1.79v-3.58zM652.3 273.3l4.49 1.79v3.58l-4.49 1.79l-4.49 -1.79v-3.58zM670.3 273.3l4.49 1.79v3.58l-4.49 1.79l-4.49 -1.79v-3.58zM688.3 359.3l4.49 1.79v3.58l-4.49 1.79l-4.49 -1.79v-3.58zM688.3 273.3l4.49 1.79v3.58l-4.49 1.79l-4.49 -1.79v-3.58zM706.2 348.5l4.49 1.79v3.58l-4.49 1.79l-4.49 -1.79v-3.58zM733.1 359.3l4.49 1.79v3.58l-4.49 1.79l-4.49 -1.79v-3.58zM778.0 262.6l4.49 1.79v3.58l-4.49 1.79l-4.49 -1.79v-3.58zM787.0 262.6l4.49 1.79v3.58l-4.49 1.79l-4.49 -1.79v-3.58zM805.0 262.6l4.49 1.79v3.58l-4.49 1.79l-4.49 -1.79v-3.58zM876.8 391.5l4.49 1.79v3.58l-4.49 1.79l-4.49 -1.79v-3.58zM885.7 241.1l4.49 1.79v3.58l-4.49 1.79l-4.49 -1.79v-3.58zM912.7 423.7l4.49 1.79v3.58l-4.49 1.79l-4.49 -1.79v-3.58zM912.7 230.4l4.49 1.79v3.58l-4.49 1.79l-4.49 -1.79v-3.58zM921.7 434.4l4.49 1.79v3.58l-4.49 1.79l-4.49 -1.79v-3.58zM930.6 241.1l4.49 1.79v3.58l-4.49 1.79l-4.49 -1.79v-3.58zM930.6 230.4l4.49 1.79v3.58l-4.49 1.79l-4.49 -1.79v-3.58zM939.6 445.2l4.49 1.79v3.58l-4.49 1.79l-4.49 -1.79v-3.58zM948.6 445.2l4.49 1.79v3.58l-4.49 1.79l-4.49 -1.79v-3.58zM948.6 413.0l4.49 1.79v3.58l-4.49 1.79l-4.49 -1.79v-3.58zM957.6 273.3l4.49 1.79v3.58l-4.49 1.79l-4.49 -1.79v-3.58zM957.6 262.6l4.49 1.79v3.58l-4.49 1.79l-4.49 -1.79v-3.58zM966.5 370.0l4.49 1.79v3.58l-4.49 1.79l-4.49 -1.79v-3.58zM306.7 300.2l4.49 1.79v3.58l-4.49 1.79l-4.49 -1.79v-3.58zM333.7 310.9l4.49 1.79v3.58l-4.49 1.79l-4.49 -1.79v-3.58zM360.6 321.7l4.49 1.79v3.58l-4.49 1.79l-4.49 -1.79v-3.58zM387.5 321.7l4.49 1.79v3.58l-4.49 1.79l-4.49 -1.79v-3.58zM396.5 278.7l4.49 1.79v3.58l-4.49 1.79l-4.49 -1.79v-3.58zM477.3 332.4l4.49 1.79v3.58l-4.49 1.79l-4.49 -1.79v-3.58zM495.2 278.7l4.49 1.79v3.58l-4.49 1.79l-4.49 -1.79v-3.58zM504.2 343.1l4.49 1.79v3.58l-4.49 1.79l-4.49 -1.79v-3.58zM531.2 278.7l4.49 1.79v3.58l-4.49 1.79l-4.49 -1.79v-3.58zM540.1 343.1l4.49 1.79v3.58l-4.49 1.79l-4.49 -1.79v-3.58zM585.0 278.7l4.49 1.79v3.58l-4.49 1.79l-4.49 -1.79v-3.58zM737.6 268.0l4.49 1.79v3.58l-4.49 1.79l-4.49 -1.79v-3.58zM773.5 364.6l4.49 1.79v3.58l-4.49 1.79l-4.49 -1.79v-3.58zM791.5 375.4l4.49 1.79v3.58l-4.49 1.79l-4.49 -1.79v-3.58zM818.4 386.1l4.49 1.79v3.58l-4.49 1.79l-4.49 -1.79v-3.58zM827.4 375.4l4.49 1.79v3.58l-4.49 1.79l-4.49 -1.79v-3.58zM836.4 257.2l4.49 1.79v3.58l-4.49 1.79l-4.49 -1.79v-3.58zM863.3 396.8l4.49 1.79v3.58l-4.49 1.79l-4.49 -1.79v-3.58zM872.3 407.6l4.49 1.79v3.58l-4.49 1.79l-4.49 -1.79v-3.58zM899.2 418.3l4.49 1.79v3.58l-4.49 1.79l-4.49 -1.79v-3.58zM908.2 246.5l4.49 1.79v3.58l-4.49 1.79l-4.49 -1.79v-3.58zM917.2 235.7l4.49 1.79v3.58l-4.49 1.79l-4.49 -1.79v-3.58zM935.1 225.0l4.49 1.79v3.58l-4.49 1.79l-4.49 -1.79v-3.58zM953.1 418.3l4.49 1.79v3.58l-4.49 1.79l-4.49 -1.79v-3.58zM953.1 257.2l4.49 1.79v3.58l-4.49 1.79l-4.49 -1.79v-3.58zM971.0 364.6l4.49 1.79v3.58l-4.49 1.79l-4.49 -1.79v-3.58z"/>
<path fill="#df4a68" stroke="#df4a68" d="M275.3 294.8l4.49 1.79v3.58l-4.49 1.79l-4.49 -1.79v-3.58zM284.3 294.8l4.49 1.79v3.58l-4.49 1.79l-4.49 -1.79v-3.58zM284.3 284.1l4.49 1.79v3.58l-4.49 1.79l-4.49 -1.79v-3.58zM311.2 284.1l4.49 1.79v3.58l-4.49 1.79l-4.49 -1.79v-3.58zM338.1 294.8l4.49 1.79v3.58l-4.49 1.79l-4.49 -1.79v-3.58zM356.1 284.1l4.49 1.79v3.58l-4.49 1.79l-4.49 -1.79v-3.58zM365.1 284.1l4.49 1.79v3.58l-4.49 1.79l-4.49 -1.79v-3.58zM436.9 327.0l4.49 1.79v3.58l-4.49 1.79l-4.49 -1.79v-3.58zM463.8 273.3l4.49 1.79v3.58l-4.49 1.79l-4.49 -1.79v-3.58zM544.6 273.3l4.49 1.79v3.58l-4.49 1.79l-4.49 -1.79v-3.58zM634.4 348.5l4.49 1.79v3.58l-4.49 1.79l-4.49 -1.79v-3.58zM652.3 348.5l4.49 1.79v3.58l-4.49 1.79l-4.49 -1.79v-3.58zM670.3 348.5l4.49 1.79v3.58l-4.49 1.79l-4.49 -1.79v-3.58zM679.3 348.5l4.49 1.79v3.58l-4.49 1.79l-4.49 -1.79v-3.58zM697.2 273.3l4.49 1.79v3.58l-4.49 1.79l-4.49 -1.79v-3.58zM706.2 273.3l4.49 1.79v3.58l-4.49 1.79l-4.49 -1.79v-3.58zM715.2 273.3l4.49 1.79v3.58l-4.49 1.79l-4.49 -1.79v-3.58zM733.1 273.3l4.49 1.79v3.58l-4.49 1.79l-4.49 -1.79v-3.58zM796.0 370.0l4.49 1.79v3.58l-4.49 1.79l-4.49 -1.79v-3.58zM813.9 262.6l4.49 1.79v3.58l-4.49 1.79l-4.49 -1.79v-3.58zM822.9 380.7l4.49 1.79v3.58l-4.49 1.79l-4.49 -1.79v-3.58zM858.8 391.5l4.49 1.79v3.58l-4.49 1.79l-4.49 -1.79v-3.58zM858.8 251.8l4.49 1.79v3.58l-4.49 1.79l-4.49 -1.79v-3.58zM867.8 402.2l4.49 1.79v3.58l-4.49 1.79l-4.49 -1.79v-3.58zM867.8 251.8l4.49 1.79v3.58l-4.49 1.79l-4.49 -1.79v-3.58zM930.6 262.6l4.49 1.79v3.58l-4.49 1.79l-4.49 -1.79v-3.58zM939.6 434.4l4.49 1.79v3.58l-4.49 1.79l-4.49 -1.79v-3.58zM948.6 423.7l4.49 1.79v3.58l-4.49 1.79l-4.49 -1.79v-3.58zM957.6 370.0l4.49 1.79v3.58l-4.49 1.79l-4.49 -1.79v-3.58zM966.5 316.3l4.49 1.79v3.58l-4.49 1.79l-4.49 -1.79v-3.58zM315.7 278.7l4.49 1.79v3.58l-4.49 1.79l-4.49 -1.79v-3.58zM324.7 289.4l4.49 1.79v3.58l-4.49 1.79l-4.49 -1.79v-3.58zM333.7 300.2l4.49 1.79v3.58l-4.49 1.79l-4.49 -1.79v-3.58zM414.5 278.7l4.49 1.79v3.58l-4.49 1.79l-4.49 -1.79v-3.58zM459.3 278.7l4.49 1.79v3.58l-4.49 1.79l-4.49 -1.79v-3.58zM477.3 278.7l4.49 1.79v3.58l-4.49 1.79l-4.49 -1.79v-3.58zM522.2 332.4l4.49 1.79v3.58l-4.49 1.79l-4.49 -1.79v-3.58zM549.1 278.7l4.49 1.79v3.58l-4.49 1.79l-4.49 -1.79v-3.58zM603.0 278.7l4.49 1.79v3.58l-4.49 1.79l-4.49 -1.79v-3.58zM665.8 278.7l4.49 1.79v3.58l-4.49 1.79l-4.49 -1.79v-3.58zM701.7 353.9l4.49 1.79v3.58l-4.49 1.79l-4.49 -1.79v-3.58zM818.4 257.2l4.49 1.79v3.58l-4.49 1.79l-4.49 -1.79v-3.58zM827.4 386.1l4.49 1.79v3.58l-4.49 1.79l-4.49 -1.79v-3.58zM845.3 246.5l4.49 1.79v3.58l-4.49 1.79l-4.49 -1.79v-3.58zM854.3 386.1l4.49 1.79v3.58l-4.49 1.79l-4.49 -1.79v-3.58zM854.3 257.2l4.49 1.79v3.58l-4.49 1.79l-4.49 -1.79v-3.58zM863.3 257.2l4.49 1.79v3.58l-4.49 1.79l-4.49 -1.79v-3.58zM863.3 246.5l4.49 1.79v3.58l-4.49 1.79l-4.49 -1.79v-3.58zM872.3 396.8l4.49 1.79v3.58l-4.49 1.79l-4.49 -1.79v-3.58zM890.2 246.5l4.49 1.79v3.58l-4.49 1.79l-4.49 -1.79v-3.58zM899.2 407.6l4.49 1.79v3.58l-4.49 1.79l-4.49 -1.79v-3.58zM908.2 396.8l4.49 1.79v3.58l-4.49 1.79l-4.49 -1.79v-3.58zM926.1 418.3l4.49 1.79v3.58l-4.49 1.79l-4.49 -1.79v-3.58zM926.1 257.2l4.49 1.79v3.58l-4.49 1.79l-4.49 -1.79v-3.58zM935.1 439.8l4.49 1.79v3.58l-4.49 1.79l-4.49 -1.79v-3.58zM935.1 429.1l4.49 1.79v3.58l-4.49 1.79l-4.49 -1.79v-3.58zM935.1 418.3l4.49 1.79v3.58l-4.49 1.79l-4.49 -1.79v-3.58zM944.1 439.8l4.49 1.79v3.58l-4.49 1.79l-4.49 -1.79v-3.58zM962.0 310.9l4.49 1.79v3.58l-4.49 1.79l-4.49 -1.79v-3.58zM962.0 300.2l4.49 1.79v3.58l-4.49 1.79l-4.49 -1.79v-3.58z"/>
<path fill="#e75263" stroke="#e75263" d="M302.2 305.5l4.49 1.79v3.58l-4.49 1.79l-4.49 -1.79v-3.58zM347.1 316.3l4.49 1.79v3.58l-4.49 1.79l-4.49 -1.79v-3.58zM392.0 284.1l4.49 1.79v3.58l-4.49 1.79l-4.49 -1.79v-3.58zM401.0 327.0l4.49 1.79v3.58l-4.49 1.79l-4.49 -1.79v-3.58zM401.0 284.1l4.49 1.79v3.58l-4.49 1.79l-4.49 -1.79v-3.58zM418.9 284.1l4.49 1.79v3.58l-4.49 1.79l-4.49 -1.79v-3.58zM499.7 337.8l4.49 1.79v3.58l-4.49 1.79l-4.49 -1.79v-3.58zM499.7 327.0l4.49 1.79v3.58l-4.49 1.79l-4.49 -1.79v-3.58zM535.6 337.8l4.49 1.79v3.58l-4.49 1.79l-4.49 -1.79v-3.58zM553.6 273.3l4.49 1.79v3.58l-4.49 1.79l-4.49 -1.79v-3.58zM598.5 273.3l4.49 1.79v3.58l-4.49 1.79l-4.49 -1.79v-3.58zM607.5 284.1l4.49 1.79v3.58l-4.49 1.79l-4.49 -1.79v-3.58zM742.1 359.3l4.49 1.79v3.58l-4.49 1.79l-4.49 -1.79v-3.58zM751.1 273.3l4.49 1.79v3.58l-4.49 1.79l-4.49 -1.79v-3.58zM769.0 273.3l4.49 1.79v3.58l-4.49 1.79l-4.49 -1.79v-3.58zM787.0 370.0l4.49 1.79v3.58l-4.49 1.79l-4.49 -1.79v-3.58zM813.9 370.0l4.49 1.79v3.58l-4.49 1.79l-4.49 -1.79v-3.58zM822.9 262.6l4.49 1.79v3.58l-4.49 1.79l-4.49 -1.79v-3.58zM840.9 380.7l4.49 1.79v3.58l-4.49 1.79l-4.49 -1.79v-3.58zM849.8 251.8l4.49 1.79v3.58l-4.49 1.79l-4.49 -1.79v-3.58zM858.8 273.3l4.49 1.79v3.58l-4.49 1.79l-4.49 -1.79v-3.58zM885.7 251.8l4.49 1.79v3.58l-4.49 1.79l-4.49 -1.79v-3.58zM894.7 413.0l4.49 1.79v3.58l-4.49 1.79l-4.49 -1.79v-3.58zM894.7 251.8l4.49 1.79v3.58l-4.49 1.79l-4.49 -1.79v-3.58zM930.6 434.4l4.49 1.79v3.58l-4.49 1.79l-4.49 -1.79v-3.58zM930.6 251.8l4.49 1.79v3.58l-4.49 1.79l-4.49 -1.79v-3.58zM948.6 262.6l4.49 1.79v3.58l-4.49 1.79l-4.49 -1.79v-3.58zM957.6 423.7l4.49 1.79v3.58l-4.49 1.79l-4.49 -1.79v-3.58zM957.6 380.7l4.49 1.79v3.58l-4.49 1.79l-4.49 -1.79v-3.58zM957.6 337.8l4.49 1.79v3.58l-4.49 1.79l-4.49 -1.79v-3.58zM957.6 316.3l4.49 1.79v3.58l-4.49 1.79l-4.49 -1.79v-3.58zM957.6 305.5l4.49 1.79v3.58l-4.49 1.79l-4.49 -1.79v-3.58zM957.6 294.8l4.49 1.79v3.58l-4.49 1.79l-4.49 -1.79v-3.58zM297.8 300.2l4.49 1.79v3.58l-4.49 1.79l-4.49 -1.79v-3.58zM315.7 300.2l4.49 1.79v3.58l-4.49 1.79l-4.49 -1.79v-3.58zM360.6 278.7l4.49 1.79v3.58l-4.49 1.79l-4.49 -1.79v-3.58zM396.5 321.7l4.49 1.79v3.58l-4.49 1.79l-4.49 -1.79v-3.58zM450.4 332.4l4.49 1.79v3.58l-4.49 1.79l-4.49 -1.79v-3.58zM450.4 278.7l4.49 1.79v3.58l-4.49 1.79l-4.49 -1.79v-3.58zM513.2 332.4l4.49 1.79v3.58l-4.49 1.79l-4.49 -1.79v-3.58zM549.1 343.1l4.49 1.79v3.58l-4.49 1.79l-4.49 -1.79v-3.58zM558.1 343.1l4.49 1.79v3.58l-4.49 1.79l-4.49 -1.79v-3.58zM603.0 343.1l4.49 1.79v3.58l-4.49 1.79l-4.49 -1.79v-3.58zM611.9 278.7l4.49 1.79v3.58l-4.49 1.79l-4.49 -1.79v-3.58zM647.9 353.9l4.49 1.79v3.58l-4.49 1.79l-4.49 -1.79v-3.58zM647.9 343.1l4.49 1.79v3.58l-4.49 1.79l-4.49 -1.79v-3.58zM692.7 353.9l4.49 1.79v3.58l-4.49 1.79l-4.49 -1.79v-3.58zM746.6 278.7l4.49 1.79v3.58l-4.49 1.79l-4.49 -1.79v-3.58zM746.6 268.0l4.49 1.79v3.58l-4.49 1.79l-4.49 -1.79v-3.58zM782.5 364.6l4.49 1.79v3.58l-4.49 1.79l-4.49 -1.79v-3.58zM791.5 268.0l4.49 1.79v3.58l-4.49 1.79l-4.49 -1.79v-3.58zM836.4 386.1l4.49 1.79v3.58l-4.49 1.79l-4.49 -1.79v-3.58zM836.4 375.4l4.49 1.79v3.58l-4.49 1.79l-4.49 -1.79v-3.58zM845.3 257.2l4.49 1.79v3.58l-4.49 1.79l-4.49 -1.79v-3.58zM854.3 246.5l4.49 1.79v3.58l-4.49 1.79l-4.49 -1.79v-3.58zM881.3 257.2l4.49 1.79v3.58l-4.49 1.79l-4.49 -1.79v-3.58zM881.3 246.5l4.49 1.79v3.58l-4.49 1.79l-4.49 -1.79v-3.58zM890.2 396.8l4.49 1.79v3.58l-4.49 1.79l-4.49 -1.79v-3.58zM908.2 418.3l4.49 1.79v3.58l-4.49 1.79l-4.49 -1.79v-3.58zM926.1 268.0l4.49 1.79v3.58l-4.49 1.79l-4.49 -1.79v-3.58zM926.1 246.5l4.49 1.79v3.58l-4.49 1.79l-4.49 -1.79v-3.58zM944.1 429.1l4.49 1.79v3.58l-4.49 1.79l-4.49 -1.79v-3.58zM953.1 439.8l4.49 1.79v3.58l-4.49 1.79l-4.49 -1.79v-3.58zM953.1 429.1l4.49 1.79v3.58l-4.49 1.79l-4.49 -1.79v-3.58zM953.1 386.1l4.49 1.79v3.58l-4.49 1.79l-4.49 -1.79v-3.58zM953.1 289.4l4.49 1.79v3.58l-4.49 1.79l-4.49 -1.79v-3.58zM962.0 396.8l4.49 1.79v3.58l-4.49 1.79l-4.49 -1.79v-3.58zM962.0 364.6l4.49 1.79v3.58l-4.49 1.79l-4.49 -1.79v-3.58zM962.0 343.1l4.49 1.79v3.58l-4.49 1.79l-4.49 -1.79v-3.58zM962.0 332.4l4.49 1.79v3.58l-4.49 1.79l-4.49 -1.79v-3.58z"/>
<path fill="#ec5860" stroke="#ec5860" d="M302.2 294.8l4.49 1.79v3.58l-4.49 1.79l-4.49 -1.79v-3.58zM320.2 305.5l4.49 1.79v3.58l-4.49 1.79l-4.49 -1.79v-3.58zM320.2 294.8l4.49 1.79v3.58l-4.49 1.79l-4.49 -1.79v-3.58zM374.1 316.3l4.49 1.79v3.58l-4.49 1.79l-4.49 -1.79v-3.58zM392.0 316.3l4.49 1.79v3.58l-4.49 1.79l-4.49 -1.79v-3.58zM418.9 327.0l4.49 1.79v3.58l-4.49 1.79l-4.49 -1.79v-3.58zM490.8 337.8l4.49 1.79v3.58l-4.49 1.79l-4.49 -1.79v-3.58zM831.9 380.7l4.49 1.79v3.58l-4.49 1.79l-4.49 -1.79v-3.58zM849.8 380.7l4.49 1.79v3.58l-4.49 1.79l-4.49 -1.79v-3.58zM858.8 380.7l4.49 1.79v3.58l-4.49 1.79l-4.49 -1.79v-3.58zM867.8 262.6l4.49 1.79v3.58l-4.49 1.79l-4.49 -1.79v-3.58zM885.7 402.2l4.49 1.79v3.58l-4.49 1.79l-4.49 -1.79v-3.58zM885.7 391.5l4.49 1.79v3.58l-4.49 1.79l-4.49 -1.79v-3.58zM885.7 262.6l4.49 1.79v3.58l-4.49 1.79l-4.49 -1.79v-3.58zM903.7 413.0l4.49 1.79v3.58l-4.49 1.79l-4.49 -1.79v-3.58zM912.7 413.0l4.49 1.79v3.58l-4.49 1.79l-4.49 -1.79v-3.58zM921.7 251.8l4.49 1.79v3.58l-4.49 1.79l-4.49 -1.79v-3.58zM948.6 284.1l4.49 1.79v3.58l-4.49 1.79l-4.49 -1.79v-3.58zM288.8 300.2l4.49 1.79v3.58l-4.49 1.79l-4.49 -1.79v-3.58zM369.6 289.4l4.49 1.79v3.58l-4.49 1.79l-4.49 -1.79v-3.58zM441.4 278.7l4.49 1.79v3.58l-4.49 1.79l-4.49 -1.79v-3.58zM495.2 332.4l4.49 1.79v3.58l-4.49 1.79l-4.49 -1.79v-3.58zM567.1 343.1l4.49 1.79v3.58l-4.49 1.79l-4.49 -1.79v-3.58zM656.8 278.7l4.49 1.79v3.58l-4.49 1.79l-4.49 -1.79v-3.58zM674.8 343.1l4.49 1.79v3.58l-4.49 1.79l-4.49 -1.79v-3.58zM728.6 353.9l4.49 1.79v3.58l-4.49 1.79l-4.49 -1.79v-3.58zM737.6 278.7l4.49 1.79v3.58l-4.49 1.79l-4.49 -1.79v-3.58zM809.4 268.0l4.49 1.79v3.58l-4.49 1.79l-4.49 -1.79v-3.58zM818.4 375.4l4.49 1.79v3.58l-4.49 1.79l-4.49 -1.79v-3.58zM863.3 386.1l4.49 1.79v3.58l-4.49 1.79l-4.49 -1.79v-3.58zM872.3 268.0l4.49 1.79v3.58l-4.49 1.79l-4.49 -1.79v-3.58zM881.3 396.8l4.49 1.79v3.58l-4.49 1.79l-4.49 -1.79v-3.58zM890.2 407.6l4.49 1.79v3.58l-4.49 1.79l-4.49 -1.79v-3.58zM899.2 235.7l4.49 1.79v3.58l-4.49 1.79l-4.49 -1.79v-3.58zM917.2 429.1l4.49 1.79v3.58l-4.49 1.79l-4.49 -1.79v-3.58zM944.1 257.2l4.49 1.79v3.58l-4.49 1.79l-4.49 -1.79v-3.58z"/>
<path fill="#f1605d" stroke="#f1605d" d="M329.2 305.5l4.49 1.79v3.58l-4.49 1.79l-4.49 -1.79v-3.58zM338.1 284.1l4.49 1.79v3.58l-4.49 1.79l-4.49 -1.79v-3.58zM347.1 305.5l4.49 1.79v3.58l-4.49 1.79l-4.49 -1.79v-3.58zM347.1 284.1l4.49 1.79v3.58l-4.49 1.79l-4.49 -1.79v-3.58zM356.1 316.3l4.49 1.79v3.58l-4.49 1.79l-4.49 -1.79v-3.58zM383.0 316.3l4.49 1.79v3.58l-4.49 1.79l-4.49 -1.79v-3.58zM383.0 284.1l4.49 1.79v3.58l-4.49 1.79l-4.49 -1.79v-3.58zM401.0 316.3l4.49 1.79v3.58l-4.49 1.79l-4.49 -1.79v-3.58zM508.7 337.8l4.49 1.79v3.58l-4.49 1.79l-4.49 -1.79v-3.58zM553.6 337.8l4.49 1.79v3.58l-4.49 1.79l-4.49 -1.79v-3.58zM643.4 348.5l4.49 1.79v3.58l-4.49 1.79l-4.49 -1.79v-3.58zM661.3 348.5l4.49 1.79v3.58l-4.49 1.79l-4.49 -1.79v-3.58zM697.2 348.5l4.49 1.79v3.58l-4.49 1.79l-4.49 -1.79v-3.58zM715.2 348.5l4.49 1.79v3.58l-4.49 1.79l-4.49 -1.79v-3.58zM724.2 273.3l4.49 1.79v3.58l-4.49 1.79l-4.49 -1.79v-3.58zM760.1 273.3l4.49 1.79v3.58l-4.49 1.79l-4.49 -1.79v-3.58zM769.0 359.3l4.49 1.79v3.58l-4.49 1.79l-4.49 -1.79v-3.58zM813.9 273.3l4.49 1.79v3.58l-4.49 1.79l-4.49 -1.79v-3.58zM831.9 262.6l4.49 1.79v3.58l-4.49 1.79l-4.49 -1.79v-3.58zM840.9 262.6l4.49 1.79v3.58l-4.49 1.79l-4.49 -1.79v-3.58zM876.8 251.8l4.49 1.79v3.58l-4.49 1.79l-4.49 -1.79v-3.58zM903.7 402.2l4.49 1.79v3.58l-4.49 1.79l-4.49 -1.79v-3.58zM903.7 251.8l4.49 1.79v3.58l-4.49 1.79l-4.49 -1.79v-3.58zM912.7 402.2l4.49 1.79v3.58l-4.49 1.79l-4.49 -1.79v-3.58zM912.7 251.8l4.49 1.79v3.58l-4.49 1.79l-4.49 -1.79v-3.58zM921.7 262.6l4.49 1.79v3.58l-4.49 1.79l-4.49 -1.79v-3.58zM921.7 241.1l4.49 1.79v3.58l-4.49 1.79l-4.49 -1.79v-3.58zM930.6 423.7l4.49 1.79v3.58l-4.49 1.79l-4.49 -1.79v-3.58zM930.6 273.3l4.49 1.79v3.58l-4.49 1.79l-4.49 -1.79v-3.58zM939.6 423.7l4.49 1.79v3.58l-4.49 1.79l-4.49 -1.79v-3.58zM939.6 262.6l4.49 1.79v3.58l-4.49 1.79l-4.49 -1.79v-3.58zM948.6 391.5l4.49 1.79v3.58l-4.49 1.79l-4.49 -1.79v-3.58zM948.6 380.7l4.49 1.79v3.58l-4.49 1.79l-4.49 -1.79v-3.58zM948.6 273.3l4.49 1.79v3.58l-4.49 1.79l-4.49 -1.79v-3.58zM957.6 359.3l4.49 1.79v3.58l-4.49 1.79l-4.49 -1.79v-3.58zM957.6 348.5l4.49 1.79v3.58l-4.49 1.79l-4.49 -1.79v-3.58zM315.7 310.9l4.49 1.79v3.58l-4.49 1.79l-4.49 -1.79v-3.58zM324.7 310.9l4.49 1.79v3.58l-4.49 1.79l-4.49 -1.79v-3.58zM324.7 300.2l4.49 1.79v3.58l-4.49 1.79l-4.49 -1.79v-3.58zM333.7 289.4l4.49 1.79v3.58l-4.49 1.79l-4.49 -1.79v-3.58zM342.6 289.4l4.49 1.79v3.58l-4.49 1.79l-4.49 -1.79v-3.58zM351.6 310.9l4.49 1.79v3.58l-4.49 1.79l-4.49 -1.79v-3.58zM360.6 310.9l4.49 1.79v3.58l-4.49 1.79l-4.49 -1.79v-3.58zM378.5 321.7l4.49 1.79v3.58l-4.49 1.79l-4.49 -1.79v-3.58zM432.4 321.7l4.49 1.79v3.58l-4.49 1.79l-4.49 -1.79v-3.58zM468.3 332.4l4.49 1.79v3.58l-4.49 1.79l-4.49 -1.79v-3.58zM486.3 278.7l4.49 1.79v3.58l-4.49 1.79l-4.49 -1.79v-3.58zM513.2 278.7l4.49 1.79v3.58l-4.49 1.79l-4.49 -1.79v-3.58zM567.1 278.7l4.49 1.79v3.58l-4.49 1.79l-4.49 -1.79v-3.58zM585.0 343.1l4.49 1.79v3.58l-4.49 1.79l-4.49 -1.79v-3.58zM594.0 343.1l4.49 1.79v3.58l-4.49 1.79l-4.49 -1.79v-3.58zM611.9 343.1l4.49 1.79v3.58l-4.49 1.79l-4.49 -1.79v-3.58zM620.9 343.1l4.49 1.79v3.58l-4.49 1.79l-4.49 -1.79v-3.58zM629.9 278.7l4.49 1.79v3.58l-4.49 1.79l-4.49 -1.79v-3.58zM647.9 278.7l4.49 1.79v3.58l-4.49 1.79l-4.49 -1.79v-3.58zM665.8 343.1l4.49 1.79v3.58l-4.49 1.79l-4.49 -1.79v-3.58zM692.7 278.7l4.49 1.79v3.58l-4.49 1.79l-4.49 -1.79v-3.58zM710.7 278.7l4.49 1.79v3.58l-4.49 1.79l-4.49 -1.79v-3.58zM818.4 268.0l4.49 1.79v3.58l-4.49 1.79l-4.49 -1.79v-3.58zM863.3 268.0l4.49 1.79v3.58l-4.49 1.79l-4.49 -1.79v-3.58zM872.3 386.1l4.49 1.79v3.58l-4.49 1.79l-4.49 -1.79v-3.58zM881.3 268.0l4.49 1.79v3.58l-4.49 1.79l-4.49 -1.79v-3.58zM890.2 268.0l4.49 1.79v3.58l-4.49 1.79l-4.49 -1.79v-3.58zM890.2 257.2l4.49 1.79v3.58l-4.49 1.79l-4.49 -1.79v-3.58zM899.2 386.1l4.49 1.79v3.58l-4.49 1.79l-4.49 -1.79v-3.58zM899.2 246.5l4.49 1.79v3.58l-4.49 1.79l-4.49 -1.79v-3.58zM908.2 268.0l4.49 1.79v3.58l-4.49 1.79l-4.49 -1.79v-3.58zM917.2 418.3l4.49 1.79v3.58l-4.49 1.79l-4.49 -1.79v-3.58zM917.2 407.6l4.49 1.79v3.58l-4.49 1.79l-4.49 -1.79v-3.58zM917.2 257.2l4.49 1.79v3.58l-4.49 1.79l-4.49 -1.79v-3.58zM917.2 246.5l4.49 1.79v3.58l-4.49 1.79l-4.49 -1.79v-3.58zM926.1 429.1l4.49 1.79v3.58l-4.49 1.79l-4.49 -1.79v-3.58zM953.1 375.4l4.49 1.79v3.58l-4.49 1.79l-4.49 -1.79v-3.58zM953.1 332.4l4.49 1.79v3.58l-4.49 1.79l-4.49 -1.79v-3.58zM953.1 321.7l4.49 1.79v3.58l-4.49 1.79l-4.49 -1.79v-3.58zM953.1 300.2l4.49 1.79v3.58l-4.49 1.79l-4.49 -1.79v-3.58z"/>
<path fill="#f56b5c" stroke="#f56b5c" d="M338.1 305.5l4.49 1.79v3.58l-4.49 1.79l-4.49 -1.79v-3.58zM365.1 305.5l4.49 1.79v3.58l-4.49 1.79l-4.49 -1.79v-3.58zM374.1 284.1l4.49 1.79v3.58l-4.49 1.79l-4.49 -1.79v-3.58zM383.0 305.5l4.49 1.79v3.58l-4.49 1.79l-4.49 -1.79v-3.58zM401.0 294.8l4.49 1.79v3.58l-4.49 1.79l-4.49 -1.79v-3.58zM410.0 316.3l4.49 1.79v3.58l-4.49 1.79l-4.49 -1.79v-3.58zM410.0 284.1l4.49 1.79v3.58l-4.49 1.79l-4.49 -1.79v-3.58zM418.9 316.3l4.49 1.79v3.58l-4.49 1.79l-4.49 -1.79v-3.58zM445.9 327.0l4.49 1.79v3.58l-4.49 1.79l-4.49 -1.79v-3.58zM454.8 327.0l4.49 1.79v3.58l-4.49 1.79l-4.49 -1.79v-3.58zM463.8 284.1l4.49 1.79v3.58l-4.49 1.79l-4.49 -1.79v-3.58zM481.8 284.1l4.49 1.79v3.58l-4.49 1.79l-4.49 -1.79v-3.58zM490.8 327.0l4.49 1.79v3.58l-4.49 1.79l-4.49 -1.79v-3.58zM490.8 284.1l4.49 1.79v3.58l-4.49 1.79l-4.49 -1.79v-3.58zM499.7 284.1l4.49 1.79v3.58l-4.49 1.79l-4.49 -1.79v-3.58zM562.6 337.8l4.49 1.79v3.58l-4.49 1.79l-4.49 -1.79v-3.58zM571.5 337.8l4.49 1.79v3.58l-4.49 1.79l-4.49 -1.79v-3.58zM580.5 337.8l4.49 1.79v3.58l-4.49 1.79l-4.49 -1.79v-3.58zM589.5 284.1l4.49 1.79v3.58l-4.49 1.79l-4.49 -1.79v-3.58zM598.5 284.1l4.49 1.79v3.58l-4.49 1.79l-4.49 -1.79v-3.58zM607.5 337.8l4.49 1.79v3.58l-4.49 1.79l-4.49 -1.79v-3.58zM634.4 337.8l4.49 1.79v3.58l-4.49 1.79l-4.49 -1.79v-3.58zM634.4 284.1l4.49 1.79v3.58l-4.49 1.79l-4.49 -1.79v-3.58zM661.3 284.1l4.49 1.79v3.58l-4.49 1.79l-4.49 -1.79v-3.58zM688.3 348.5l4.49 1.79v3.58l-4.49 1.79l-4.49 -1.79v-3.58zM769.0 348.5l4.49 1.79v3.58l-4.49 1.79l-4.49 -1.79v-3.58zM787.0 359.3l4.49 1.79v3.58l-4.49 1.79l-4.49 -1.79v-3.58zM796.0 273.3l4.49 1.79v3.58l-4.49 1.79l-4.49 -1.79v-3.58zM805.0 370.0l4.49 1.79v3.58l-4.49 1.79l-4.49 -1.79v-3.58zM822.9 370.0l4.49 1.79v3.58l-4.49 1.79l-4.49 -1.79v-3.58zM831.9 370.0l4.49 1.79v3.58l-4.49 1.79l-4.49 -1.79v-3.58zM876.8 262.6l4.49 1.79v3.58l-4.49 1.79l-4.49 -1.79v-3.58zM894.7 402.2l4.49 1.79v3.58l-4.49 1.79l-4.49 -1.79v-3.58zM894.7 391.5l4.49 1.79v3.58l-4.49 1.79l-4.49 -1.79v-3.58zM912.7 262.6l4.49 1.79v3.58l-4.49 1.79l-4.49 -1.79v-3.58zM930.6 413.0l4.49 1.79v3.58l-4.49 1.79l-4.49 -1.79v-3.58zM939.6 413.0l4.49 1.79v3.58l-4.49 1.79l-4.49 -1.79v-3.58zM948.6 402.2l4.49 1.79v3.58l-4.49 1.79l-4.49 -1.79v-3.58zM957.6 402.2l4.49 1.79v3.58l-4.49 1.79l-4.49 -1.79v-3.58zM957.6 391.5l4.49 1.79v3.58l-4.49 1.79l-4.49 -1.79v-3.58zM342.6 310.9l4.49 1.79v3.58l-4.49 1.79l-4.49 -1.79v-3.58zM351.6 300.2l4.49 1.79v3.58l-4.49 1.79l-4.49 -1.79v-3.58zM378.5 310.9l4.49 1.79v3.58l-4.49 1.79l-4.49 -1.79v-3.58zM387.5 289.4l4.49 1.79v3.58l-4.49 1.79l-4.49 -1.79v-3.58zM414.5 321.7l4.49 1.79v3.58l-4.49 1.79l-4.49 -1.79v-3.58zM414.5 310.9l4.49 1.79v3.58l-4.49 1.79l-4.49 -1.79v-3.58zM504.2 332.4l4.49 1.79v3.58l-4.49 1.79l-4.49 -1.79v-3.58zM522.2 278.7l4.49 1.79v3.58l-4.49 1.79l-4.49 -1.79v-3.58zM558.1 278.7l4.49 1.79v3.58l-4.49 1.79l-4.49 -1.79v-3.58zM594.0 278.7l4.49 1.79v3.58l-4.49 1.79l-4.49 -1.79v-3.58zM629.9 343.1l4.49 1.79v3.58l-4.49 1.79l-4.49 -1.79v-3.58zM656.8 343.1l4.49 1.79v3.58l-4.49 1.79l-4.49 -1.79v-3.58zM674.8 278.7l4.49 1.79v3.58l-4.49 1.79l-4.49 -1.79v-3.58zM683.8 278.7l4.49 1.79v3.58l-4.49 1.79l-4.49 -1.79v-3.58zM701.7 278.7l4.49 1.79v3.58l-4.49 1.79l-4.49 -1.79v-3.58zM710.7 353.9l4.49 1.79v3.58l-4.49 1.79l-4.49 -1.79v-3.58zM719.7 278.7l4.49 1.79v3.58l-4.49 1.79l-4.49 -1.79v-3.58zM728.6 278.7l4.49 1.79v3.58l-4.49 1.79l-4.49 -1.79v-3.58zM746.6 353.9l4.49 1.79v3.58l-4.49 1.79l-4.49 -1.79v-3.58zM764.6 278.7l4.49 1.79v3.58l-4.49 1.79l-4.49 -1.79v-3.58zM773.5 278.7l4.49 1.79v3.58l-4.49 1.79l-4.49 -1.79v-3.58zM791.5 364.6l4.49 1.79v3.58l-4.49 1.79l-4.49 -1.79v-3.58zM800.5 364.6l4.49 1.79v3.58l-4.49 1.79l-4.49 -1.79v-3.58zM827.4 268.0l4.49 1.79v3.58l-4.49 1.79l-4.49 -1.79v-3.58zM845.3 386.1l4.49 1.79v3.58l-4.49 1.79l-4.49 -1.79v-3.58zM899.2 257.2l4.49 1.79v3.58l-4.49 1.79l-4.49 -1.79v-3.58zM926.1 407.6l4.49 1.79v3.58l-4.49 1.79l-4.49 -1.79v-3.58zM935.1 289.4l4.49 1.79v3.58l-4.49 1.79l-4.49 -1.79v-3.58zM944.1 418.3l4.49 1.79v3.58l-4.49 1.79l-4.49 -1.79v-3.58zM944.1 278.7l4.49 1.79v3.58l-4.49 1.79l-4.49 -1.79v-3.58zM944.1 268.0l4.49 1.79v3.58l-4.49 1.79l-4.49 -1.79v-3.58zM953.1 343.1l4.49 1.79v3.58l-4.49 1.79l-4.49 -1.79v-3.58zM953.1 310.9l4.49 1.79v3.58l-4.49 1.79l-4.49 -1.79v-3.58z"/>
<path fill="#f8745c" stroke="#f8745c" d="M329.2 294.8l4.49 1.79v3.58l-4.49 1.79l-4.49 -1.79v-3.58zM347.1 294.8l4.49 1.79v3.58l-4.49 1.79l-4.49 -1.79v-3.58zM392.0 305.5l4.49 1.79v3.58l-4.49 1.79l-4.49 -1.79v-3.58zM392.0 294.8l4.49 1.79v3.58l-4.49 1.79l-4.49 -1.79v-3.58zM427.9 284.1l4.49 1.79v3.58l-4.49 1.79l-4.49 -1.79v-3.58zM445.9 284.1l4.49 1.79v3.58l-4.49 1.79l-4.49 -1.79v-3.58zM454.8 284.1l4.49 1.79v3.58l-4.49 1.79l-4.49 -1.79v-3.58zM472.8 284.1l4.49 1.79v3.58l-4.49 1.79l-4.49 -1.79v-3.58zM517.7 284.1l4.49 1.79v3.58l-4.49 1.79l-4.49 -1.79v-3.58zM544.6 337.8l4.49 1.79v3.58l-4.49 1.79l-4.49 -1.79v-3.58zM733.1 348.5l4.49 1.79v3.58l-4.49 1.79l-4.49 -1.79v-3.58zM742.1 284.1l4.49 1.79v3.58l-4.49 1.79l-4.49 -1.79v-3.58zM778.0 359.3l4.49 1.79v3.58l-4.49 1.79l-4.49 -1.79v-3.58zM805.0 273.3l4.49 1.79v3.58l-4.49 1.79l-4.49 -1.79v-3.58zM858.8 262.6l4.49 1.79v3.58l-4.49 1.79l-4.49 -1.79v-3.58zM876.8 380.7l4.49 1.79v3.58l-4.49 1.79l-4.49 -1.79v-3.58zM894.7 262.6l4.49 1.79v3.58l-4.49 1.79l-4.49 -1.79v-3.58zM903.7 262.6l4.49 1.79v3.58l-4.49 1.79l-4.49 -1.79v-3.58zM921.7 413.0l4.49 1.79v3.58l-4.49 1.79l-4.49 -1.79v-3.58zM930.6 402.2l4.49 1.79v3.58l-4.49 1.79l-4.49 -1.79v-3.58zM939.6 294.8l4.49 1.79v3.58l-4.49 1.79l-4.49 -1.79v-3.58zM939.6 273.3l4.49 1.79v3.58l-4.49 1.79l-4.49 -1.79v-3.58zM948.6 359.3l4.49 1.79v3.58l-4.49 1.79l-4.49 -1.79v-3.58zM948.6 348.5l4.49 1.79v3.58l-4.49 1.79l-4.49 -1.79v-3.58zM948.6 337.8l4.49 1.79v3.58l-4.49 1.79l-4.49 -1.79v-3.58zM948.6 305.5l4.49 1.79v3.58l-4.49 1.79l-4.49 -1.79v-3.58zM957.6 327.0l4.49 1.79v3.58l-4.49 1.79l-4.49 -1.79v-3.58zM351.6 289.4l4.49 1.79v3.58l-4.49 1.79l-4.49 -1.79v-3.58zM360.6 300.2l4.49 1.79v3.58l-4.49 1.79l-4.49 -1.79v-3.58zM360.6 289.4l4.49 1.79v3.58l-4.49 1.79l-4.49 -1.79v-3.58zM369.6 310.9l4.49 1.79v3.58l-4.49 1.79l-4.49 -1.79v-3.58zM378.5 300.2l4.49 1.79v3.58l-4.49 1.79l-4.49 -1.79v-3.58zM378.5 289.4l4.49 1.79v3.58l-4.49 1.79l-4.49 -1.79v-3.58zM387.5 300.2l4.49 1.79v3.58l-4.49 1.79l-4.49 -1.79v-3.58zM396.5 289.4l4.49 1.79v3.58l-4.49 1.79l-4.49 -1.79v-3.58zM405.5 321.7l4.49 1.79v3.58l-4.49 1.79l-4.49 -1.79v-3.58zM405.5 289.4l4.49 1.79v3.58l-4.49 1.79l-4.49 -1.79v-3.58zM441.4 321.7l4.49 1.79v3.58l-4.49 1.79l-4.49 -1.79v-3.58zM549.1 332.4l4.49 1.79v3.58l-4.49 1.79l-4.49 -1.79v-3.58zM567.1 332.4l4.49 1.79v3.58l-4.49 1.79l-4.49 -1.79v-3.58zM683.8 343.1l4.49 1.79v3.58l-4.49 1.79l-4.49 -1.79v-3.58zM737.6 353.9l4.49 1.79v3.58l-4.49 1.79l-4.49 -1.79v-3.58zM755.6 353.9l4.49 1.79v3.58l-4.49 1.79l-4.49 -1.79v-3.58zM755.6 278.7l4.49 1.79v3.58l-4.49 1.79l-4.49 -1.79v-3.58zM809.4 278.7l4.49 1.79v3.58l-4.49 1.79l-4.49 -1.79v-3.58zM818.4 278.7l4.49 1.79v3.58l-4.49 1.79l-4.49 -1.79v-3.58zM836.4 268.0l4.49 1.79v3.58l-4.49 1.79l-4.49 -1.79v-3.58zM845.3 375.4l4.49 1.79v3.58l-4.49 1.79l-4.49 -1.79v-3.58zM863.3 375.4l4.49 1.79v3.58l-4.49 1.79l-4.49 -1.79v-3.58zM872.3 257.2l4.49 1.79v3.58l-4.49 1.79l-4.49 -1.79v-3.58zM881.3 386.1l4.49 1.79v3.58l-4.49 1.79l-4.49 -1.79v-3.58zM881.3 375.4l4.49 1.79v3.58l-4.49 1.79l-4.49 -1.79v-3.58zM899.2 396.8l4.49 1.79v3.58l-4.49 1.79l-4.49 -1.79v-3.58zM908.2 407.6l4.49 1.79v3.58l-4.49 1.79l-4.49 -1.79v-3.58zM908.2 257.2l4.49 1.79v3.58l-4.49 1.79l-4.49 -1.79v-3.58zM917.2 268.0l4.49 1.79v3.58l-4.49 1.79l-4.49 -1.79v-3.58zM926.1 396.8l4.49 1.79v3.58l-4.49 1.79l-4.49 -1.79v-3.58zM935.1 386.1l4.49 1.79v3.58l-4.49 1.79l-4.49 -1.79v-3.58zM935.1 278.7l4.49 1.79v3.58l-4.49 1.79l-4.49 -1.79v-3.58zM935.1 268.0l4.49 1.79v3.58l-4.49 1.79l-4.49 -1.79v-3.58zM935.1 257.2l4.49 1.79v3.58l-4.49 1.79l-4.49 -1.79v-3.58zM944.1 407.6l4.49 1.79v3.58l-4.49 1.79l-4.49 -1.79v-3.58zM944.1 386.1l4.49 1.79v3.58l-4.49 1.79l-4.49 -1.79v-3.58zM944.1 353.9l4.49 1.79v3.58l-4.49 1.79l-4.49 -1.79v-3.58zM953.1 364.6l4.49 1.79v3.58l-4.49 1.79l-4.49 -1.79v-3.58z"/>
<path fill="#fa7d5e" stroke="#fa7d5e" d="M356.1 305.5l4.49 1.79v3.58l-4.49 1.79l-4.49 -1.79v-3.58zM365.1 316.3l4.49 1.79v3.58l-4.49 1.79l-4.49 -1.79v-3.58zM365.1 294.8l4.49 1.79v3.58l-4.49 1.79l-4.49 -1.79v-3.58zM383.0 294.8l4.49 1.79v3.58l-4.49 1.79l-4.49 -1.79v-3.58zM436.9 284.1l4.49 1.79v3.58l-4.49 1.79l-4.49 -1.79v-3.58zM463.8 327.0l4.49 1.79v3.58l-4.49 1.79l-4.49 -1.79v-3.58zM508.7 284.1l4.49 1.79v3.58l-4.49 1.79l-4.49 -1.79v-3.58zM535.6 284.1l4.49 1.79v3.58l-4.49 1.79l-4.49 -1.79v-3.58zM544.6 284.1l4.49 1.79v3.58l-4.49 1.79l-4.49 -1.79v-3.58zM580.5 284.1l4.49 1.79v3.58l-4.49 1.79l-4.49 -1.79v-3.58zM616.4 337.8l4.49 1.79v3.58l-4.49 1.79l-4.49 -1.79v-3.58zM616.4 284.1l4.49 1.79v3.58l-4.49 1.79l-4.49 -1.79v-3.58zM625.4 284.1l4.49 1.79v3.58l-4.49 1.79l-4.49 -1.79v-3.58zM643.4 337.8l4.49 1.79v3.58l-4.49 1.79l-4.49 -1.79v-3.58zM652.3 337.8l4.49 1.79v3.58l-4.49 1.79l-4.49 -1.79v-3.58zM715.2 337.8l4.49 1.79v3.58l-4.49 1.79l-4.49 -1.79v-3.58zM778.0 348.5l4.49 1.79v3.58l-4.49 1.79l-4.49 -1.79v-3.58zM778.0 273.3l4.49 1.79v3.58l-4.49 1.79l-4.49 -1.79v-3.58zM796.0 359.3l4.49 1.79v3.58l-4.49 1.79l-4.49 -1.79v-3.58zM805.0 359.3l4.49 1.79v3.58l-4.49 1.79l-4.49 -1.79v-3.58zM822.9 273.3l4.49 1.79v3.58l-4.49 1.79l-4.49 -1.79v-3.58zM840.9 370.0l4.49 1.79v3.58l-4.49 1.79l-4.49 -1.79v-3.58zM840.9 273.3l4.49 1.79v3.58l-4.49 1.79l-4.49 -1.79v-3.58zM858.8 370.0l4.49 1.79v3.58l-4.49 1.79l-4.49 -1.79v-3.58zM867.8 380.7l4.49 1.79v3.58l-4.49 1.79l-4.49 -1.79v-3.58zM867.8 273.3l4.49 1.79v3.58l-4.49 1.79l-4.49 -1.79v-3.58zM885.7 273.3l4.49 1.79v3.58l-4.49 1.79l-4.49 -1.79v-3.58zM930.6 380.7l4.49 1.79v3.58l-4.49 1.79l-4.49 -1.79v-3.58zM930.6 294.8l4.49 1.79v3.58l-4.49 1.79l-4.49 -1.79v-3.58zM939.6 284.1l4.49 1.79v3.58l-4.49 1.79l-4.49 -1.79v-3.58zM948.6 370.0l4.49 1.79v3.58l-4.49 1.79l-4.49 -1.79v-3.58zM948.6 316.3l4.49 1.79v3.58l-4.49 1.79l-4.49 -1.79v-3.58zM948.6 294.8l4.49 1.79v3.58l-4.49 1.79l-4.49 -1.79v-3.58zM342.6 300.2l4.49 1.79v3.58l-4.49 1.79l-4.49 -1.79v-3.58zM387.5 310.9l4.49 1.79v3.58l-4.49 1.79l-4.49 -1.79v-3.58zM396.5 310.9l4.49 1.79v3.58l-4.49 1.79l-4.49 -1.79v-3.58zM414.5 289.4l4.49 1.79v3.58l-4.49 1.79l-4.49 -1.79v-3.58zM423.4 321.7l4.49 1.79v3.58l-4.49 1.79l-4.49 -1.79v-3.58zM423.4 289.4l4.49 1.79v3.58l-4.49 1.79l-4.49 -1.79v-3.58zM432.4 289.4l4.49 1.79v3.58l-4.49 1.79l-4.49 -1.79v-3.58zM450.4 321.7l4.49 1.79v3.58l-4.49 1.79l-4.49 -1.79v-3.58zM450.4 289.4l4.49 1.79v3.58l-4.49 1.79l-4.49 -1.79v-3.58zM611.9 289.4l4.49 1.79v3.58l-4.49 1.79l-4.49 -1.79v-3.58zM827.4 364.6l4.49 1.79v3.58l-4.49 1.79l-4.49 -1.79v-3.58zM827.4 278.7l4.49 1.79v3.58l-4.49 1.79l-4.49 -1.79v-3.58zM845.3 268.0l4.49 1.79v3.58l-4.49 1.79l-4.49 -1.79v-3.58zM854.3 375.4l4.49 1.79v3.58l-4.49 1.79l-4.49 -1.79v-3.58zM854.3 364.6l4.49 1.79v3.58l-4.49 1.79l-4.49 -1.79v-3.58zM890.2 386.1l4.49 1.79v3.58l-4.49 1.79l-4.49 -1.79v-3.58zM890.2 278.7l4.49 1.79v3.58l-4.49 1.79l-4.49 -1.79v-3.58zM899.2 268.0l4.49 1.79v3.58l-4.49 1.79l-4.49 -1.79v-3.58zM944.1 396.8l4.49 1.79v3.58l-4.49 1.79l-4.49 -1.79v-3.58zM944.1 289.4l4.49 1.79v3.58l-4.49 1.79l-4.49 -1.79v-3.58zM953.1 353.9l4.49 1.79v3.58l-4.49 1.79l-4.49 -1.79v-3.58z"/>
<path fill="#fc8961" stroke="#fc8961" d="M356.1 294.8l4.49 1.79v3.58l-4.49 1.79l-4.49 -1.79v-3.58zM374.1 305.5l4.49 1.79v3.58l-4.49 1.79l-4.49 -1.79v-3.58zM374.1 294.8l4.49 1.79v3.58l-4.49 1.79l-4.49 -1.79v-3.58zM436.9 294.8l4.49 1.79v3.58l-4.49 1.79l-4.49 -1.79v-3.58zM508.7 327.0l4.49 1.79v3.58l-4.49 1.79l-4.49 -1.79v-3.58zM526.7 284.1l4.49 1.79v3.58l-4.49 1.79l-4.49 -1.79v-3.58zM553.6 284.1l4.49 1.79v3.58l-4.49 1.79l-4.49 -1.79v-3.58zM562.6 284.1l4.49 1.79v3.58l-4.49 1.79l-4.49 -1.79v-3.58zM571.5 284.1l4.49 1.79v3.58l-4.49 1.79l-4.49 -1.79v-3.58zM589.5 337.8l4.49 1.79v3.58l-4.49 1.79l-4.49 -1.79v-3.58zM598.5 337.8l4.49 1.79v3.58l-4.49 1.79l-4.49 -1.79v-3.58zM670.3 337.8l4.49 1.79v3.58l-4.49 1.79l-4.49 -1.79v-3.58zM679.3 284.1l4.49 1.79v3.58l-4.49 1.79l-4.49 -1.79v-3.58zM688.3 337.8l4.49 1.79v3.58l-4.49 1.79l-4.49 -1.79v-3.58zM688.3 284.1l4.49 1.79v3.58l-4.49 1.79l-4.49 -1.79v-3.58zM715.2 284.1l4.49 1.79v3.58l-4.49 1.79l-4.49 -1.79v-3.58zM724.2 348.5l4.49 1.79v3.58l-4.49 1.79l-4.49 -1.79v-3.58zM733.1 284.1l4.49 1.79v3.58l-4.49 1.79l-4.49 -1.79v-3.58zM751.1 284.1l4.49 1.79v3.58l-4.49 1.79l-4.49 -1.79v-3.58zM760.1 348.5l4.49 1.79v3.58l-4.49 1.79l-4.49 -1.79v-3.58zM778.0 284.1l4.49 1.79v3.58l-4.49 1.79l-4.49 -1.79v-3.58zM787.0 348.5l4.49 1.79v3.58l-4.49 1.79l-4.49 -1.79v-3.58zM787.0 284.1l4.49 1.79v3.58l-4.49 1.79l-4.49 -1.79v-3.58zM805.0 284.1l4.49 1.79v3.58l-4.49 1.79l-4.49 -1.79v-3.58zM813.9 359.3l4.49 1.79v3.58l-4.49 1.79l-4.49 -1.79v-3.58zM813.9 284.1l4.49 1.79v3.58l-4.49 1.79l-4.49 -1.79v-3.58zM822.9 359.3l4.49 1.79v3.58l-4.49 1.79l-4.49 -1.79v-3.58zM831.9 359.3l4.49 1.79v3.58l-4.49 1.79l-4.49 -1.79v-3.58zM840.9 359.3l4.49 1.79v3.58l-4.49 1.79l-4.49 -1.79v-3.58zM849.8 370.0l4.49 1.79v3.58l-4.49 1.79l-4.49 -1.79v-3.58zM867.8 370.0l4.49 1.79v3.58l-4.49 1.79l-4.49 -1.79v-3.58zM885.7 380.7l4.49 1.79v3.58l-4.49 1.79l-4.49 -1.79v-3.58zM894.7 380.7l4.49 1.79v3.58l-4.49 1.79l-4.49 -1.79v-3.58zM903.7 391.5l4.49 1.79v3.58l-4.49 1.79l-4.49 -1.79v-3.58zM912.7 391.5l4.49 1.79v3.58l-4.49 1.79l-4.49 -1.79v-3.58zM912.7 273.3l4.49 1.79v3.58l-4.49 1.79l-4.49 -1.79v-3.58zM921.7 391.5l4.49 1.79v3.58l-4.49 1.79l-4.49 -1.79v-3.58zM921.7 284.1l4.49 1.79v3.58l-4.49 1.79l-4.49 -1.79v-3.58zM921.7 273.3l4.49 1.79v3.58l-4.49 1.79l-4.49 -1.79v-3.58zM930.6 284.1l4.49 1.79v3.58l-4.49 1.79l-4.49 -1.79v-3.58zM939.6 402.2l4.49 1.79v3.58l-4.49 1.79l-4.49 -1.79v-3.58zM939.6 391.5l4.49 1.79v3.58l-4.49 1.79l-4.49 -1.79v-3.58zM939.6 305.5l4.49 1.79v3.58l-4.49 1.79l-4.49 -1.79v-3.58zM369.6 300.2l4.49 1.79v3.58l-4.49 1.79l-4.49 -1.79v-3.58zM396.5 300.2l4.49 1.79v3.58l-4.49 1.79l-4.49 -1.79v-3.58zM459.3 321.7l4.49 1.79v3.58l-4.49 1.79l-4.49 -1.79v-3.58zM531.2 332.4l4.49 1.79v3.58l-4.49 1.79l-4.49 -1.79v-3.58zM540.1 332.4l4.49 1.79v3.58l-4.49 1.79l-4.49 -1.79v-3.58zM558.1 332.4l4.49 1.79v3.58l-4.49 1.79l-4.49 -1.79v-3.58zM603.0 332.4l4.49 1.79v3.58l-4.49 1.79l-4.49 -1.79v-3.58zM638.9 343.1l4.49 1.79v3.58l-4.49 1.79l-4.49 -1.79v-3.58zM674.8 289.4l4.49 1.79v3.58l-4.49 1.79l-4.49 -1.79v-3.58zM683.8 289.4l4.49 1.79v3.58l-4.49 1.79l-4.49 -1.79v-3.58zM692.7 343.1l4.49 1.79v3.58l-4.49 1.79l-4.49 -1.79v-3.58zM701.7 343.1l4.49 1.79v3.58l-4.49 1.79l-4.49 -1.79v-3.58zM710.7 343.1l4.49 1.79v3.58l-4.49 1.79l-4.49 -1.79v-3.58zM719.7 343.1l4.49 1.79v3.58l-4.49 1.79l-4.49 -1.79v-3.58zM728.6 343.1l4.49 1.79v3.58l-4.49 1.79l-4.49 -1.79v-3.58zM773.5 353.9l4.49 1.79v3.58l-4.49 1.79l-4.49 -1.79v-3.58zM800.5 353.9l4.49 1.79v3.58l-4.49 1.79l-4.49 -1.79v-3.58zM809.4 364.6l4.49 1.79v3.58l-4.49 1.79l-4.49 -1.79v-3.58zM818.4 364.6l4.49 1.79v3.58l-4.49 1.79l-4.49 -1.79v-3.58zM854.3 278.7l4.49 1.79v3.58l-4.49 1.79l-4.49 -1.79v-3.58zM899.2 278.7l4.49 1.79v3.58l-4.49 1.79l-4.49 -1.79v-3.58zM917.2 278.7l4.49 1.79v3.58l-4.49 1.79l-4.49 -1.79v-3.58zM926.1 289.4l4.49 1.79v3.58l-4.49 1.79l-4.49 -1.79v-3.58zM926.1 278.7l4.49 1.79v3.58l-4.49 1.79l-4.49 -1.79v-3.58zM935.1 407.6l4.49 1.79v3.58l-4.49 1.79l-4.49 -1.79v-3.58zM944.1 364.6l4.49 1.79v3.58l-4.49 1.79l-4.49 -1.79v-3.58zM944.1 321.7l4.49 1.79v3.58l-4.49 1.79l-4.49 -1.79v-3.58zM944.1 300.2l4.49 1.79v3.58l-4.49 1.79l-4.49 -1.79v-3.58zM953.1 407.6l4.49 1.79v3.58l-4.49 1.79l-4.49 -1.79v-3.58z"/>
<path fill="#fd9266" stroke="#fd9266" d="M427.9 316.3l4.49 1.79v3.58l-4.49 1.79l-4.49 -1.79v-3.58zM436.9 316.3l4.49 1.79v3.58l-4.49 1.79l-4.49 -1.79v-3.58zM445.9 316.3l4.49 1.79v3.58l-4.49 1.79l-4.49 -1.79v-3.58zM472.8 327.0l4.49 1.79v3.58l-4.49 1.79l-4.49 -1.79v-3.58zM472.8 316.3l4.49 1.79v3.58l-4.49 1.79l-4.49 -1.79v-3.58zM481.8 327.0l4.49 1.79v3.58l-4.49 1.79l-4.49 -1.79v-3.58zM625.4 337.8l4.49 1.79v3.58l-4.49 1.79l-4.49 -1.79v-3.58zM643.4 284.1l4.49 1.79v3.58l-4.49 1.79l-4.49 -1.79v-3.58zM652.3 284.1l4.49 1.79v3.58l-4.49 1.79l-4.49 -1.79v-3.58zM661.3 337.8l4.49 1.79v3.58l-4.49 1.79l-4.49 -1.79v-3.58zM670.3 284.1l4.49 1.79v3.58l-4.49 1.79l-4.49 -1.79v-3.58zM697.2 337.8l4.49 1.79v3.58l-4.49 1.79l-4.49 -1.79v-3.58zM697.2 284.1l4.49 1.79v3.58l-4.49 1.79l-4.49 -1.79v-3.58zM706.2 284.1l4.49 1.79v3.58l-4.49 1.79l-4.49 -1.79v-3.58zM724.2 284.1l4.49 1.79v3.58l-4.49 1.79l-4.49 -1.79v-3.58zM760.1 284.1l4.49 1.79v3.58l-4.49 1.79l-4.49 -1.79v-3.58zM769.0 284.1l4.49 1.79v3.58l-4.49 1.79l-4.49 -1.79v-3.58zM787.0 273.3l4.49 1.79v3.58l-4.49 1.79l-4.49 -1.79v-3.58zM796.0 348.5l4.49 1.79v3.58l-4.49 1.79l-4.49 -1.79v-3.58zM822.9 284.1l4.49 1.79v3.58l-4.49 1.79l-4.49 -1.79v-3.58zM831.9 273.3l4.49 1.79v3.58l-4.49 1.79l-4.49 -1.79v-3.58zM876.8 370.0l4.49 1.79v3.58l-4.49 1.79l-4.49 -1.79v-3.58zM876.8 273.3l4.49 1.79v3.58l-4.49 1.79l-4.49 -1.79v-3.58zM885.7 370.0l4.49 1.79v3.58l-4.49 1.79l-4.49 -1.79v-3.58zM885.7 284.1l4.49 1.79v3.58l-4.49 1.79l-4.49 -1.79v-3.58zM894.7 273.3l4.49 1.79v3.58l-4.49 1.79l-4.49 -1.79v-3.58zM903.7 284.1l4.49 1.79v3.58l-4.49 1.79l-4.49 -1.79v-3.58zM912.7 284.1l4.49 1.79v3.58l-4.49 1.79l-4.49 -1.79v-3.58zM921.7 402.2l4.49 1.79v3.58l-4.49 1.79l-4.49 -1.79v-3.58zM930.6 391.5l4.49 1.79v3.58l-4.49 1.79l-4.49 -1.79v-3.58zM930.6 370.0l4.49 1.79v3.58l-4.49 1.79l-4.49 -1.79v-3.58zM939.6 359.3l4.49 1.79v3.58l-4.49 1.79l-4.49 -1.79v-3.58zM939.6 316.3l4.49 1.79v3.58l-4.49 1.79l-4.49 -1.79v-3.58zM948.6 327.0l4.49 1.79v3.58l-4.49 1.79l-4.49 -1.79v-3.58zM414.5 300.2l4.49 1.79v3.58l-4.49 1.79l-4.49 -1.79v-3.58zM423.4 300.2l4.49 1.79v3.58l-4.49 1.79l-4.49 -1.79v-3.58zM432.4 310.9l4.49 1.79v3.58l-4.49 1.79l-4.49 -1.79v-3.58zM441.4 310.9l4.49 1.79v3.58l-4.49 1.79l-4.49 -1.79v-3.58zM468.3 289.4l4.49 1.79v3.58l-4.49 1.79l-4.49 -1.79v-3.58zM495.2 321.7l4.49 1.79v3.58l-4.49 1.79l-4.49 -1.79v-3.58zM495.2 289.4l4.49 1.79v3.58l-4.49 1.79l-4.49 -1.79v-3.58zM513.2 289.4l4.49 1.79v3.58l-4.49 1.79l-4.49 -1.79v-3.58zM540.1 289.4l4.49 1.79v3.58l-4.49 1.79l-4.49 -1.79v-3.58zM576.0 332.4l4.49 1.79v3.58l-4.49 1.79l-4.49 -1.79v-3.58zM585.0 332.4l4.49 1.79v3.58l-4.49 1.79l-4.49 -1.79v-3.58zM603.0 289.4l4.49 1.79v3.58l-4.49 1.79l-4.49 -1.79v-3.58zM656.8 289.4l4.49 1.79v3.58l-4.49 1.79l-4.49 -1.79v-3.58zM755.6 289.4l4.49 1.79v3.58l-4.49 1.79l-4.49 -1.79v-3.58zM764.6 353.9l4.49 1.79v3.58l-4.49 1.79l-4.49 -1.79v-3.58zM791.5 353.9l4.49 1.79v3.58l-4.49 1.79l-4.49 -1.79v-3.58zM791.5 278.7l4.49 1.79v3.58l-4.49 1.79l-4.49 -1.79v-3.58zM800.5 278.7l4.49 1.79v3.58l-4.49 1.79l-4.49 -1.79v-3.58zM836.4 364.6l4.49 1.79v3.58l-4.49 1.79l-4.49 -1.79v-3.58zM836.4 278.7l4.49 1.79v3.58l-4.49 1.79l-4.49 -1.79v-3.58zM845.3 364.6l4.49 1.79v3.58l-4.49 1.79l-4.49 -1.79v-3.58zM854.3 268.0l4.49 1.79v3.58l-4.49 1.79l-4.49 -1.79v-3.58zM872.3 278.7l4.49 1.79v3.58l-4.49 1.79l-4.49 -1.79v-3.58zM899.2 375.4l4.49 1.79v3.58l-4.49 1.79l-4.49 -1.79v-3.58zM908.2 278.7l4.49 1.79v3.58l-4.49 1.79l-4.49 -1.79v-3.58zM917.2 396.8l4.49 1.79v3.58l-4.49 1.79l-4.49 -1.79v-3.58zM917.2 289.4l4.49 1.79v3.58l-4.49 1.79l-4.49 -1.79v-3.58zM926.1 386.1l4.49 1.79v3.58l-4.49 1.79l-4.49 -1.79v-3.58zM926.1 375.4l4.49 1.79v3.58l-4.49 1.79l-4.49 -1.79v-3.58zM926.1 300.2l4.49 1.79v3.58l-4.49 1.79l-4.49 -1.79v-3.58zM935.1 396.8l4.49 1.79v3.58l-4.49 1.79l-4.49 -1.79v-3.58zM944.1 375.4l4.49 1.79v3.58l-4.49 1.79l-4.49 -1.79v-3.58z"/>
<path fill="#fd9b6b" stroke="#fd9b6b" d="M401.0 305.5l4.49 1.79v3.58l-4.49 1.79l-4.49 -1.79v-3.58zM410.0 305.5l4.49 1.79v3.58l-4.49 1.79l-4.49 -1.79v-3.58zM410.0 294.8l4.49 1.79v3.58l-4.49 1.79l-4.49 -1.79v-3.58zM517.7 327.0l4.49 1.79v3.58l-4.49 1.79l-4.49 -1.79v-3.58zM526.7 327.0l4.49 1.79v3.58l-4.49 1.79l-4.49 -1.79v-3.58zM535.6 327.0l4.49 1.79v3.58l-4.49 1.79l-4.49 -1.79v-3.58zM715.2 294.8l4.49 1.79v3.58l-4.49 1.79l-4.49 -1.79v-3.58zM742.1 348.5l4.49 1.79v3.58l-4.49 1.79l-4.49 -1.79v-3.58zM751.1 348.5l4.49 1.79v3.58l-4.49 1.79l-4.49 -1.79v-3.58zM796.0 284.1l4.49 1.79v3.58l-4.49 1.79l-4.49 -1.79v-3.58zM831.9 284.1l4.49 1.79v3.58l-4.49 1.79l-4.49 -1.79v-3.58zM849.8 284.1l4.49 1.79v3.58l-4.49 1.79l-4.49 -1.79v-3.58zM849.8 273.3l4.49 1.79v3.58l-4.49 1.79l-4.49 -1.79v-3.58zM894.7 284.1l4.49 1.79v3.58l-4.49 1.79l-4.49 -1.79v-3.58zM903.7 380.7l4.49 1.79v3.58l-4.49 1.79l-4.49 -1.79v-3.58zM921.7 359.3l4.49 1.79v3.58l-4.49 1.79l-4.49 -1.79v-3.58zM921.7 305.5l4.49 1.79v3.58l-4.49 1.79l-4.49 -1.79v-3.58zM939.6 370.0l4.49 1.79v3.58l-4.49 1.79l-4.49 -1.79v-3.58zM939.6 327.0l4.49 1.79v3.58l-4.49 1.79l-4.49 -1.79v-3.58zM405.5 310.9l4.49 1.79v3.58l-4.49 1.79l-4.49 -1.79v-3.58zM405.5 300.2l4.49 1.79v3.58l-4.49 1.79l-4.49 -1.79v-3.58zM423.4 310.9l4.49 1.79v3.58l-4.49 1.79l-4.49 -1.79v-3.58zM441.4 289.4l4.49 1.79v3.58l-4.49 1.79l-4.49 -1.79v-3.58zM459.3 310.9l4.49 1.79v3.58l-4.49 1.79l-4.49 -1.79v-3.58zM459.3 289.4l4.49 1.79v3.58l-4.49 1.79l-4.49 -1.79v-3.58zM504.2 321.7l4.49 1.79v3.58l-4.49 1.79l-4.49 -1.79v-3.58zM504.2 289.4l4.49 1.79v3.58l-4.49 1.79l-4.49 -1.79v-3.58zM522.2 289.4l4.49 1.79v3.58l-4.49 1.79l-4.49 -1.79v-3.58zM531.2 289.4l4.49 1.79v3.58l-4.49 1.79l-4.49 -1.79v-3.58zM558.1 289.4l4.49 1.79v3.58l-4.49 1.79l-4.49 -1.79v-3.58zM567.1 289.4l4.49 1.79v3.58l-4.49 1.79l-4.49 -1.79v-3.58zM585.0 289.4l4.49 1.79v3.58l-4.49 1.79l-4.49 -1.79v-3.58zM620.9 332.4l4.49 1.79v3.58l-4.49 1.79l-4.49 -1.79v-3.58zM620.9 289.4l4.49 1.79v3.58l-4.49 1.79l-4.49 -1.79v-3.58zM638.9 332.4l4.49 1.79v3.58l-4.49 1.79l-4.49 -1.79v-3.58zM647.9 332.4l4.49 1.79v3.58l-4.49 1.79l-4.49 -1.79v-3.58zM719.7 289.4l4.49 1.79v3.58l-4.49 1.79l-4.49 -1.79v-3.58zM737.6 343.1l4.49 1.79v3.58l-4.49 1.79l-4.49 -1.79v-3.58zM746.6 343.1l4.49 1.79v3.58l-4.49 1.79l-4.49 -1.79v-3.58zM755.6 343.1l4.49 1.79v3.58l-4.49 1.79l-4.49 -1.79v-3.58zM764.6 289.4l4.49 1.79v3.58l-4.49 1.79l-4.49 -1.79v-3.58zM782.5 353.9l4.49 1.79v3.58l-4.49 1.79l-4.49 -1.79v-3.58zM782.5 278.7l4.49 1.79v3.58l-4.49 1.79l-4.49 -1.79v-3.58zM791.5 289.4l4.49 1.79v3.58l-4.49 1.79l-4.49 -1.79v-3.58zM836.4 289.4l4.49 1.79v3.58l-4.49 1.79l-4.49 -1.79v-3.58zM863.3 364.6l4.49 1.79v3.58l-4.49 1.79l-4.49 -1.79v-3.58zM863.3 278.7l4.49 1.79v3.58l-4.49 1.79l-4.49 -1.79v-3.58zM872.3 364.6l4.49 1.79v3.58l-4.49 1.79l-4.49 -1.79v-3.58zM881.3 278.7l4.49 1.79v3.58l-4.49 1.79l-4.49 -1.79v-3.58zM908.2 386.1l4.49 1.79v3.58l-4.49 1.79l-4.49 -1.79v-3.58zM908.2 375.4l4.49 1.79v3.58l-4.49 1.79l-4.49 -1.79v-3.58zM917.2 386.1l4.49 1.79v3.58l-4.49 1.79l-4.49 -1.79v-3.58zM935.1 321.7l4.49 1.79v3.58l-4.49 1.79l-4.49 -1.79v-3.58zM935.1 310.9l4.49 1.79v3.58l-4.49 1.79l-4.49 -1.79v-3.58zM935.1 300.2l4.49 1.79v3.58l-4.49 1.79l-4.49 -1.79v-3.58zM944.1 310.9l4.49 1.79v3.58l-4.49 1.79l-4.49 -1.79v-3.58z"/>
<path fill="#fea772" stroke="#fea772" d="M418.9 294.8l4.49 1.79v3.58l-4.49 1.79l-4.49 -1.79v-3.58zM427.9 305.5l4.49 1.79v3.58l-4.49 1.79l-4.49 -1.79v-3.58zM427.9 294.8l4.49 1.79v3.58l-4.49 1.79l-4.49 -1.79v-3.58zM454.8 316.3l4.49 1.79v3.58l-4.49 1.79l-4.49 -1.79v-3.58zM472.8 294.8l4.49 1.79v3.58l-4.49 1.79l-4.49 -1.79v-3.58zM544.6 327.0l4.49 1.79v3.58l-4.49 1.79l-4.49 -1.79v-3.58zM580.5 327.0l4.49 1.79v3.58l-4.49 1.79l-4.49 -1.79v-3.58zM598.5 294.8l4.49 1.79v3.58l-4.49 1.79l-4.49 -1.79v-3.58zM661.3 294.8l4.49 1.79v3.58l-4.49 1.79l-4.49 -1.79v-3.58zM733.1 337.8l4.49 1.79v3.58l-4.49 1.79l-4.49 -1.79v-3.58zM760.1 294.8l4.49 1.79v3.58l-4.49 1.79l-4.49 -1.79v-3.58zM822.9 294.8l4.49 1.79v3.58l-4.49 1.79l-4.49 -1.79v-3.58zM849.8 359.3l4.49 1.79v3.58l-4.49 1.79l-4.49 -1.79v-3.58zM858.8 359.3l4.49 1.79v3.58l-4.49 1.79l-4.49 -1.79v-3.58zM858.8 284.1l4.49 1.79v3.58l-4.49 1.79l-4.49 -1.79v-3.58zM867.8 284.1l4.49 1.79v3.58l-4.49 1.79l-4.49 -1.79v-3.58zM876.8 284.1l4.49 1.79v3.58l-4.49 1.79l-4.49 -1.79v-3.58zM885.7 359.3l4.49 1.79v3.58l-4.49 1.79l-4.49 -1.79v-3.58zM894.7 370.0l4.49 1.79v3.58l-4.49 1.79l-4.49 -1.79v-3.58zM903.7 370.0l4.49 1.79v3.58l-4.49 1.79l-4.49 -1.79v-3.58zM903.7 273.3l4.49 1.79v3.58l-4.49 1.79l-4.49 -1.79v-3.58zM912.7 380.7l4.49 1.79v3.58l-4.49 1.79l-4.49 -1.79v-3.58zM912.7 370.0l4.49 1.79v3.58l-4.49 1.79l-4.49 -1.79v-3.58zM912.7 294.8l4.49 1.79v3.58l-4.49 1.79l-4.49 -1.79v-3.58zM930.6 359.3l4.49 1.79v3.58l-4.49 1.79l-4.49 -1.79v-3.58zM930.6 305.5l4.49 1.79v3.58l-4.49 1.79l-4.49 -1.79v-3.58zM939.6 380.7l4.49 1.79v3.58l-4.49 1.79l-4.49 -1.79v-3.58zM939.6 337.8l4.49 1.79v3.58l-4.49 1.79l-4.49 -1.79v-3.58zM441.4 300.2l4.49 1.79v3.58l-4.49 1.79l-4.49 -1.79v-3.58zM450.4 300.2l4.49 1.79v3.58l-4.49 1.79l-4.49 -1.79v-3.58zM468.3 321.7l4.49 1.79v3.58l-4.49 1.79l-4.49 -1.79v-3.58zM477.3 321.7l4.49 1.79v3.58l-4.49 1.79l-4.49 -1.79v-3.58zM477.3 289.4l4.49 1.79v3.58l-4.49 1.79l-4.49 -1.79v-3.58zM486.3 321.7l4.49 1.79v3.58l-4.49 1.79l-4.49 -1.79v-3.58zM549.1 289.4l4.49 1.79v3.58l-4.49 1.79l-4.49 -1.79v-3.58zM594.0 289.4l4.49 1.79v3.58l-4.49 1.79l-4.49 -1.79v-3.58zM611.9 332.4l4.49 1.79v3.58l-4.49 1.79l-4.49 -1.79v-3.58zM629.9 332.4l4.49 1.79v3.58l-4.49 1.79l-4.49 -1.79v-3.58zM629.9 289.4l4.49 1.79v3.58l-4.49 1.79l-4.49 -1.79v-3.58zM638.9 289.4l4.49 1.79v3.58l-4.49 1.79l-4.49 -1.79v-3.58zM647.9 289.4l4.49 1.79v3.58l-4.49 1.79l-4.49 -1.79v-3.58zM656.8 332.4l4.49 1.79v3.58l-4.49 1.79l-4.49 -1.79v-3.58zM665.8 289.4l4.49 1.79v3.58l-4.49 1.79l-4.49 -1.79v-3.58zM701.7 289.4l4.49 1.79v3.58l-4.49 1.79l-4.49 -1.79v-3.58zM782.5 289.4l4.49 1.79v3.58l-4.49 1.79l-4.49 -1.79v-3.58zM800.5 289.4l4.49 1.79v3.58l-4.49 1.79l-4.49 -1.79v-3.58zM809.4 353.9l4.49 1.79v3.58l-4.49 1.79l-4.49 -1.79v-3.58zM845.3 278.7l4.49 1.79v3.58l-4.49 1.79l-4.49 -1.79v-3.58zM872.3 375.4l4.49 1.79v3.58l-4.49 1.79l-4.49 -1.79v-3.58zM872.3 289.4l4.49 1.79v3.58l-4.49 1.79l-4.49 -1.79v-3.58zM881.3 364.6l4.49 1.79v3.58l-4.49 1.79l-4.49 -1.79v-3.58zM890.2 375.4l4.49 1.79v3.58l-4.49 1.79l-4.49 -1.79v-3.58zM908.2 289.4l4.49 1.79v3.58l-4.49 1.79l-4.49 -1.79v-3.58zM926.1 353.9l4.49 1.79v3.58l-4.49 1.79l-4.49 -1.79v-3.58zM935.1 375.4l4.49 1.79v3.58l-4.49 1.79l-4.49 -1.79v-3.58zM935.1 364.6l4.49 1.79v3.58l-4.49 1.79l-4.49 -1.79v-3.58zM935.1 343.1l4.49 1.79v3.58l-4.49 1.79l-4.49 -1.79v-3.58zM944.1 343.1l4.49 1.79v3.58l-4.49 1.79l-4.49 -1.79v-3.58zM944.1 332.4l4.49 1.79v3.58l-4.49 1.79l-4.49 -1.79v-3.58z"/>
<path fill="#feb078" stroke="#feb078" d="M418.9 305.5l4.49 1.79v3.58l-4.49 1.79l-4.49 -1.79v-3.58zM436.9 305.5l4.49 1.79v3.58l-4.49 1.79l-4.49 -1.79v-3.58zM445.9 305.5l4.49 1.79v3.58l-4.49 1.79l-4.49 -1.79v-3.58zM445.9 294.8l4.49 1.79v3.58l-4.49 1.79l-4.49 -1.79v-3.58zM454.8 294.8l4.49 1.79v3.58l-4.49 1.79l-4.49 -1.79v-3.58zM463.8 316.3l4.49 1.79v3.58l-4.49 1.79l-4.49 -1.79v-3.58zM544.6 294.8l4.49 1.79v3.58l-4.49 1.79l-4.49 -1.79v-3.58zM571.5 327.0l4.49 1.79v3.58l-4.49 1.79l-4.49 -1.79v-3.58zM589.5 294.8l4.49 1.79v3.58l-4.49 1.79l-4.49 -1.79v-3.58zM607.5 327.0l4.49 1.79v3.58l-4.49 1.79l-4.49 -1.79v-3.58zM679.3 337.8l4.49 1.79v3.58l-4.49 1.79l-4.49 -1.79v-3.58zM706.2 337.8l4.49 1.79v3.58l-4.49 1.79l-4.49 -1.79v-3.58zM724.2 337.8l4.49 1.79v3.58l-4.49 1.79l-4.49 -1.79v-3.58zM742.1 294.8l4.49 1.79v3.58l-4.49 1.79l-4.49 -1.79v-3.58zM822.9 348.5l4.49 1.79v3.58l-4.49 1.79l-4.49 -1.79v-3.58zM840.9 348.5l4.49 1.79v3.58l-4.49 1.79l-4.49 -1.79v-3.58zM858.8 294.8l4.49 1.79v3.58l-4.49 1.79l-4.49 -1.79v-3.58zM867.8 348.5l4.49 1.79v3.58l-4.49 1.79l-4.49 -1.79v-3.58zM876.8 359.3l4.49 1.79v3.58l-4.49 1.79l-4.49 -1.79v-3.58zM876.8 348.5l4.49 1.79v3.58l-4.49 1.79l-4.49 -1.79v-3.58zM876.8 294.8l4.49 1.79v3.58l-4.49 1.79l-4.49 -1.79v-3.58zM885.7 294.8l4.49 1.79v3.58l-4.49 1.79l-4.49 -1.79v-3.58zM894.7 359.3l4.49 1.79v3.58l-4.49 1.79l-4.49 -1.79v-3.58zM903.7 294.8l4.49 1.79v3.58l-4.49 1.79l-4.49 -1.79v-3.58zM921.7 380.7l4.49 1.79v3.58l-4.49 1.79l-4.49 -1.79v-3.58zM921.7 370.0l4.49 1.79v3.58l-4.49 1.79l-4.49 -1.79v-3.58zM921.7 348.5l4.49 1.79v3.58l-4.49 1.79l-4.49 -1.79v-3.58zM921.7 294.8l4.49 1.79v3.58l-4.49 1.79l-4.49 -1.79v-3.58zM930.6 337.8l4.49 1.79v3.58l-4.49 1.79l-4.49 -1.79v-3.58zM930.6 327.0l4.49 1.79v3.58l-4.49 1.79l-4.49 -1.79v-3.58zM939.6 348.5l4.49 1.79v3.58l-4.49 1.79l-4.49 -1.79v-3.58zM432.4 300.2l4.49 1.79v3.58l-4.49 1.79l-4.49 -1.79v-3.58zM450.4 310.9l4.49 1.79v3.58l-4.49 1.79l-4.49 -1.79v-3.58zM459.3 300.2l4.49 1.79v3.58l-4.49 1.79l-4.49 -1.79v-3.58zM486.3 289.4l4.49 1.79v3.58l-4.49 1.79l-4.49 -1.79v-3.58zM513.2 321.7l4.49 1.79v3.58l-4.49 1.79l-4.49 -1.79v-3.58zM531.2 321.7l4.49 1.79v3.58l-4.49 1.79l-4.49 -1.79v-3.58zM540.1 321.7l4.49 1.79v3.58l-4.49 1.79l-4.49 -1.79v-3.58zM576.0 289.4l4.49 1.79v3.58l-4.49 1.79l-4.49 -1.79v-3.58zM594.0 332.4l4.49 1.79v3.58l-4.49 1.79l-4.49 -1.79v-3.58zM665.8 332.4l4.49 1.79v3.58l-4.49 1.79l-4.49 -1.79v-3.58zM692.7 332.4l4.49 1.79v3.58l-4.49 1.79l-4.49 -1.79v-3.58zM692.7 289.4l4.49 1.79v3.58l-4.49 1.79l-4.49 -1.79v-3.58zM701.7 332.4l4.49 1.79v3.58l-4.49 1.79l-4.49 -1.79v-3.58zM710.7 289.4l4.49 1.79v3.58l-4.49 1.79l-4.49 -1.79v-3.58zM728.6 289.4l4.49 1.79v3.58l-4.49 1.79l-4.49 -1.79v-3.58zM737.6 289.4l4.49 1.79v3.58l-4.49 1.79l-4.49 -1.79v-3.58zM746.6 289.4l4.49 1.79v3.58l-4.49 1.79l-4.49 -1.79v-3.58zM773.5 343.1l4.49 1.79v3.58l-4.49 1.79l-4.49 -1.79v-3.58zM800.5 343.1l4.49 1.79v3.58l-4.49 1.79l-4.49 -1.79v-3.58zM809.4 300.2l4.49 1.79v3.58l-4.49 1.79l-4.49 -1.79v-3.58zM809.4 289.4l4.49 1.79v3.58l-4.49 1.79l-4.49 -1.79v-3.58zM818.4 353.9l4.49 1.79v3.58l-4.49 1.79l-4.49 -1.79v-3.58zM818.4 289.4l4.49 1.79v3.58l-4.49 1.79l-4.49 -1.79v-3.58zM827.4 353.9l4.49 1.79v3.58l-4.49 1.79l-4.49 -1.79v-3.58zM827.4 289.4l4.49 1.79v3.58l-4.49 1.79l-4.49 -1.79v-3.58zM836.4 353.9l4.49 1.79v3.58l-4.49 1.79l-4.49 -1.79v-3.58zM845.3 353.9l4.49 1.79v3.58l-4.49 1.79l-4.49 -1.79v-3.58zM845.3 289.4l4.49 1.79v3.58l-4.49 1.79l-4.49 -1.79v-3.58zM854.3 353.9l4.49 1.79v3.58l-4.49 1.79l-4.49 -1.79v-3.58zM863.3 289.4l4.49 1.79v3.58l-4.49 1.79l-4.49 -1.79v-3.58zM872.3 353.9l4.49 1.79v3.58l-4.49 1.79l-4.49 -1.79v-3.58zM890.2 364.6l4.49 1.79v3.58l-4.49 1.79l-4.49 -1.79v-3.58zM890.2 353.9l4.49 1.79v3.58l-4.49 1.79l-4.49 -1.79v-3.58zM890.2 289.4l4.49 1.79v3.58l-4.49 1.79l-4.49 -1.79v-3.58zM899.2 321.7l4.49 1.79v3.58l-4.49 1.79l-4.49 -1.79v-3.58zM908.2 300.2l4.49 1.79v3.58l-4.49 1.79l-4.49 -1.79v-3.58zM917.2 375.4l4.49 1.79v3.58l-4.49 1.79l-4.49 -1.79v-3.58zM917.2 353.9l4.49 1.79v3.58l-4.49 1.79l-4.49 -1.79v-3.58zM917.2 343.1l4.49 1.79v3.58l-4.49 1.79l-4.49 -1.79v-3.58zM917.2 321.7l4.49 1.79v3.58l-4.49 1.79l-4.49 -1.79v-3.58zM926.1 364.6l4.49 1.79v3.58l-4.49 1.79l-4.49 -1.79v-3.58zM926.1 321.7l4.49 1.79v3.58l-4.49 1.79l-4.49 -1.79v-3.58zM926.1 310.9l4.49 1.79v3.58l-4.49 1.79l-4.49 -1.79v-3.58zM935.1 353.9l4.49 1.79v3.58l-4.49 1.79l-4.49 -1.79v-3.58zM935.1 332.4l4.49 1.79v3.58l-4.49 1.79l-4.49 -1.79v-3.58z"/>
<path fill="#feb97f" stroke="#feb97f" d="M454.8 305.5l4.49 1.79v3.58l-4.49 1.79l-4.49 -1.79v-3.58zM463.8 294.8l4.49 1.79v3.58l-4.49 1.79l-4.49 -1.79v-3.58zM472.8 305.5l4.49 1.79v3.58l-4.49 1.79l-4.49 -1.79v-3.58zM490.8 316.3l4.49 1.79v3.58l-4.49 1.79l-4.49 -1.79v-3.58zM490.8 294.8l4.49 1.79v3.58l-4.49 1.79l-4.49 -1.79v-3.58zM499.7 294.8l4.49 1.79v3.58l-4.49 1.79l-4.49 -1.79v-3.58zM508.7 294.8l4.49 1.79v3.58l-4.49 1.79l-4.49 -1.79v-3.58zM517.7 294.8l4.49 1.79v3.58l-4.49 1.79l-4.49 -1.79v-3.58zM526.7 316.3l4.49 1.79v3.58l-4.49 1.79l-4.49 -1.79v-3.58zM535.6 294.8l4.49 1.79v3.58l-4.49 1.79l-4.49 -1.79v-3.58zM553.6 327.0l4.49 1.79v3.58l-4.49 1.79l-4.49 -1.79v-3.58zM562.6 327.0l4.49 1.79v3.58l-4.49 1.79l-4.49 -1.79v-3.58zM580.5 294.8l4.49 1.79v3.58l-4.49 1.79l-4.49 -1.79v-3.58zM589.5 327.0l4.49 1.79v3.58l-4.49 1.79l-4.49 -1.79v-3.58zM598.5 327.0l4.49 1.79v3.58l-4.49 1.79l-4.49 -1.79v-3.58zM607.5 294.8l4.49 1.79v3.58l-4.49 1.79l-4.49 -1.79v-3.58zM616.4 294.8l4.49 1.79v3.58l-4.49 1.79l-4.49 -1.79v-3.58zM625.4 327.0l4.49 1.79v3.58l-4.49 1.79l-4.49 -1.79v-3.58zM634.4 294.8l4.49 1.79v3.58l-4.49 1.79l-4.49 -1.79v-3.58zM652.3 294.8l4.49 1.79v3.58l-4.49 1.79l-4.49 -1.79v-3.58zM679.3 294.8l4.49 1.79v3.58l-4.49 1.79l-4.49 -1.79v-3.58zM706.2 327.0l4.49 1.79v3.58l-4.49 1.79l-4.49 -1.79v-3.58zM706.2 294.8l4.49 1.79v3.58l-4.49 1.79l-4.49 -1.79v-3.58zM724.2 294.8l4.49 1.79v3.58l-4.49 1.79l-4.49 -1.79v-3.58zM742.1 337.8l4.49 1.79v3.58l-4.49 1.79l-4.49 -1.79v-3.58zM751.1 337.8l4.49 1.79v3.58l-4.49 1.79l-4.49 -1.79v-3.58zM760.1 337.8l4.49 1.79v3.58l-4.49 1.79l-4.49 -1.79v-3.58zM769.0 337.8l4.49 1.79v3.58l-4.49 1.79l-4.49 -1.79v-3.58zM778.0 294.8l4.49 1.79v3.58l-4.49 1.79l-4.49 -1.79v-3.58zM796.0 337.8l4.49 1.79v3.58l-4.49 1.79l-4.49 -1.79v-3.58zM796.0 294.8l4.49 1.79v3.58l-4.49 1.79l-4.49 -1.79v-3.58zM805.0 294.8l4.49 1.79v3.58l-4.49 1.79l-4.49 -1.79v-3.58zM813.9 348.5l4.49 1.79v3.58l-4.49 1.79l-4.49 -1.79v-3.58zM831.9 348.5l4.49 1.79v3.58l-4.49 1.79l-4.49 -1.79v-3.58zM840.9 294.8l4.49 1.79v3.58l-4.49 1.79l-4.49 -1.79v-3.58zM840.9 284.1l4.49 1.79v3.58l-4.49 1.79l-4.49 -1.79v-3.58zM849.8 348.5l4.49 1.79v3.58l-4.49 1.79l-4.49 -1.79v-3.58zM849.8 294.8l4.49 1.79v3.58l-4.49 1.79l-4.49 -1.79v-3.58zM867.8 359.3l4.49 1.79v3.58l-4.49 1.79l-4.49 -1.79v-3.58zM867.8 294.8l4.49 1.79v3.58l-4.49 1.79l-4.49 -1.79v-3.58zM876.8 305.5l4.49 1.79v3.58l-4.49 1.79l-4.49 -1.79v-3.58zM894.7 294.8l4.49 1.79v3.58l-4.49 1.79l-4.49 -1.79v-3.58zM921.7 316.3l4.49 1.79v3.58l-4.49 1.79l-4.49 -1.79v-3.58zM930.6 348.5l4.49 1.79v3.58l-4.49 1.79l-4.49 -1.79v-3.58zM930.6 316.3l4.49 1.79v3.58l-4.49 1.79l-4.49 -1.79v-3.58zM486.3 310.9l4.49 1.79v3.58l-4.49 1.79l-4.49 -1.79v-3.58zM486.3 300.2l4.49 1.79v3.58l-4.49 1.79l-4.49 -1.79v-3.58zM504.2 300.2l4.49 1.79v3.58l-4.49 1.79l-4.49 -1.79v-3.58zM531.2 300.2l4.49 1.79v3.58l-4.49 1.79l-4.49 -1.79v-3.58zM558.1 321.7l4.49 1.79v3.58l-4.49 1.79l-4.49 -1.79v-3.58zM620.9 300.2l4.49 1.79v3.58l-4.49 1.79l-4.49 -1.79v-3.58zM674.8 332.4l4.49 1.79v3.58l-4.49 1.79l-4.49 -1.79v-3.58zM683.8 332.4l4.49 1.79v3.58l-4.49 1.79l-4.49 -1.79v-3.58zM710.7 332.4l4.49 1.79v3.58l-4.49 1.79l-4.49 -1.79v-3.58zM719.7 332.4l4.49 1.79v3.58l-4.49 1.79l-4.49 -1.79v-3.58zM764.6 343.1l4.49 1.79v3.58l-4.49 1.79l-4.49 -1.79v-3.58zM773.5 300.2l4.49 1.79v3.58l-4.49 1.79l-4.49 -1.79v-3.58zM773.5 289.4l4.49 1.79v3.58l-4.49 1.79l-4.49 -1.79v-3.58zM782.5 343.1l4.49 1.79v3.58l-4.49 1.79l-4.49 -1.79v-3.58zM782.5 300.2l4.49 1.79v3.58l-4.49 1.79l-4.49 -1.79v-3.58zM791.5 343.1l4.49 1.79v3.58l-4.49 1.79l-4.49 -1.79v-3.58zM836.4 343.1l4.49 1.79v3.58l-4.49 1.79l-4.49 -1.79v-3.58zM836.4 300.2l4.49 1.79v3.58l-4.49 1.79l-4.49 -1.79v-3.58zM854.3 289.4l4.49 1.79v3.58l-4.49 1.79l-4.49 -1.79v-3.58zM863.3 353.9l4.49 1.79v3.58l-4.49 1.79l-4.49 -1.79v-3.58zM872.3 300.2l4.49 1.79v3.58l-4.49 1.79l-4.49 -1.79v-3.58zM881.3 353.9l4.49 1.79v3.58l-4.49 1.79l-4.49 -1.79v-3.58zM881.3 289.4l4.49 1.79v3.58l-4.49 1.79l-4.49 -1.79v-3.58zM890.2 310.9l4.49 1.79v3.58l-4.49 1.79l-4.49 -1.79v-3.58zM899.2 364.6l4.49 1.79v3.58l-4.49 1.79l-4.49 -1.79v-3.58zM899.2 353.9l4.49 1.79v3.58l-4.49 1.79l-4.49 -1.79v-3.58zM899.2 310.9l4.49 1.79v3.58l-4.49 1.79l-4.49 -1.79v-3.58zM908.2 364.6l4.49 1.79v3.58l-4.49 1.79l-4.49 -1.79v-3.58zM908.2 310.9l4.49 1.79v3.58l-4.49 1.79l-4.49 -1.79v-3.58zM917.2 364.6l4.49 1.79v3.58l-4.49 1.79l-4.49 -1.79v-3.58zM917.2 332.4l4.49 1.79v3.58l-4.49 1.79l-4.49 -1.79v-3.58zM917.2 310.9l4.49 1.79v3.58l-4.49 1.79l-4.49 -1.79v-3.58zM917.2 300.2l4.49 1.79v3.58l-4.49 1.79l-4.49 -1.79v-3.58z"/>
<path fill="#fec488" stroke="#fec488" d="M481.8 294.8l4.49 1.79v3.58l-4.49 1.79l-4.49 -1.79v-3.58zM499.7 316.3l4.49 1.79v3.58l-4.49 1.79l-4.49 -1.79v-3.58zM526.7 305.5l4.49 1.79v3.58l-4.49 1.79l-4.49 -1.79v-3.58zM526.7 294.8l4.49 1.79v3.58l-4.49 1.79l-4.49 -1.79v-3.58zM562.6 294.8l4.49 1.79v3.58l-4.49 1.79l-4.49 -1.79v-3.58zM625.4 294.8l4.49 1.79v3.58l-4.49 1.79l-4.49 -1.79v-3.58zM634.4 327.0l4.49 1.79v3.58l-4.49 1.79l-4.49 -1.79v-3.58zM643.4 294.8l4.49 1.79v3.58l-4.49 1.79l-4.49 -1.79v-3.58zM670.3 294.8l4.49 1.79v3.58l-4.49 1.79l-4.49 -1.79v-3.58zM688.3 294.8l4.49 1.79v3.58l-4.49 1.79l-4.49 -1.79v-3.58zM697.2 327.0l4.49 1.79v3.58l-4.49 1.79l-4.49 -1.79v-3.58zM697.2 294.8l4.49 1.79v3.58l-4.49 1.79l-4.49 -1.79v-3.58zM733.1 305.5l4.49 1.79v3.58l-4.49 1.79l-4.49 -1.79v-3.58zM751.1 327.0l4.49 1.79v3.58l-4.49 1.79l-4.49 -1.79v-3.58zM751.1 294.8l4.49 1.79v3.58l-4.49 1.79l-4.49 -1.79v-3.58zM769.0 294.8l4.49 1.79v3.58l-4.49 1.79l-4.49 -1.79v-3.58zM787.0 294.8l4.49 1.79v3.58l-4.49 1.79l-4.49 -1.79v-3.58zM796.0 327.0l4.49 1.79v3.58l-4.49 1.79l-4.49 -1.79v-3.58zM805.0 348.5l4.49 1.79v3.58l-4.49 1.79l-4.49 -1.79v-3.58zM813.9 337.8l4.49 1.79v3.58l-4.49 1.79l-4.49 -1.79v-3.58zM813.9 316.3l4.49 1.79v3.58l-4.49 1.79l-4.49 -1.79v-3.58zM813.9 294.8l4.49 1.79v3.58l-4.49 1.79l-4.49 -1.79v-3.58zM831.9 327.0l4.49 1.79v3.58l-4.49 1.79l-4.49 -1.79v-3.58zM849.8 305.5l4.49 1.79v3.58l-4.49 1.79l-4.49 -1.79v-3.58zM858.8 348.5l4.49 1.79v3.58l-4.49 1.79l-4.49 -1.79v-3.58zM858.8 337.8l4.49 1.79v3.58l-4.49 1.79l-4.49 -1.79v-3.58zM885.7 305.5l4.49 1.79v3.58l-4.49 1.79l-4.49 -1.79v-3.58zM894.7 348.5l4.49 1.79v3.58l-4.49 1.79l-4.49 -1.79v-3.58zM903.7 359.3l4.49 1.79v3.58l-4.49 1.79l-4.49 -1.79v-3.58zM903.7 348.5l4.49 1.79v3.58l-4.49 1.79l-4.49 -1.79v-3.58zM903.7 316.3l4.49 1.79v3.58l-4.49 1.79l-4.49 -1.79v-3.58zM912.7 359.3l4.49 1.79v3.58l-4.49 1.79l-4.49 -1.79v-3.58zM912.7 348.5l4.49 1.79v3.58l-4.49 1.79l-4.49 -1.79v-3.58zM468.3 310.9l4.49 1.79v3.58l-4.49 1.79l-4.49 -1.79v-3.58zM468.3 300.2l4.49 1.79v3.58l-4.49 1.79l-4.49 -1.79v-3.58zM477.3 310.9l4.49 1.79v3.58l-4.49 1.79l-4.49 -1.79v-3.58zM495.2 310.9l4.49 1.79v3.58l-4.49 1.79l-4.49 -1.79v-3.58zM513.2 310.9l4.49 1.79v3.58l-4.49 1.79l-4.49 -1.79v-3.58zM513.2 300.2l4.49 1.79v3.58l-4.49 1.79l-4.49 -1.79v-3.58zM522.2 321.7l4.49 1.79v3.58l-4.49 1.79l-4.49 -1.79v-3.58zM522.2 300.2l4.49 1.79v3.58l-4.49 1.79l-4.49 -1.79v-3.58zM549.1 321.7l4.49 1.79v3.58l-4.49 1.79l-4.49 -1.79v-3.58zM692.7 300.2l4.49 1.79v3.58l-4.49 1.79l-4.49 -1.79v-3.58zM710.7 300.2l4.49 1.79v3.58l-4.49 1.79l-4.49 -1.79v-3.58zM746.6 332.4l4.49 1.79v3.58l-4.49 1.79l-4.49 -1.79v-3.58zM755.6 332.4l4.49 1.79v3.58l-4.49 1.79l-4.49 -1.79v-3.58zM791.5 300.2l4.49 1.79v3.58l-4.49 1.79l-4.49 -1.79v-3.58zM800.5 310.9l4.49 1.79v3.58l-4.49 1.79l-4.49 -1.79v-3.58zM809.4 343.1l4.49 1.79v3.58l-4.49 1.79l-4.49 -1.79v-3.58zM818.4 343.1l4.49 1.79v3.58l-4.49 1.79l-4.49 -1.79v-3.58zM827.4 343.1l4.49 1.79v3.58l-4.49 1.79l-4.49 -1.79v-3.58zM827.4 310.9l4.49 1.79v3.58l-4.49 1.79l-4.49 -1.79v-3.58zM827.4 300.2l4.49 1.79v3.58l-4.49 1.79l-4.49 -1.79v-3.58zM845.3 300.2l4.49 1.79v3.58l-4.49 1.79l-4.49 -1.79v-3.58zM863.3 343.1l4.49 1.79v3.58l-4.49 1.79l-4.49 -1.79v-3.58zM890.2 343.1l4.49 1.79v3.58l-4.49 1.79l-4.49 -1.79v-3.58zM890.2 300.2l4.49 1.79v3.58l-4.49 1.79l-4.49 -1.79v-3.58zM899.2 343.1l4.49 1.79v3.58l-4.49 1.79l-4.49 -1.79v-3.58zM899.2 332.4l4.49 1.79v3.58l-4.49 1.79l-4.49 -1.79v-3.58zM899.2 289.4l4.49 1.79v3.58l-4.49 1.79l-4.49 -1.79v-3.58zM908.2 353.9l4.49 1.79v3.58l-4.49 1.79l-4.49 -1.79v-3.58zM926.1 343.1l4.49 1.79v3.58l-4.49 1.79l-4.49 -1.79v-3.58zM926.1 332.4l4.49 1.79v3.58l-4.49 1.79l-4.49 -1.79v-3.58z"/>
<path fill="#fecd90" stroke="#fecd90" d="M463.8 305.5l4.49 1.79v3.58l-4.49 1.79l-4.49 -1.79v-3.58zM481.8 316.3l4.49 1.79v3.58l-4.49 1.79l-4.49 -1.79v-3.58zM481.8 305.5l4.49 1.79v3.58l-4.49 1.79l-4.49 -1.79v-3.58zM490.8 305.5l4.49 1.79v3.58l-4.49 1.79l-4.49 -1.79v-3.58zM508.7 316.3l4.49 1.79v3.58l-4.49 1.79l-4.49 -1.79v-3.58zM517.7 305.5l4.49 1.79v3.58l-4.49 1.79l-4.49 -1.79v-3.58zM535.6 316.3l4.49 1.79v3.58l-4.49 1.79l-4.49 -1.79v-3.58zM553.6 316.3l4.49 1.79v3.58l-4.49 1.79l-4.49 -1.79v-3.58zM616.4 327.0l4.49 1.79v3.58l-4.49 1.79l-4.49 -1.79v-3.58zM661.3 327.0l4.49 1.79v3.58l-4.49 1.79l-4.49 -1.79v-3.58zM670.3 327.0l4.49 1.79v3.58l-4.49 1.79l-4.49 -1.79v-3.58zM679.3 327.0l4.49 1.79v3.58l-4.49 1.79l-4.49 -1.79v-3.58zM688.3 327.0l4.49 1.79v3.58l-4.49 1.79l-4.49 -1.79v-3.58zM715.2 327.0l4.49 1.79v3.58l-4.49 1.79l-4.49 -1.79v-3.58zM724.2 327.0l4.49 1.79v3.58l-4.49 1.79l-4.49 -1.79v-3.58zM733.1 294.8l4.49 1.79v3.58l-4.49 1.79l-4.49 -1.79v-3.58zM751.1 305.5l4.49 1.79v3.58l-4.49 1.79l-4.49 -1.79v-3.58zM760.1 305.5l4.49 1.79v3.58l-4.49 1.79l-4.49 -1.79v-3.58zM778.0 337.8l4.49 1.79v3.58l-4.49 1.79l-4.49 -1.79v-3.58zM778.0 327.0l4.49 1.79v3.58l-4.49 1.79l-4.49 -1.79v-3.58zM778.0 305.5l4.49 1.79v3.58l-4.49 1.79l-4.49 -1.79v-3.58zM787.0 337.8l4.49 1.79v3.58l-4.49 1.79l-4.49 -1.79v-3.58zM787.0 316.3l4.49 1.79v3.58l-4.49 1.79l-4.49 -1.79v-3.58zM796.0 316.3l4.49 1.79v3.58l-4.49 1.79l-4.49 -1.79v-3.58zM805.0 337.8l4.49 1.79v3.58l-4.49 1.79l-4.49 -1.79v-3.58zM805.0 316.3l4.49 1.79v3.58l-4.49 1.79l-4.49 -1.79v-3.58zM822.9 337.8l4.49 1.79v3.58l-4.49 1.79l-4.49 -1.79v-3.58zM831.9 305.5l4.49 1.79v3.58l-4.49 1.79l-4.49 -1.79v-3.58zM831.9 294.8l4.49 1.79v3.58l-4.49 1.79l-4.49 -1.79v-3.58zM840.9 337.8l4.49 1.79v3.58l-4.49 1.79l-4.49 -1.79v-3.58zM840.9 305.5l4.49 1.79v3.58l-4.49 1.79l-4.49 -1.79v-3.58zM858.8 316.3l4.49 1.79v3.58l-4.49 1.79l-4.49 -1.79v-3.58zM867.8 337.8l4.49 1.79v3.58l-4.49 1.79l-4.49 -1.79v-3.58zM885.7 348.5l4.49 1.79v3.58l-4.49 1.79l-4.49 -1.79v-3.58zM894.7 337.8l4.49 1.79v3.58l-4.49 1.79l-4.49 -1.79v-3.58zM903.7 337.8l4.49 1.79v3.58l-4.49 1.79l-4.49 -1.79v-3.58zM903.7 305.5l4.49 1.79v3.58l-4.49 1.79l-4.49 -1.79v-3.58zM912.7 327.0l4.49 1.79v3.58l-4.49 1.79l-4.49 -1.79v-3.58zM912.7 316.3l4.49 1.79v3.58l-4.49 1.79l-4.49 -1.79v-3.58zM912.7 305.5l4.49 1.79v3.58l-4.49 1.79l-4.49 -1.79v-3.58zM921.7 337.8l4.49 1.79v3.58l-4.49 1.79l-4.49 -1.79v-3.58zM477.3 300.2l4.49 1.79v3.58l-4.49 1.79l-4.49 -1.79v-3.58zM495.2 300.2l4.49 1.79v3.58l-4.49 1.79l-4.49 -1.79v-3.58zM549.1 300.2l4.49 1.79v3.58l-4.49 1.79l-4.49 -1.79v-3.58zM576.0 321.7l4.49 1.79v3.58l-4.49 1.79l-4.49 -1.79v-3.58zM585.0 300.2l4.49 1.79v3.58l-4.49 1.79l-4.49 -1.79v-3.58zM603.0 321.7l4.49 1.79v3.58l-4.49 1.79l-4.49 -1.79v-3.58zM611.9 300.2l4.49 1.79v3.58l-4.49 1.79l-4.49 -1.79v-3.58zM629.9 300.2l4.49 1.79v3.58l-4.49 1.79l-4.49 -1.79v-3.58zM656.8 321.7l4.49 1.79v3.58l-4.49 1.79l-4.49 -1.79v-3.58zM656.8 300.2l4.49 1.79v3.58l-4.49 1.79l-4.49 -1.79v-3.58zM665.8 321.7l4.49 1.79v3.58l-4.49 1.79l-4.49 -1.79v-3.58zM674.8 300.2l4.49 1.79v3.58l-4.49 1.79l-4.49 -1.79v-3.58zM728.6 332.4l4.49 1.79v3.58l-4.49 1.79l-4.49 -1.79v-3.58zM737.6 332.4l4.49 1.79v3.58l-4.49 1.79l-4.49 -1.79v-3.58zM737.6 321.7l4.49 1.79v3.58l-4.49 1.79l-4.49 -1.79v-3.58zM737.6 300.2l4.49 1.79v3.58l-4.49 1.79l-4.49 -1.79v-3.58zM755.6 300.2l4.49 1.79v3.58l-4.49 1.79l-4.49 -1.79v-3.58zM764.6 332.4l4.49 1.79v3.58l-4.49 1.79l-4.49 -1.79v-3.58zM782.5 321.7l4.49 1.79v3.58l-4.49 1.79l-4.49 -1.79v-3.58zM791.5 310.9l4.49 1.79v3.58l-4.49 1.79l-4.49 -1.79v-3.58zM818.4 332.4l4.49 1.79v3.58l-4.49 1.79l-4.49 -1.79v-3.58zM818.4 310.9l4.49 1.79v3.58l-4.49 1.79l-4.49 -1.79v-3.58zM818.4 300.2l4.49 1.79v3.58l-4.49 1.79l-4.49 -1.79v-3.58zM845.3 343.1l4.49 1.79v3.58l-4.49 1.79l-4.49 -1.79v-3.58zM854.3 343.1l4.49 1.79v3.58l-4.49 1.79l-4.49 -1.79v-3.58zM863.3 300.2l4.49 1.79v3.58l-4.49 1.79l-4.49 -1.79v-3.58zM872.3 343.1l4.49 1.79v3.58l-4.49 1.79l-4.49 -1.79v-3.58zM872.3 321.7l4.49 1.79v3.58l-4.49 1.79l-4.49 -1.79v-3.58zM872.3 310.9l4.49 1.79v3.58l-4.49 1.79l-4.49 -1.79v-3.58zM881.3 343.1l4.49 1.79v3.58l-4.49 1.79l-4.49 -1.79v-3.58zM881.3 321.7l4.49 1.79v3.58l-4.49 1.79l-4.49 -1.79v-3.58zM881.3 300.2l4.49 1.79v3.58l-4.49 1.79l-4.49 -1.79v-3.58zM908.2 343.1l4.49 1.79v3.58l-4.49 1.79l-4.49 -1.79v-3.58zM908.2 332.4l4.49 1.79v3.58l-4.49 1.79l-4.49 -1.79v-3.58zM908.2 321.7l4.49 1.79v3.58l-4.49 1.79l-4.49 -1.79v-3.58z"/>
<path fill="#fed799" stroke="#fed799" d="M499.7 305.5l4.49 1.79v3.58l-4.49 1.79l-4.49 -1.79v-3.58zM508.7 305.5l4.49 1.79v3.58l-4.49 1.79l-4.49 -1.79v-3.58zM517.7 316.3l4.49 1.79v3.58l-4.49 1.79l-4.49 -1.79v-3.58zM553.6 305.5l4.49 1.79v3.58l-4.49 1.79l-4.49 -1.79v-3.58zM553.6 294.8l4.49 1.79v3.58l-4.49 1.79l-4.49 -1.79v-3.58zM562.6 316.3l4.49 1.79v3.58l-4.49 1.79l-4.49 -1.79v-3.58zM571.5 316.3l4.49 1.79v3.58l-4.49 1.79l-4.49 -1.79v-3.58zM571.5 305.5l4.49 1.79v3.58l-4.49 1.79l-4.49 -1.79v-3.58zM571.5 294.8l4.49 1.79v3.58l-4.49 1.79l-4.49 -1.79v-3.58zM607.5 316.3l4.49 1.79v3.58l-4.49 1.79l-4.49 -1.79v-3.58zM616.4 316.3l4.49 1.79v3.58l-4.49 1.79l-4.49 -1.79v-3.58zM616.4 305.5l4.49 1.79v3.58l-4.49 1.79l-4.49 -1.79v-3.58zM625.4 305.5l4.49 1.79v3.58l-4.49 1.79l-4.49 -1.79v-3.58zM643.4 327.0l4.49 1.79v3.58l-4.49 1.79l-4.49 -1.79v-3.58zM652.3 327.0l4.49 1.79v3.58l-4.49 1.79l-4.49 -1.79v-3.58zM670.3 316.3l4.49 1.79v3.58l-4.49 1.79l-4.49 -1.79v-3.58zM679.3 305.5l4.49 1.79v3.58l-4.49 1.79l-4.49 -1.79v-3.58zM697.2 305.5l4.49 1.79v3.58l-4.49 1.79l-4.49 -1.79v-3.58zM724.2 305.5l4.49 1.79v3.58l-4.49 1.79l-4.49 -1.79v-3.58zM733.1 327.0l4.49 1.79v3.58l-4.49 1.79l-4.49 -1.79v-3.58zM742.1 305.5l4.49 1.79v3.58l-4.49 1.79l-4.49 -1.79v-3.58zM751.1 316.3l4.49 1.79v3.58l-4.49 1.79l-4.49 -1.79v-3.58zM760.1 327.0l4.49 1.79v3.58l-4.49 1.79l-4.49 -1.79v-3.58zM769.0 327.0l4.49 1.79v3.58l-4.49 1.79l-4.49 -1.79v-3.58zM769.0 305.5l4.49 1.79v3.58l-4.49 1.79l-4.49 -1.79v-3.58zM778.0 316.3l4.49 1.79v3.58l-4.49 1.79l-4.49 -1.79v-3.58zM787.0 327.0l4.49 1.79v3.58l-4.49 1.79l-4.49 -1.79v-3.58zM805.0 327.0l4.49 1.79v3.58l-4.49 1.79l-4.49 -1.79v-3.58zM813.9 327.0l4.49 1.79v3.58l-4.49 1.79l-4.49 -1.79v-3.58zM813.9 305.5l4.49 1.79v3.58l-4.49 1.79l-4.49 -1.79v-3.58zM822.9 316.3l4.49 1.79v3.58l-4.49 1.79l-4.49 -1.79v-3.58zM822.9 305.5l4.49 1.79v3.58l-4.49 1.79l-4.49 -1.79v-3.58zM831.9 337.8l4.49 1.79v3.58l-4.49 1.79l-4.49 -1.79v-3.58zM831.9 316.3l4.49 1.79v3.58l-4.49 1.79l-4.49 -1.79v-3.58zM840.9 316.3l4.49 1.79v3.58l-4.49 1.79l-4.49 -1.79v-3.58zM849.8 337.8l4.49 1.79v3.58l-4.49 1.79l-4.49 -1.79v-3.58zM849.8 316.3l4.49 1.79v3.58l-4.49 1.79l-4.49 -1.79v-3.58zM858.8 327.0l4.49 1.79v3.58l-4.49 1.79l-4.49 -1.79v-3.58zM858.8 305.5l4.49 1.79v3.58l-4.49 1.79l-4.49 -1.79v-3.58zM867.8 305.5l4.49 1.79v3.58l-4.49 1.79l-4.49 -1.79v-3.58zM885.7 337.8l4.49 1.79v3.58l-4.49 1.79l-4.49 -1.79v-3.58zM885.7 327.0l4.49 1.79v3.58l-4.49 1.79l-4.49 -1.79v-3.58zM885.7 316.3l4.49 1.79v3.58l-4.49 1.79l-4.49 -1.79v-3.58zM894.7 327.0l4.49 1.79v3.58l-4.49 1.79l-4.49 -1.79v-3.58zM894.7 316.3l4.49 1.79v3.58l-4.49 1.79l-4.49 -1.79v-3.58zM903.7 327.0l4.49 1.79v3.58l-4.49 1.79l-4.49 -1.79v-3.58zM921.7 327.0l4.49 1.79v3.58l-4.49 1.79l-4.49 -1.79v-3.58zM531.2 310.9l4.49 1.79v3.58l-4.49 1.79l-4.49 -1.79v-3.58zM558.1 310.9l4.49 1.79v3.58l-4.49 1.79l-4.49 -1.79v-3.58zM558.1 300.2l4.49 1.79v3.58l-4.49 1.79l-4.49 -1.79v-3.58zM567.1 321.7l4.49 1.79v3.58l-4.49 1.79l-4.49 -1.79v-3.58zM567.1 300.2l4.49 1.79v3.58l-4.49 1.79l-4.49 -1.79v-3.58zM594.0 300.2l4.49 1.79v3.58l-4.49 1.79l-4.49 -1.79v-3.58zM603.0 300.2l4.49 1.79v3.58l-4.49 1.79l-4.49 -1.79v-3.58zM611.9 321.7l4.49 1.79v3.58l-4.49 1.79l-4.49 -1.79v-3.58zM629.9 321.7l4.49 1.79v3.58l-4.49 1.79l-4.49 -1.79v-3.58zM638.9 300.2l4.49 1.79v3.58l-4.49 1.79l-4.49 -1.79v-3.58zM647.9 321.7l4.49 1.79v3.58l-4.49 1.79l-4.49 -1.79v-3.58zM647.9 300.2l4.49 1.79v3.58l-4.49 1.79l-4.49 -1.79v-3.58zM683.8 321.7l4.49 1.79v3.58l-4.49 1.79l-4.49 -1.79v-3.58zM683.8 310.9l4.49 1.79v3.58l-4.49 1.79l-4.49 -1.79v-3.58zM692.7 321.7l4.49 1.79v3.58l-4.49 1.79l-4.49 -1.79v-3.58zM692.7 310.9l4.49 1.79v3.58l-4.49 1.79l-4.49 -1.79v-3.58zM701.7 300.2l4.49 1.79v3.58l-4.49 1.79l-4.49 -1.79v-3.58zM710.7 321.7l4.49 1.79v3.58l-4.49 1.79l-4.49 -1.79v-3.58zM719.7 300.2l4.49 1.79v3.58l-4.49 1.79l-4.49 -1.79v-3.58zM728.6 300.2l4.49 1.79v3.58l-4.49 1.79l-4.49 -1.79v-3.58zM746.6 310.9l4.49 1.79v3.58l-4.49 1.79l-4.49 -1.79v-3.58zM746.6 300.2l4.49 1.79v3.58l-4.49 1.79l-4.49 -1.79v-3.58zM764.6 300.2l4.49 1.79v3.58l-4.49 1.79l-4.49 -1.79v-3.58zM773.5 332.4l4.49 1.79v3.58l-4.49 1.79l-4.49 -1.79v-3.58zM782.5 332.4l4.49 1.79v3.58l-4.49 1.79l-4.49 -1.79v-3.58zM782.5 310.9l4.49 1.79v3.58l-4.49 1.79l-4.49 -1.79v-3.58zM791.5 332.4l4.49 1.79v3.58l-4.49 1.79l-4.49 -1.79v-3.58zM800.5 332.4l4.49 1.79v3.58l-4.49 1.79l-4.49 -1.79v-3.58zM800.5 321.7l4.49 1.79v3.58l-4.49 1.79l-4.49 -1.79v-3.58zM800.5 300.2l4.49 1.79v3.58l-4.49 1.79l-4.49 -1.79v-3.58zM809.4 332.4l4.49 1.79v3.58l-4.49 1.79l-4.49 -1.79v-3.58zM827.4 332.4l4.49 1.79v3.58l-4.49 1.79l-4.49 -1.79v-3.58zM827.4 321.7l4.49 1.79v3.58l-4.49 1.79l-4.49 -1.79v-3.58zM836.4 321.7l4.49 1.79v3.58l-4.49 1.79l-4.49 -1.79v-3.58zM836.4 310.9l4.49 1.79v3.58l-4.49 1.79l-4.49 -1.79v-3.58zM845.3 332.4l4.49 1.79v3.58l-4.49 1.79l-4.49 -1.79v-3.58zM854.3 332.4l4.49 1.79v3.58l-4.49 1.79l-4.49 -1.79v-3.58zM854.3 321.7l4.49 1.79v3.58l-4.49 1.79l-4.49 -1.79v-3.58zM854.3 300.2l4.49 1.79v3.58l-4.49 1.79l-4.49 -1.79v-3.58zM863.3 321.7l4.49 1.79v3.58l-4.49 1.79l-4.49 -1.79v-3.58zM872.3 332.4l4.49 1.79v3.58l-4.49 1.79l-4.49 -1.79v-3.58zM881.3 332.4l4.49 1.79v3.58l-4.49 1.79l-4.49 -1.79v-3.58zM890.2 332.4l4.49 1.79v3.58l-4.49 1.79l-4.49 -1.79v-3.58zM890.2 321.7l4.49 1.79v3.58l-4.49 1.79l-4.49 -1.79v-3.58zM899.2 300.2l4.49 1.79v3.58l-4.49 1.79l-4.49 -1.79v-3.58z"/>
<path fill="#fde2a3" stroke="#fde2a3" d="M535.6 305.5l4.49 1.79v3.58l-4.49 1.79l-4.49 -1.79v-3.58zM544.6 305.5l4.49 1.79v3.58l-4.49 1.79l-4.49 -1.79v-3.58zM580.5 316.3l4.49 1.79v3.58l-4.49 1.79l-4.49 -1.79v-3.58zM580.5 305.5l4.49 1.79v3.58l-4.49 1.79l-4.49 -1.79v-3.58zM589.5 316.3l4.49 1.79v3.58l-4.49 1.79l-4.49 -1.79v-3.58zM589.5 305.5l4.49 1.79v3.58l-4.49 1.79l-4.49 -1.79v-3.58zM598.5 316.3l4.49 1.79v3.58l-4.49 1.79l-4.49 -1.79v-3.58zM598.5 305.5l4.49 1.79v3.58l-4.49 1.79l-4.49 -1.79v-3.58zM625.4 316.3l4.49 1.79v3.58l-4.49 1.79l-4.49 -1.79v-3.58zM661.3 305.5l4.49 1.79v3.58l-4.49 1.79l-4.49 -1.79v-3.58zM670.3 305.5l4.49 1.79v3.58l-4.49 1.79l-4.49 -1.79v-3.58zM688.3 316.3l4.49 1.79v3.58l-4.49 1.79l-4.49 -1.79v-3.58zM697.2 316.3l4.49 1.79v3.58l-4.49 1.79l-4.49 -1.79v-3.58zM706.2 305.5l4.49 1.79v3.58l-4.49 1.79l-4.49 -1.79v-3.58zM742.1 327.0l4.49 1.79v3.58l-4.49 1.79l-4.49 -1.79v-3.58zM787.0 305.5l4.49 1.79v3.58l-4.49 1.79l-4.49 -1.79v-3.58zM796.0 305.5l4.49 1.79v3.58l-4.49 1.79l-4.49 -1.79v-3.58zM805.0 305.5l4.49 1.79v3.58l-4.49 1.79l-4.49 -1.79v-3.58zM822.9 327.0l4.49 1.79v3.58l-4.49 1.79l-4.49 -1.79v-3.58zM840.9 327.0l4.49 1.79v3.58l-4.49 1.79l-4.49 -1.79v-3.58zM849.8 327.0l4.49 1.79v3.58l-4.49 1.79l-4.49 -1.79v-3.58zM867.8 327.0l4.49 1.79v3.58l-4.49 1.79l-4.49 -1.79v-3.58zM867.8 316.3l4.49 1.79v3.58l-4.49 1.79l-4.49 -1.79v-3.58zM876.8 337.8l4.49 1.79v3.58l-4.49 1.79l-4.49 -1.79v-3.58zM876.8 327.0l4.49 1.79v3.58l-4.49 1.79l-4.49 -1.79v-3.58zM876.8 316.3l4.49 1.79v3.58l-4.49 1.79l-4.49 -1.79v-3.58zM894.7 305.5l4.49 1.79v3.58l-4.49 1.79l-4.49 -1.79v-3.58zM912.7 337.8l4.49 1.79v3.58l-4.49 1.79l-4.49 -1.79v-3.58zM504.2 310.9l4.49 1.79v3.58l-4.49 1.79l-4.49 -1.79v-3.58zM522.2 310.9l4.49 1.79v3.58l-4.49 1.79l-4.49 -1.79v-3.58zM540.1 300.2l4.49 1.79v3.58l-4.49 1.79l-4.49 -1.79v-3.58zM549.1 310.9l4.49 1.79v3.58l-4.49 1.79l-4.49 -1.79v-3.58zM576.0 310.9l4.49 1.79v3.58l-4.49 1.79l-4.49 -1.79v-3.58zM585.0 321.7l4.49 1.79v3.58l-4.49 1.79l-4.49 -1.79v-3.58zM594.0 321.7l4.49 1.79v3.58l-4.49 1.79l-4.49 -1.79v-3.58zM620.9 321.7l4.49 1.79v3.58l-4.49 1.79l-4.49 -1.79v-3.58zM638.9 321.7l4.49 1.79v3.58l-4.49 1.79l-4.49 -1.79v-3.58zM665.8 300.2l4.49 1.79v3.58l-4.49 1.79l-4.49 -1.79v-3.58zM674.8 321.7l4.49 1.79v3.58l-4.49 1.79l-4.49 -1.79v-3.58zM674.8 310.9l4.49 1.79v3.58l-4.49 1.79l-4.49 -1.79v-3.58zM683.8 300.2l4.49 1.79v3.58l-4.49 1.79l-4.49 -1.79v-3.58zM701.7 321.7l4.49 1.79v3.58l-4.49 1.79l-4.49 -1.79v-3.58zM701.7 310.9l4.49 1.79v3.58l-4.49 1.79l-4.49 -1.79v-3.58zM746.6 321.7l4.49 1.79v3.58l-4.49 1.79l-4.49 -1.79v-3.58zM755.6 321.7l4.49 1.79v3.58l-4.49 1.79l-4.49 -1.79v-3.58zM764.6 310.9l4.49 1.79v3.58l-4.49 1.79l-4.49 -1.79v-3.58zM773.5 321.7l4.49 1.79v3.58l-4.49 1.79l-4.49 -1.79v-3.58zM773.5 310.9l4.49 1.79v3.58l-4.49 1.79l-4.49 -1.79v-3.58zM791.5 321.7l4.49 1.79v3.58l-4.49 1.79l-4.49 -1.79v-3.58zM809.4 321.7l4.49 1.79v3.58l-4.49 1.79l-4.49 -1.79v-3.58zM809.4 310.9l4.49 1.79v3.58l-4.49 1.79l-4.49 -1.79v-3.58zM818.4 321.7l4.49 1.79v3.58l-4.49 1.79l-4.49 -1.79v-3.58zM836.4 332.4l4.49 1.79v3.58l-4.49 1.79l-4.49 -1.79v-3.58zM845.3 310.9l4.49 1.79v3.58l-4.49 1.79l-4.49 -1.79v-3.58zM854.3 310.9l4.49 1.79v3.58l-4.49 1.79l-4.49 -1.79v-3.58zM863.3 332.4l4.49 1.79v3.58l-4.49 1.79l-4.49 -1.79v-3.58zM863.3 310.9l4.49 1.79v3.58l-4.49 1.79l-4.49 -1.79v-3.58zM881.3 310.9l4.49 1.79v3.58l-4.49 1.79l-4.49 -1.79v-3.58z"/>
<path fill="#fdebac" stroke="#fdebac" d="M544.6 316.3l4.49 1.79v3.58l-4.49 1.79l-4.49 -1.79v-3.58zM562.6 305.5l4.49 1.79v3.58l-4.49 1.79l-4.49 -1.79v-3.58zM607.5 305.5l4.49 1.79v3.58l-4.49 1.79l-4.49 -1.79v-3.58zM634.4 316.3l4.49 1.79v3.58l-4.49 1.79l-4.49 -1.79v-3.58zM643.4 316.3l4.49 1.79v3.58l-4.49 1.79l-4.49 -1.79v-3.58zM652.3 316.3l4.49 1.79v3.58l-4.49 1.79l-4.49 -1.79v-3.58zM652.3 305.5l4.49 1.79v3.58l-4.49 1.79l-4.49 -1.79v-3.58zM661.3 316.3l4.49 1.79v3.58l-4.49 1.79l-4.49 -1.79v-3.58zM679.3 316.3l4.49 1.79v3.58l-4.49 1.79l-4.49 -1.79v-3.58zM688.3 305.5l4.49 1.79v3.58l-4.49 1.79l-4.49 -1.79v-3.58zM706.2 316.3l4.49 1.79v3.58l-4.49 1.79l-4.49 -1.79v-3.58zM715.2 305.5l4.49 1.79v3.58l-4.49 1.79l-4.49 -1.79v-3.58zM733.1 316.3l4.49 1.79v3.58l-4.49 1.79l-4.49 -1.79v-3.58zM742.1 316.3l4.49 1.79v3.58l-4.49 1.79l-4.49 -1.79v-3.58zM760.1 316.3l4.49 1.79v3.58l-4.49 1.79l-4.49 -1.79v-3.58zM769.0 316.3l4.49 1.79v3.58l-4.49 1.79l-4.49 -1.79v-3.58zM540.1 310.9l4.49 1.79v3.58l-4.49 1.79l-4.49 -1.79v-3.58zM567.1 310.9l4.49 1.79v3.58l-4.49 1.79l-4.49 -1.79v-3.58zM576.0 300.2l4.49 1.79v3.58l-4.49 1.79l-4.49 -1.79v-3.58zM594.0 310.9l4.49 1.79v3.58l-4.49 1.79l-4.49 -1.79v-3.58zM603.0 310.9l4.49 1.79v3.58l-4.49 1.79l-4.49 -1.79v-3.58zM611.9 310.9l4.49 1.79v3.58l-4.49 1.79l-4.49 -1.79v-3.58zM629.9 310.9l4.49 1.79v3.58l-4.49 1.79l-4.49 -1.79v-3.58zM638.9 310.9l4.49 1.79v3.58l-4.49 1.79l-4.49 -1.79v-3.58zM647.9 310.9l4.49 1.79v3.58l-4.49 1.79l-4.49 -1.79v-3.58zM656.8 310.9l4.49 1.79v3.58l-4.49 1.79l-4.49 -1.79v-3.58zM665.8 310.9l4.49 1.79v3.58l-4.49 1.79l-4.49 -1.79v-3.58zM710.7 310.9l4.49 1.79v3.58l-4.49 1.79l-4.49 -1.79v-3.58zM719.7 321.7l4.49 1.79v3.58l-4.49 1.79l-4.49 -1.79v-3.58zM728.6 321.7l4.49 1.79v3.58l-4.49 1.79l-4.49 -1.79v-3.58zM737.6 310.9l4.49 1.79v3.58l-4.49 1.79l-4.49 -1.79v-3.58zM755.6 310.9l4.49 1.79v3.58l-4.49 1.79l-4.49 -1.79v-3.58zM764.6 321.7l4.49 1.79v3.58l-4.49 1.79l-4.49 -1.79v-3.58zM845.3 321.7l4.49 1.79v3.58l-4.49 1.79l-4.49 -1.79v-3.58z"/>
<path fill="#fcf4b6" stroke="#fcf4b6" d="M634.4 305.5l4.49 1.79v3.58l-4.49 1.79l-4.49 -1.79v-3.58zM643.4 305.5l4.49 1.79v3.58l-4.49 1.79l-4.49 -1.79v-3.58zM715.2 316.3l4.49 1.79v3.58l-4.49 1.79l-4.49 -1.79v-3.58zM724.2 316.3l4.49 1.79v3.58l-4.49 1.79l-4.49 -1.79v-3.58zM585.0 310.9l4.49 1.79v3.58l-4.49 1.79l-4.49 -1.79v-3.58zM620.9 310.9l4.49 1.79v3.58l-4.49 1.79l-4.49 -1.79v-3.58zM728.6 310.9l4.49 1.79v3.58l-4.49 1.79l-4.49 -1.79v-3.58z"/>
<path fill="#fcfdbf" stroke="#fcfdbf" d="M719.7 310.9l4.49 1.79v3.58l-4.49 1.79l-4.49 -1.79v-3.58z"/>
</g>
<g fill="#ff0000" stroke="#000" stroke-width="1.6"><circle cx="176.8" cy="298.9" r="5.45"/><circle cx="187.6" cy="299.7" r="5.45"/><circle cx="198.4" cy="299.1" r="5.45"/><circle cx="209.2" cy="299.7" r="5.45"/><circle cx="220.0" cy="299.7" r="5.45"/><circle cx="230.9" cy="304.4" r="5.45"/><circle cx="241.7" cy="302.4" r="5.45"/><circle cx="252.5" cy="302.4" r="5.45"/><circle cx="263.3" cy="302.0" r="5.45"/><circle cx="274.1" cy="301.2" r="5.45"/><circle cx="284.9" cy="304.5" r="5.45"/><circle cx="295.8" cy="304.1" r="5.45"/><circle cx="306.6" cy="302.7" r="5.45"/><circle cx="317.4" cy="304.7" r="5.45"/><circle cx="328.2" cy="304.3" r="5.45"/><circle cx="339.0" cy="305.3" r="5.45"/><circle cx="349.8" cy="305.9" r="5.45"/><circle cx="360.6" cy="305.9" r="5.45"/><circle cx="371.5" cy="306.4" r="5.45"/><circle cx="382.3" cy="306.4" r="5.45"/><circle cx="393.1" cy="306.5" r="5.45"/><circle cx="403.9" cy="307.7" r="5.45"/><circle cx="414.7" cy="307.9" r="5.45"/><circle cx="425.5" cy="310.0" r="5.45"/><circle cx="436.4" cy="307.9" r="5.45"/><circle cx="447.2" cy="308.1" r="5.45"/><circle cx="458.0" cy="308.5" r="5.45"/><circle cx="468.8" cy="311.4" r="5.45"/><circle cx="479.6" cy="311.4" r="5.45"/><circle cx="490.4" cy="311.2" r="5.45"/><circle cx="501.2" cy="312.9" r="5.45"/><circle cx="512.1" cy="312.4" r="5.45"/><circle cx="522.9" cy="312.6" r="5.45"/><circle cx="533.7" cy="312.0" r="5.45"/><circle cx="544.5" cy="312.6" r="5.45"/><circle cx="555.3" cy="312.4" r="5.45"/><circle cx="566.1" cy="312.8" r="5.45"/><circle cx="577.0" cy="312.0" r="5.45"/><circle cx="587.8" cy="313.2" r="5.45"/><circle cx="598.6" cy="312.8" r="5.45"/><circle cx="609.4" cy="312.8" r="5.45"/><circle cx="620.2" cy="313.2" r="5.45"/><circle cx="631.0" cy="313.2" r="5.45"/><circle cx="641.9" cy="313.8" r="5.45"/><circle cx="652.7" cy="313.2" r="5.45"/><circle cx="663.5" cy="313.2" r="5.45"/><circle cx="674.3" cy="314.0" r="5.45"/><circle cx="685.1" cy="313.8" r="5.45"/><circle cx="695.9" cy="315.2" r="5.45"/><circle cx="706.7" cy="315.0" r="5.45"/><circle cx="717.6" cy="314.4" r="5.45"/><circle cx="728.4" cy="314.7" r="5.45"/><circle cx="739.2" cy="317.0" r="5.45"/><circle cx="750.0" cy="317.6" r="5.45"/><circle cx="760.8" cy="317.6" r="5.45"/><circle cx="771.6" cy="318.2" r="5.45"/><circle cx="782.5" cy="320.9" r="5.45"/><circle cx="793.3" cy="321.1" r="5.45"/><circle cx="804.1" cy="321.7" r="5.45"/><circle cx="814.9" cy="322.1" r="5.45"/><circle cx="825.7" cy="323.5" r="5.45"/><circle cx="836.5" cy="322.8" r="5.45"/><circle cx="847.3" cy="322.9" r="5.45"/><circle cx="858.2" cy="327.4" r="5.45"/><circle cx="869.0" cy="325.5" r="5.45"/><circle cx="879.8" cy="328.2" r="5.45"/><circle cx="890.6" cy="327.4" r="5.45"/><circle cx="901.4" cy="331.7" r="5.45"/><circle cx="912.2" cy="334.3" r="5.45"/><circle cx="923.1" cy="337.0" r="5.45"/><circle cx="933.9" cy="339.8" r="5.45"/><circle cx="944.7" cy="345.8" r="5.45"/><circle cx="955.5" cy="354.2" r="5.45"/><circle cx="966.3" cy="367.0" r="5.45"/><circle cx="977.1" cy="367.9" r="5.45"/><circle cx="988.0" cy="374.8" r="5.45"/></g>
<line x1="122.7" y1="314.85" x2="1020.4" y2="314.85" stroke="#ff0000" stroke-width="3.5" stroke-dasharray="11.95 5.1"/>
<g stroke="#000" stroke-width="1.2"><line x1="176.8" y1="620.6" x2="176.8" y2="626.5"/><line x1="284.9" y1="620.6" x2="284.9" y2="626.5"/><line x1="393.1" y1="620.6" x2="393.1" y2="626.5"/><line x1="501.2" y1="620.6" x2="501.2" y2="626.5"/><line x1="609.4" y1="620.6" x2="609.4" y2="626.5"/><line x1="717.6" y1="620.6" x2="717.6" y2="626.5"/><line x1="825.7" y1="620.6" x2="825.7" y2="626.5"/><line x1="933.9" y1="620.6" x2="933.9" y2="626.5"/><line x1="116.8" y1="620.6" x2="122.7" y2="620.6"/><line x1="116.8" y1="544.1" x2="122.7" y2="544.1"/><line x1="116.8" y1="467.6" x2="122.7" y2="467.6"/><line x1="116.8" y1="391.0" x2="122.7" y2="391.0"/><line x1="116.8" y1="314.5" x2="122.7" y2="314.5"/><line x1="116.8" y1="238.0" x2="122.7" y2="238.0"/><line x1="116.8" y1="161.4" x2="122.7" y2="161.4"/><line x1="116.8" y1="84.9" x2="122.7" y2="84.9"/><line x1="116.8" y1="8.4" x2="122.7" y2="8.4"/></g>
<rect x="122.7" y="8.4" width="897.7" height="612.2" fill="none" stroke="#000" stroke-width="3.1"/>
<g font-size="24.4px"><text x="176.8" y="650.7" text-anchor="middle">14</text><text x="284.9" y="650.7" text-anchor="middle">15</text><text x="393.1" y="650.7" text-anchor="middle">16</text><text x="501.2" y="650.7" text-anchor="middle">17</text><text x="609.4" y="650.7" text-anchor="middle">18</text><text x="717.6" y="650.7" text-anchor="middle">19</text><text x="825.7" y="650.7" text-anchor="middle">20</text><text x="933.9" y="650.7" text-anchor="middle">21</text><text x="112.1" y="630.9" text-anchor="end">−0.20</text><text x="112.1" y="554.4" text-anchor="end">−0.15</text><text x="112.1" y="477.9" text-anchor="end">−0.10</text><text x="112.1" y="401.3" text-anchor="end">−0.05</text><text x="112.1" y="324.8" text-anchor="end">0.00</text><text x="112.1" y="248.3" text-anchor="end">0.05</text><text x="112.1" y="171.7" text-anchor="end">0.10</text><text x="112.1" y="95.2" text-anchor="end">0.15</text><text x="112.1" y="18.7" text-anchor="end">0.20</text></g>
<text x="571.7" y="686.5" text-anchor="middle" font-size="32.25px">r SDSS [mag]</text>
<text transform="translate(23.6,314.7) rotate(-90)" text-anchor="middle" font-size="32.25px">r PS1 - SDSS [mag]</text>
</svg>
</body></html>
